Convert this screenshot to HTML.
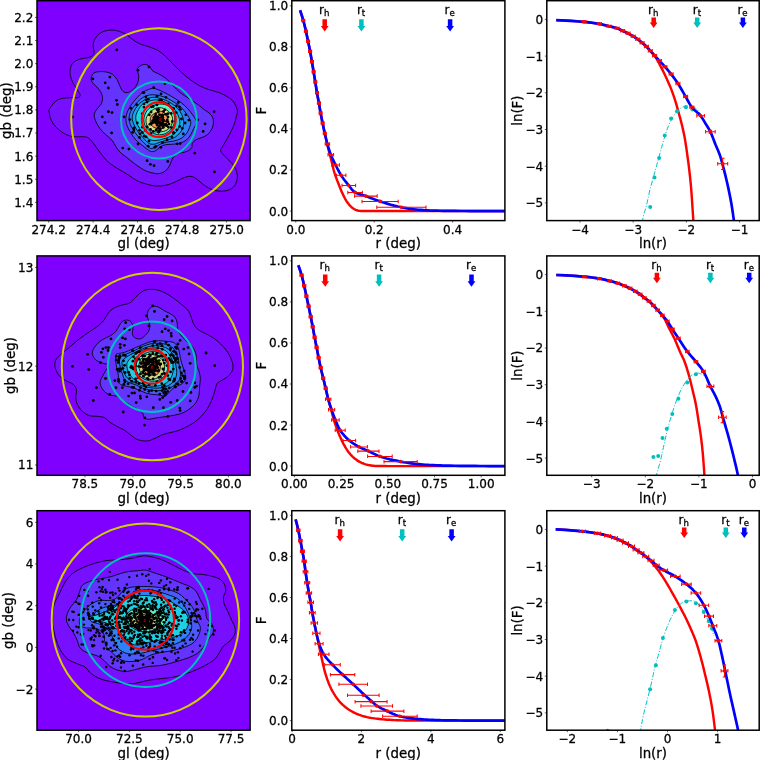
<!DOCTYPE html>
<html><head><meta charset="utf-8"><title>figure</title>
<style>html,body{margin:0;padding:0;background:#fff}svg{display:block}</style></head>
<body>
<svg width="760" height="760" viewBox="0 0 760 760" font-family="'DejaVu Sans','Liberation Sans',sans-serif" fill="#000"><style>text{stroke:#000;stroke-width:0.28px}</style>
<rect width="760" height="760" fill="#fff"/>
<defs>
<clipPath id="c00"><rect x="37.00" y="0.70" width="213.10" height="219.90"/></clipPath>
<clipPath id="c01"><rect x="37.00" y="255.90" width="213.10" height="219.40"/></clipPath>
<clipPath id="c02"><rect x="37.00" y="510.70" width="213.10" height="219.50"/></clipPath>
<clipPath id="c10"><rect x="291.80" y="0.70" width="213.10" height="219.90"/></clipPath>
<clipPath id="c11"><rect x="291.80" y="255.90" width="213.10" height="219.40"/></clipPath>
<clipPath id="c12"><rect x="291.80" y="510.70" width="213.10" height="219.50"/></clipPath>
<clipPath id="c20"><rect x="546.80" y="0.70" width="212.40" height="219.90"/></clipPath>
<clipPath id="c21"><rect x="546.80" y="255.90" width="212.40" height="219.40"/></clipPath>
<clipPath id="c22"><rect x="546.80" y="510.70" width="212.40" height="219.50"/></clipPath>
</defs>
<g clip-path="url(#c00)">
<rect x="37.00" y="0.70" width="213.10" height="219.90" fill="#7f00ff"/>
<path d="M49.75,108.50C51.15,106.33 54.44,101.70 57.70,99.90C60.96,98.10 65.92,98.07 69.30,97.70C72.68,97.33 76.20,98.18 78.00,97.70C79.80,97.22 80.23,96.13 80.10,94.80C79.97,93.47 78.52,91.98 77.20,89.70C75.88,87.42 73.40,83.98 72.20,81.10C71.00,78.22 70.00,75.30 70.00,72.40C70.00,69.50 70.63,65.88 72.20,63.70C73.77,61.52 76.50,60.38 79.40,59.30C82.30,58.22 87.18,58.15 89.60,57.20C92.02,56.25 93.30,55.65 93.90,53.60C94.50,51.55 92.97,47.43 93.20,44.90C93.43,42.37 93.98,40.45 95.30,38.40C96.62,36.35 98.68,33.98 101.10,32.60C103.52,31.22 106.90,30.35 109.80,30.10C112.70,29.85 115.72,30.33 118.50,31.10C121.28,31.87 124.08,33.25 126.50,34.70C128.92,36.15 130.72,38.23 133.00,39.80C135.28,41.37 137.42,42.90 140.20,44.10C142.98,45.30 146.67,45.90 149.70,47.00C152.73,48.10 155.75,49.13 158.40,50.70C161.05,52.27 163.20,54.23 165.60,56.40C168.00,58.57 170.15,61.03 172.80,63.70C175.45,66.37 178.60,69.75 181.50,72.40C184.40,75.05 187.30,77.43 190.20,79.60C193.10,81.77 195.77,83.72 198.90,85.40C202.03,87.08 205.62,88.50 209.00,89.70C212.38,90.90 216.07,91.38 219.20,92.60C222.33,93.82 225.40,95.43 227.80,97.00C230.20,98.57 232.02,99.83 233.60,102.00C235.18,104.17 236.82,107.70 237.30,110.00C237.78,112.30 237.12,113.15 236.50,115.80C235.88,118.45 235.05,122.28 233.60,125.90C232.15,129.52 229.60,134.12 227.80,137.50C226.00,140.88 224.00,144.03 222.80,146.20C221.60,148.37 220.48,149.05 220.60,150.50C220.72,151.95 221.82,152.97 223.50,154.90C225.18,156.83 228.65,159.70 230.70,162.10C232.75,164.50 234.70,166.65 235.80,169.30C236.90,171.95 237.53,175.22 237.30,178.00C237.07,180.78 235.98,183.95 234.40,186.00C232.82,188.05 230.33,189.45 227.80,190.30C225.27,191.15 222.08,191.33 219.20,191.10C216.32,190.87 213.17,190.00 210.50,188.90C207.83,187.80 205.38,186.07 203.20,184.50C201.02,182.93 199.20,180.82 197.40,179.50C195.60,178.18 194.08,177.08 192.40,176.60C190.72,176.12 189.12,176.23 187.30,176.60C185.48,176.97 183.67,177.83 181.50,178.80C179.33,179.77 176.95,181.32 174.30,182.40C171.65,183.48 168.73,184.70 165.60,185.30C162.47,185.90 158.68,186.20 155.50,186.00C152.32,185.80 149.53,184.95 146.50,184.10C143.47,183.25 140.28,182.40 137.30,180.90C134.32,179.40 131.25,176.78 128.60,175.10C125.95,173.42 123.80,172.25 121.40,170.80C119.00,169.35 116.62,168.08 114.20,166.40C111.78,164.72 109.32,163.10 106.90,160.70C104.48,158.30 101.87,154.78 99.70,152.00C97.53,149.22 95.58,146.18 93.90,144.00C92.22,141.82 91.05,140.10 89.60,138.90C88.15,137.70 87.13,137.15 85.20,136.80C83.27,136.45 80.42,136.92 78.00,136.80C75.58,136.68 73.12,136.70 70.70,136.10C68.28,135.50 65.90,134.65 63.50,133.20C61.10,131.75 58.35,129.58 56.30,127.40C54.25,125.22 52.37,122.52 51.20,120.10C50.03,117.68 49.54,114.83 49.30,112.90C49.06,110.97 48.35,110.67 49.75,108.50Z" fill="#7610ff" stroke="#000" stroke-width="0.85"/>
<path d="M101.10,104.20C102.03,102.43 102.60,100.33 102.60,98.40C102.60,96.47 102.07,94.53 101.10,92.60C100.13,90.67 98.25,88.48 96.80,86.80C95.35,85.12 93.33,83.97 92.40,82.50C91.47,81.03 90.95,79.57 91.20,78.00C91.45,76.43 92.48,74.17 93.90,73.10C95.32,72.03 97.53,71.77 99.70,71.60C101.87,71.43 104.73,71.62 106.90,72.10C109.07,72.58 111.00,73.25 112.70,74.50C114.40,75.75 115.90,77.67 117.10,79.60C118.30,81.53 118.95,84.17 119.90,86.10C120.85,88.03 121.58,90.12 122.80,91.20C124.02,92.28 125.50,92.85 127.20,92.60C128.90,92.35 131.32,91.15 133.00,89.70C134.68,88.25 136.33,86.07 137.30,83.90C138.27,81.73 138.80,79.10 138.80,76.70C138.80,74.30 137.07,71.30 137.30,69.50C137.53,67.70 138.87,66.75 140.20,65.90C141.53,65.05 143.72,64.28 145.30,64.40C146.88,64.52 148.48,65.52 149.70,66.60C150.92,67.68 151.15,69.70 152.60,70.90C154.05,72.10 156.23,72.58 158.40,73.80C160.57,75.02 163.20,76.27 165.60,78.20C168.00,80.13 170.38,83.00 172.80,85.40C175.22,87.80 177.43,90.43 180.10,92.60C182.77,94.77 185.92,96.47 188.80,98.40C191.68,100.33 194.75,102.27 197.40,104.20C200.05,106.13 202.77,108.55 204.70,110.00C206.63,111.45 207.68,111.70 209.00,112.90C210.32,114.10 211.87,115.52 212.60,117.20C213.33,118.88 213.52,121.07 213.40,123.00C213.28,124.93 212.87,126.87 211.90,128.80C210.93,130.73 209.28,133.15 207.60,134.60C205.92,136.05 203.73,136.65 201.80,137.50C199.87,138.35 197.57,138.73 196.00,139.70C194.43,140.67 193.12,141.98 192.40,143.30C191.68,144.62 192.55,146.27 191.70,147.60C190.85,148.93 189.00,150.45 187.30,151.30C185.60,152.15 183.43,152.10 181.50,152.70C179.57,153.30 177.27,153.82 175.70,154.90C174.13,155.98 173.07,157.52 172.10,159.20C171.13,160.88 170.98,163.07 169.90,165.00C168.82,166.93 167.52,169.35 165.60,170.80C163.68,172.25 161.05,173.47 158.40,173.70C155.75,173.93 152.18,172.87 149.70,172.20C147.22,171.53 146.05,171.13 143.50,169.70C140.95,168.27 137.12,165.58 134.40,163.60C131.68,161.62 129.62,159.73 127.20,157.80C124.78,155.87 121.83,153.93 119.90,152.00C117.97,150.07 116.80,148.02 115.60,146.20C114.40,144.38 113.90,142.67 112.70,141.10C111.50,139.53 110.08,138.37 108.40,136.80C106.72,135.23 104.30,133.52 102.60,131.70C100.90,129.88 99.42,127.83 98.20,125.90C96.98,123.97 95.95,122.03 95.30,120.10C94.65,118.17 94.02,116.15 94.30,114.30C94.58,112.45 95.87,110.68 97.00,109.00C98.13,107.32 100.17,105.97 101.10,104.20Z" fill="#6434fe" stroke="#000" stroke-width="0.85"/>
<path d="M153.79,88.42C155.72,88.60 157.82,89.56 160.11,90.53C162.39,91.49 165.02,92.89 167.47,94.21C169.93,95.53 172.56,97.02 174.84,98.42C177.12,99.82 179.05,100.96 181.16,102.63C183.26,104.30 185.46,106.23 187.47,108.42C189.49,110.61 191.77,113.51 193.26,115.79C194.75,118.07 196.33,120.00 196.42,122.11C196.51,124.21 194.75,126.32 193.79,128.42C192.82,130.53 191.86,132.81 190.63,134.74C189.40,136.67 188.18,138.60 186.42,140.00C184.67,141.40 182.39,142.46 180.11,143.16C177.82,143.86 175.19,143.95 172.74,144.21C170.28,144.47 167.47,144.30 165.37,144.74C163.26,145.18 161.68,145.88 160.11,146.84C158.53,147.81 157.30,149.74 155.89,150.53C154.49,151.32 153.09,151.75 151.68,151.58C150.28,151.40 149.05,150.53 147.47,149.47C145.89,148.42 144.14,146.84 142.21,145.26C140.28,143.68 137.82,142.11 135.89,140.00C133.96,137.89 132.12,135.09 130.63,132.63C129.14,130.18 127.74,127.72 126.95,125.26C126.16,122.81 125.72,120.35 125.89,117.89C126.07,115.44 127.04,112.81 128.00,110.53C128.96,108.25 130.19,106.32 131.68,104.21C133.18,102.11 135.19,99.82 136.95,97.89C138.70,95.96 140.28,94.04 142.21,92.63C144.14,91.23 146.60,90.18 148.53,89.47C150.46,88.77 151.86,88.25 153.79,88.42Z" fill="#4a5afb" stroke="#000" stroke-width="0.85"/>
<path d="M152.74,94.74C155.02,94.74 157.65,95.18 160.11,95.79C162.56,96.40 165.02,97.28 167.47,98.42C169.93,99.56 172.56,101.14 174.84,102.63C177.12,104.12 179.23,105.53 181.16,107.37C183.09,109.21 184.84,111.40 186.42,113.68C188.00,115.96 190.11,118.77 190.63,121.05C191.16,123.33 190.28,125.26 189.58,127.37C188.88,129.47 187.82,131.84 186.42,133.68C185.02,135.53 183.26,137.19 181.16,138.42C179.05,139.65 176.25,140.44 173.79,141.05C171.33,141.67 168.70,141.58 166.42,142.11C164.14,142.63 162.04,143.33 160.11,144.21C158.18,145.09 156.42,146.67 154.84,147.37C153.26,148.07 152.04,148.77 150.63,148.42C149.23,148.07 148.00,146.67 146.42,145.26C144.84,143.86 142.91,141.93 141.16,140.00C139.40,138.07 137.56,135.96 135.89,133.68C134.23,131.40 132.30,128.77 131.16,126.32C130.02,123.86 129.14,121.40 129.05,118.95C128.96,116.49 129.67,113.86 130.63,111.58C131.60,109.30 133.26,107.28 134.84,105.26C136.42,103.25 138.18,101.05 140.11,99.47C142.04,97.89 144.32,96.58 146.42,95.79C148.53,95.00 150.46,94.74 152.74,94.74Z" fill="#2e82f6" stroke="#000" stroke-width="0.85"/>
<path d="M152.74,97.37C155.37,97.11 157.65,97.81 160.11,98.42C162.56,99.04 165.02,99.82 167.47,101.05C169.93,102.28 172.74,104.04 174.84,105.79C176.95,107.54 178.70,109.39 180.11,111.58C181.51,113.77 182.74,116.49 183.26,118.95C183.79,121.40 183.79,124.04 183.26,126.32C182.74,128.60 181.51,130.79 180.11,132.63C178.70,134.47 176.95,136.14 174.84,137.37C172.74,138.60 169.93,139.21 167.47,140.00C165.02,140.79 162.39,141.40 160.11,142.11C157.82,142.81 155.72,144.04 153.79,144.21C151.86,144.39 150.28,144.21 148.53,143.16C146.77,142.11 145.02,139.82 143.26,137.89C141.51,135.96 139.58,133.86 138.00,131.58C136.42,129.30 134.75,126.49 133.79,124.21C132.82,121.93 132.21,120.00 132.21,117.89C132.21,115.79 132.82,113.68 133.79,111.58C134.75,109.47 136.25,107.19 138.00,105.26C139.75,103.33 141.86,101.32 144.32,100.00C146.77,98.68 150.11,97.63 152.74,97.37Z" fill="#14a8ee" stroke="#000" stroke-width="0.85"/>
<path d="M153.79,100.00C156.95,99.56 159.58,100.26 162.21,101.05C164.84,101.84 167.39,103.16 169.58,104.74C171.77,106.32 173.79,108.33 175.37,110.53C176.95,112.72 178.35,115.44 179.05,117.89C179.75,120.35 180.02,122.98 179.58,125.26C179.14,127.54 177.91,129.74 176.42,131.58C174.93,133.42 172.82,135.09 170.63,136.32C168.44,137.54 165.72,138.25 163.26,138.95C160.81,139.65 158.18,140.44 155.89,140.53C153.61,140.61 151.51,140.44 149.58,139.47C147.65,138.51 145.98,136.58 144.32,134.74C142.65,132.89 140.89,130.53 139.58,128.42C138.26,126.32 137.04,124.21 136.42,122.11C135.81,120.00 135.54,117.89 135.89,115.79C136.25,113.68 137.30,111.49 138.53,109.47C139.75,107.46 140.72,105.26 143.26,103.68C145.81,102.11 150.63,100.44 153.79,100.00Z" fill="#1fd0e2" stroke="#000" stroke-width="0.85"/>
<path d="M174.71,119.30C174.70,120.89 174.49,122.57 174.00,124.07C173.50,125.57 172.69,127.05 171.75,128.32C170.81,129.58 169.63,130.72 168.37,131.67C167.12,132.62 165.69,133.47 164.21,134.00C162.74,134.53 161.07,134.86 159.50,134.84C157.93,134.83 156.29,134.44 154.81,133.92C153.33,133.39 151.92,132.59 150.61,131.69C149.31,130.79 148.01,129.75 146.99,128.51C145.97,127.26 145.01,125.78 144.49,124.24C143.96,122.71 143.76,120.92 143.84,119.30C143.91,117.68 144.37,116.01 144.95,114.51C145.53,113.01 146.34,111.56 147.30,110.32C148.25,109.07 149.43,107.92 150.70,107.03C151.97,106.15 153.45,105.49 154.91,105.00C156.38,104.52 157.94,104.23 159.50,104.12C161.06,104.02 162.73,104.01 164.29,104.38C165.84,104.74 167.50,105.38 168.82,106.31C170.13,107.24 171.31,108.60 172.19,109.96C173.06,111.33 173.64,112.95 174.07,114.51C174.49,116.06 174.72,117.71 174.71,119.30Z" fill="#5cf5c8" stroke="#000" stroke-width="0.85"/>
<path d="M172.62,120.20C172.58,121.48 172.30,122.80 171.87,124.00C171.43,125.21 170.83,126.45 170.01,127.45C169.20,128.46 168.12,129.39 166.99,130.06C165.85,130.72 164.50,131.12 163.22,131.45C161.94,131.77 160.63,131.93 159.30,132.00C157.97,132.08 156.56,132.14 155.22,131.90C153.88,131.65 152.41,131.23 151.24,130.54C150.07,129.84 148.99,128.79 148.19,127.72C147.40,126.64 146.83,125.34 146.45,124.09C146.08,122.84 145.90,121.47 145.97,120.20C146.04,118.93 146.38,117.60 146.89,116.44C147.41,115.29 148.22,114.23 149.04,113.26C149.87,112.29 150.81,111.42 151.84,110.63C152.87,109.84 153.99,109.03 155.23,108.53C156.48,108.03 157.93,107.66 159.30,107.63C160.67,107.61 162.13,107.94 163.42,108.38C164.71,108.82 165.93,109.52 167.04,110.27C168.15,111.03 169.22,111.90 170.06,112.91C170.90,113.92 171.65,115.12 172.08,116.33C172.51,117.55 172.65,118.92 172.62,120.20Z" fill="#d4dd80" stroke="#000" stroke-width="0.85"/>
<path d="M167.80,120.20C167.71,121.07 167.39,121.93 167.08,122.73C166.77,123.54 166.38,124.30 165.93,125.05C165.47,125.80 165.00,126.62 164.33,127.24C163.67,127.86 162.82,128.46 161.95,128.76C161.07,129.06 160.03,129.08 159.10,129.03C158.17,128.97 157.25,128.70 156.37,128.42C155.49,128.13 154.59,127.80 153.81,127.31C153.03,126.82 152.24,126.20 151.68,125.47C151.13,124.74 150.74,123.81 150.49,122.93C150.24,122.06 150.17,121.10 150.20,120.20C150.22,119.30 150.34,118.35 150.65,117.52C150.95,116.68 151.46,115.85 152.04,115.19C152.63,114.53 153.43,114.04 154.18,113.57C154.92,113.11 155.68,112.75 156.50,112.39C157.33,112.03 158.18,111.60 159.10,111.43C160.02,111.26 161.10,111.17 162.03,111.38C162.96,111.60 163.91,112.14 164.65,112.73C165.40,113.32 166.01,114.15 166.50,114.94C166.99,115.74 167.39,116.62 167.61,117.50C167.82,118.37 167.88,119.33 167.80,120.20Z" fill="#ff9850" stroke="#000" stroke-width="0.85"/>
<path d="M162.55,120.40C162.56,120.71 162.55,121.03 162.46,121.33C162.38,121.63 162.23,121.92 162.05,122.18C161.87,122.43 161.64,122.66 161.39,122.86C161.14,123.06 160.86,123.25 160.56,123.37C160.27,123.48 159.91,123.55 159.60,123.53C159.29,123.51 158.95,123.39 158.67,123.25C158.40,123.11 158.16,122.89 157.93,122.69C157.71,122.50 157.50,122.29 157.31,122.06C157.13,121.83 156.93,121.58 156.81,121.31C156.69,121.03 156.61,120.71 156.59,120.40C156.57,120.09 156.61,119.76 156.69,119.45C156.77,119.15 156.89,118.82 157.07,118.56C157.24,118.29 157.49,118.03 157.76,117.86C158.02,117.69 158.36,117.59 158.67,117.53C158.98,117.47 159.29,117.48 159.60,117.50C159.91,117.51 160.21,117.53 160.51,117.61C160.80,117.69 161.12,117.79 161.37,117.97C161.62,118.14 161.85,118.39 162.02,118.64C162.19,118.90 162.30,119.20 162.39,119.49C162.48,119.79 162.54,120.09 162.55,120.40Z" fill="#ff2010" stroke="#000" stroke-width="0.85"/>
<g fill="#000"><circle cx="116.8" cy="49.9" r="1.40"/><circle cx="138.0" cy="70.2" r="1.40"/><circle cx="92.9" cy="78.9" r="1.40"/><circle cx="109.8" cy="77.1" r="1.40"/><circle cx="105.2" cy="82.8" r="1.40"/><circle cx="108.4" cy="88.0" r="1.40"/><circle cx="116.5" cy="100.3" r="1.40"/><circle cx="117.3" cy="104.5" r="1.40"/><circle cx="143.1" cy="92.6" r="1.40"/><circle cx="130.8" cy="108.3" r="1.40"/><circle cx="149.0" cy="66.9" r="1.40"/><circle cx="164.9" cy="83.5" r="1.40"/><circle cx="153.7" cy="87.6" r="1.40"/><circle cx="143.9" cy="92.6" r="1.40"/><circle cx="161.0" cy="93.8" r="1.40"/><circle cx="165.9" cy="97.3" r="1.40"/><circle cx="146.1" cy="99.9" r="1.40"/><circle cx="178.3" cy="102.5" r="1.40"/><circle cx="179.4" cy="107.1" r="1.40"/><circle cx="156.9" cy="104.9" r="1.40"/><circle cx="143.9" cy="107.1" r="1.40"/><circle cx="214.1" cy="111.7" r="1.40"/><circle cx="205.1" cy="123.8" r="1.40"/><circle cx="203.2" cy="131.4" r="1.40"/><circle cx="197.7" cy="119.8" r="1.40"/><circle cx="194.8" cy="153.1" r="1.40"/><circle cx="214.5" cy="171.9" r="1.40"/><circle cx="180.1" cy="143.6" r="1.40"/><circle cx="167.8" cy="161.4" r="1.40"/><circle cx="147.1" cy="160.7" r="1.40"/><circle cx="150.4" cy="164.3" r="1.40"/><circle cx="154.0" cy="165.7" r="1.40"/><circle cx="160.8" cy="147.3" r="1.40"/><circle cx="148.2" cy="146.2" r="1.40"/><circle cx="149.0" cy="141.1" r="1.40"/><circle cx="146.1" cy="136.8" r="1.40"/><circle cx="167.1" cy="139.7" r="1.40"/><circle cx="182.3" cy="128.5" r="1.40"/><circle cx="185.1" cy="123.0" r="1.40"/><circle cx="188.8" cy="120.1" r="1.40"/><circle cx="72.5" cy="116.9" r="1.40"/><circle cx="102.3" cy="116.8" r="1.40"/><circle cx="108.4" cy="111.7" r="1.40"/><circle cx="112.0" cy="112.6" r="1.40"/><circle cx="105.0" cy="122.7" r="1.40"/><circle cx="111.6" cy="132.9" r="1.40"/><circle cx="124.0" cy="116.8" r="1.40"/><circle cx="122.8" cy="148.1" r="1.40"/><circle cx="128.9" cy="149.1" r="1.40"/><circle cx="132.7" cy="132.4" r="1.40"/><circle cx="139.5" cy="130.3" r="1.40"/><circle cx="137.3" cy="123.0" r="1.40"/><circle cx="139.5" cy="137.5" r="1.40"/><circle cx="138.0" cy="144.0" r="1.40"/><circle cx="153.2" cy="106.5" r="1.40"/><circle cx="153.3" cy="131.4" r="1.40"/><circle cx="155.8" cy="146.3" r="1.40"/><circle cx="154.7" cy="147.3" r="1.40"/><circle cx="144.1" cy="103.8" r="1.40"/><circle cx="140.0" cy="133.8" r="1.40"/><circle cx="171.4" cy="127.6" r="1.40"/><circle cx="148.3" cy="99.3" r="1.40"/><circle cx="146.0" cy="96.9" r="1.40"/><circle cx="159.6" cy="100.3" r="1.40"/><circle cx="133.9" cy="129.9" r="1.40"/><circle cx="142.3" cy="113.6" r="1.40"/><circle cx="147.1" cy="102.1" r="1.40"/><circle cx="162.6" cy="142.5" r="1.40"/><circle cx="180.4" cy="109.3" r="1.40"/><circle cx="161.4" cy="100.2" r="1.40"/><circle cx="134.0" cy="128.0" r="1.40"/><circle cx="173.4" cy="108.4" r="1.40"/><circle cx="185.8" cy="114.8" r="1.40"/><circle cx="144.2" cy="136.1" r="1.40"/><circle cx="136.7" cy="104.7" r="1.40"/><circle cx="172.3" cy="121.5" r="1.40"/><circle cx="173.7" cy="133.2" r="1.40"/><circle cx="129.9" cy="119.6" r="1.40"/><circle cx="171.9" cy="137.1" r="1.40"/><circle cx="142.4" cy="127.2" r="1.40"/><circle cx="173.2" cy="108.5" r="1.40"/><circle cx="173.5" cy="132.3" r="1.40"/><circle cx="183.3" cy="133.9" r="1.40"/><circle cx="157.0" cy="96.2" r="1.40"/><circle cx="176.1" cy="112.6" r="1.40"/><circle cx="142.3" cy="132.5" r="1.40"/><circle cx="181.4" cy="119.0" r="1.40"/><circle cx="176.8" cy="129.9" r="1.40"/><circle cx="169.0" cy="124.1" r="1.40"/><circle cx="158.1" cy="110.6" r="1.40"/><circle cx="157.0" cy="125.1" r="1.40"/><circle cx="145.3" cy="130.4" r="1.40"/><circle cx="159.6" cy="114.7" r="1.40"/><circle cx="157.9" cy="116.7" r="1.40"/><circle cx="156.7" cy="117.8" r="1.40"/><circle cx="161.3" cy="124.9" r="1.40"/><circle cx="161.9" cy="115.7" r="1.40"/><circle cx="153.8" cy="119.7" r="1.40"/><circle cx="154.8" cy="117.6" r="1.40"/><circle cx="157.0" cy="119.0" r="1.40"/><circle cx="163.3" cy="127.4" r="1.40"/><circle cx="162.6" cy="115.2" r="1.40"/><circle cx="152.6" cy="120.8" r="1.40"/><circle cx="153.6" cy="121.9" r="1.40"/><circle cx="163.6" cy="125.0" r="1.40"/><circle cx="168.1" cy="113.6" r="1.40"/><circle cx="159.4" cy="126.4" r="1.40"/><circle cx="155.9" cy="122.7" r="1.40"/><circle cx="165.5" cy="125.1" r="1.40"/><circle cx="157.9" cy="120.8" r="1.40"/><circle cx="163.5" cy="111.5" r="1.40"/><circle cx="168.0" cy="116.9" r="1.40"/><circle cx="163.0" cy="124.8" r="1.40"/><circle cx="160.0" cy="120.6" r="1.40"/><circle cx="163.6" cy="120.1" r="1.40"/><circle cx="156.1" cy="130.1" r="1.40"/><circle cx="158.6" cy="132.3" r="1.40"/><circle cx="156.5" cy="120.2" r="1.40"/><circle cx="158.5" cy="130.8" r="1.40"/><circle cx="157.0" cy="109.6" r="1.40"/><circle cx="158.6" cy="109.3" r="1.40"/><circle cx="157.5" cy="125.1" r="1.40"/><circle cx="160.1" cy="119.0" r="1.40"/><circle cx="159.9" cy="123.5" r="1.40"/><circle cx="161.2" cy="123.2" r="1.40"/><circle cx="167.2" cy="119.9" r="1.40"/><circle cx="151.2" cy="124.1" r="1.40"/><circle cx="166.6" cy="121.2" r="1.40"/><circle cx="158.3" cy="112.1" r="1.40"/><circle cx="152.9" cy="121.6" r="1.40"/><circle cx="158.7" cy="121.4" r="1.40"/><circle cx="160.1" cy="130.3" r="1.40"/><circle cx="165.4" cy="114.3" r="1.40"/><circle cx="153.9" cy="120.5" r="1.40"/><circle cx="160.8" cy="118.1" r="1.40"/><circle cx="160.2" cy="119.7" r="1.40"/><circle cx="150.5" cy="129.4" r="1.40"/><circle cx="153.2" cy="122.4" r="1.40"/><circle cx="162.8" cy="117.9" r="1.40"/><circle cx="163.4" cy="121.2" r="1.40"/><circle cx="165.5" cy="124.5" r="1.40"/><circle cx="162.5" cy="115.0" r="1.40"/><circle cx="161.7" cy="119.0" r="1.40"/><circle cx="160.3" cy="128.7" r="1.40"/><circle cx="166.1" cy="125.0" r="1.40"/><circle cx="155.0" cy="120.2" r="1.40"/><circle cx="158.8" cy="117.8" r="1.40"/><circle cx="161.7" cy="119.6" r="1.40"/><circle cx="151.1" cy="112.0" r="1.40"/><circle cx="166.7" cy="125.5" r="1.40"/><circle cx="155.3" cy="122.2" r="1.40"/><circle cx="159.2" cy="121.1" r="1.40"/><circle cx="171.2" cy="113.4" r="1.40"/><circle cx="155.1" cy="116.5" r="1.40"/><circle cx="156.7" cy="123.2" r="1.40"/><circle cx="168.0" cy="121.8" r="1.40"/><circle cx="153.8" cy="117.7" r="1.40"/><circle cx="157.3" cy="123.1" r="1.40"/><circle cx="162.4" cy="125.5" r="1.40"/><circle cx="162.1" cy="116.8" r="1.40"/><circle cx="162.8" cy="117.5" r="1.40"/><circle cx="161.6" cy="115.7" r="1.40"/><circle cx="166.9" cy="114.2" r="1.40"/><circle cx="165.1" cy="124.7" r="1.40"/><circle cx="162.8" cy="123.2" r="1.40"/><circle cx="155.9" cy="122.2" r="1.40"/><circle cx="155.7" cy="114.1" r="1.40"/><circle cx="149.3" cy="114.8" r="1.40"/><circle cx="155.4" cy="116.2" r="1.40"/><circle cx="150.9" cy="133.7" r="1.40"/><circle cx="157.9" cy="128.2" r="1.40"/><circle cx="147.2" cy="127.0" r="1.40"/><circle cx="164.8" cy="109.8" r="1.40"/><circle cx="179.7" cy="126.4" r="1.40"/><circle cx="176.4" cy="105.9" r="1.40"/><circle cx="177.2" cy="143.8" r="1.40"/><circle cx="157.2" cy="122.9" r="1.40"/><circle cx="168.3" cy="127.1" r="1.40"/><circle cx="151.4" cy="123.2" r="1.40"/><circle cx="168.3" cy="104.0" r="1.40"/><circle cx="151.4" cy="106.8" r="1.40"/><circle cx="149.9" cy="124.2" r="1.40"/></g>
<path d="M159.2,118.4 l2,0 l-2,2 l2,0" fill="none" stroke="#f00" stroke-width="0.6"/>
<ellipse cx="158.90" cy="119.05" rx="87.70" ry="90.85" fill="none" stroke="#cdd000" stroke-width="2.00"/>
<ellipse cx="158.90" cy="119.90" rx="37.90" ry="38.50" fill="none" stroke="#00bfbf" stroke-width="2.00"/>
<ellipse cx="158.80" cy="119.60" rx="17.00" ry="17.40" fill="none" stroke="#ff0000" stroke-width="2.10"/>
</g>
<rect x="37.00" y="0.70" width="213.10" height="219.90" fill="none" stroke="#000" stroke-width="1.50"/>
<line x1="48.60" y1="220.60" x2="48.60" y2="222.60" stroke="#000" stroke-width="0.6"/>
<text x="48.60" y="233.50" font-size="12.0" text-anchor="middle" >274.2</text>
<line x1="93.10" y1="220.60" x2="93.10" y2="222.60" stroke="#000" stroke-width="0.6"/>
<text x="93.10" y="233.50" font-size="12.0" text-anchor="middle" >274.4</text>
<line x1="137.60" y1="220.60" x2="137.60" y2="222.60" stroke="#000" stroke-width="0.6"/>
<text x="137.60" y="233.50" font-size="12.0" text-anchor="middle" >274.6</text>
<line x1="182.10" y1="220.60" x2="182.10" y2="222.60" stroke="#000" stroke-width="0.6"/>
<text x="182.10" y="233.50" font-size="12.0" text-anchor="middle" >274.8</text>
<line x1="226.60" y1="220.60" x2="226.60" y2="222.60" stroke="#000" stroke-width="0.6"/>
<text x="226.60" y="233.50" font-size="12.0" text-anchor="middle" >275.0</text>
<line x1="35.00" y1="17.40" x2="37.00" y2="17.40" stroke="#000" stroke-width="0.6"/>
<text x="33.30" y="21.85" font-size="12.0" text-anchor="end" >2.2</text>
<line x1="35.00" y1="40.53" x2="37.00" y2="40.53" stroke="#000" stroke-width="0.6"/>
<text x="33.30" y="44.98" font-size="12.0" text-anchor="end" >2.1</text>
<line x1="35.00" y1="63.65" x2="37.00" y2="63.65" stroke="#000" stroke-width="0.6"/>
<text x="33.30" y="68.10" font-size="12.0" text-anchor="end" >2.0</text>
<line x1="35.00" y1="86.78" x2="37.00" y2="86.78" stroke="#000" stroke-width="0.6"/>
<text x="33.30" y="91.23" font-size="12.0" text-anchor="end" >1.9</text>
<line x1="35.00" y1="109.90" x2="37.00" y2="109.90" stroke="#000" stroke-width="0.6"/>
<text x="33.30" y="114.35" font-size="12.0" text-anchor="end" >1.8</text>
<line x1="35.00" y1="133.03" x2="37.00" y2="133.03" stroke="#000" stroke-width="0.6"/>
<text x="33.30" y="137.48" font-size="12.0" text-anchor="end" >1.7</text>
<line x1="35.00" y1="156.15" x2="37.00" y2="156.15" stroke="#000" stroke-width="0.6"/>
<text x="33.30" y="160.60" font-size="12.0" text-anchor="end" >1.6</text>
<line x1="35.00" y1="179.28" x2="37.00" y2="179.28" stroke="#000" stroke-width="0.6"/>
<text x="33.30" y="183.73" font-size="12.0" text-anchor="end" >1.5</text>
<line x1="35.00" y1="202.40" x2="37.00" y2="202.40" stroke="#000" stroke-width="0.6"/>
<text x="33.30" y="206.85" font-size="12.0" text-anchor="end" >1.4</text>
<text x="143.55" y="248.20" font-size="13.4" text-anchor="middle" >gl (deg)</text>
<text transform="translate(11.30,110.65) rotate(-90)" font-size="13.4" text-anchor="middle">gb (deg)</text>
<g clip-path="url(#c01)">
<rect x="37.00" y="255.90" width="213.10" height="219.40" fill="#7f00ff"/>
<path d="M54.80,365.00C54.80,363.07 55.08,361.13 56.30,359.20C57.52,357.27 59.70,355.57 62.10,353.40C64.50,351.23 67.82,348.62 70.70,346.20C73.58,343.78 76.25,341.32 79.40,338.90C82.55,336.48 86.47,333.87 89.60,331.70C92.73,329.53 95.80,327.83 98.20,325.90C100.60,323.97 102.30,322.27 104.00,320.10C105.70,317.93 106.70,314.95 108.40,312.90C110.10,310.85 111.80,309.13 114.20,307.80C116.60,306.47 120.15,305.73 122.80,304.90C125.45,304.07 127.92,304.12 130.10,302.80C132.28,301.48 133.97,298.82 135.90,297.00C137.83,295.18 139.88,293.12 141.70,291.90C143.52,290.68 144.75,290.12 146.80,289.70C148.85,289.28 151.58,289.15 154.00,289.40C156.42,289.65 158.88,290.30 161.30,291.20C163.72,292.10 166.10,293.35 168.50,294.80C170.90,296.25 173.28,298.08 175.70,299.90C178.12,301.72 180.82,303.78 183.00,305.70C185.18,307.62 187.35,309.23 188.80,311.40C190.25,313.57 190.73,316.28 191.70,318.70C192.67,321.12 193.17,323.85 194.60,325.90C196.03,327.95 198.13,329.55 200.30,331.00C202.47,332.45 205.18,333.28 207.60,334.60C210.02,335.92 212.63,337.33 214.80,338.90C216.97,340.47 218.67,342.07 220.60,344.00C222.53,345.93 224.72,348.20 226.40,350.50C228.08,352.80 229.62,355.38 230.70,357.80C231.78,360.22 232.65,362.83 232.90,365.00C233.15,367.17 233.05,368.87 232.20,370.80C231.35,372.73 229.48,375.03 227.80,376.60C226.12,378.17 223.90,379.00 222.10,380.20C220.30,381.40 218.22,381.98 217.00,383.80C215.78,385.62 215.65,388.45 214.80,391.10C213.95,393.75 213.10,396.82 211.90,399.70C210.70,402.58 209.28,405.73 207.60,408.40C205.92,411.07 203.97,413.40 201.80,415.70C199.63,418.00 197.25,420.28 194.60,422.20C191.95,424.12 188.80,425.75 185.90,427.20C183.00,428.65 180.10,429.93 177.20,430.90C174.30,431.87 171.15,432.28 168.50,433.00C165.85,433.72 163.72,434.23 161.30,435.20C158.88,436.17 156.42,437.83 154.00,438.80C151.58,439.77 149.58,440.88 146.80,441.00C144.02,441.12 140.08,440.58 137.30,439.50C134.52,438.42 132.27,436.07 130.10,434.50C127.93,432.93 126.47,431.43 124.30,430.10C122.13,428.77 119.52,427.82 117.10,426.50C114.68,425.18 111.85,423.65 109.80,422.20C107.75,420.75 106.73,418.77 104.80,417.80C102.87,416.83 100.73,416.75 98.20,416.40C95.67,416.05 92.25,416.55 89.60,415.70C86.95,414.85 84.37,413.23 82.30,411.30C80.23,409.37 78.28,406.52 77.20,404.10C76.12,401.68 75.92,399.10 75.80,396.80C75.68,394.50 76.87,392.35 76.50,390.30C76.13,388.25 75.28,386.07 73.60,384.50C71.92,382.93 68.68,382.22 66.40,380.90C64.12,379.58 61.58,378.28 59.90,376.60C58.22,374.92 57.15,372.73 56.30,370.80C55.45,368.87 54.80,366.93 54.80,365.00Z" fill="#7610ff" stroke="#000" stroke-width="0.85"/>
<path d="M93.20,356.30C92.47,354.85 92.05,353.68 92.40,352.00C92.75,350.32 93.85,348.13 95.30,346.20C96.75,344.27 98.68,342.08 101.10,340.40C103.52,338.72 107.38,337.55 109.80,336.10C112.22,334.65 114.03,333.40 115.60,331.70C117.17,330.00 118.12,327.58 119.20,325.90C120.28,324.22 120.88,322.57 122.10,321.60C123.32,320.63 125.05,320.10 126.50,320.10C127.95,320.10 129.72,320.38 130.80,321.60C131.88,322.82 132.75,325.47 133.00,327.40C133.25,329.33 132.07,331.52 132.30,333.20C132.53,334.88 133.08,336.55 134.40,337.50C135.72,338.45 138.38,339.27 140.20,338.90C142.02,338.53 143.83,336.73 145.30,335.30C146.77,333.87 148.27,332.10 149.00,330.30C149.73,328.50 149.95,326.68 149.70,324.50C149.45,322.32 147.75,319.50 147.50,317.20C147.25,314.90 147.35,312.50 148.20,310.70C149.05,308.90 150.90,307.00 152.60,306.40C154.30,305.80 156.47,306.38 158.40,307.10C160.33,307.82 162.28,309.62 164.20,310.70C166.12,311.78 168.10,312.52 169.90,313.60C171.70,314.68 173.78,315.63 175.00,317.20C176.22,318.77 176.72,320.82 177.20,323.00C177.68,325.18 177.18,328.12 177.90,330.30C178.62,332.48 179.93,334.18 181.50,336.10C183.07,338.02 185.37,339.88 187.30,341.80C189.23,343.72 191.65,345.42 193.10,347.60C194.55,349.78 195.40,352.00 196.00,354.90C196.60,357.80 196.22,362.35 196.70,365.00C197.18,367.65 198.30,368.63 198.90,370.80C199.50,372.97 200.18,375.35 200.30,378.00C200.42,380.65 199.83,383.80 199.60,386.70C199.37,389.60 199.50,392.75 198.90,395.40C198.30,398.05 197.45,400.43 196.00,402.60C194.55,404.77 192.37,406.70 190.20,408.40C188.03,410.10 185.42,411.72 183.00,412.80C180.58,413.88 178.35,414.30 175.70,414.90C173.05,415.50 170.23,415.92 167.10,416.40C163.97,416.88 160.05,417.32 156.90,417.80C153.75,418.28 150.37,419.42 148.20,419.30C146.03,419.18 144.87,418.18 143.90,417.10C142.93,416.02 143.73,414.25 142.40,412.80C141.07,411.35 138.20,409.85 135.90,408.40C133.60,406.95 131.02,405.67 128.60,404.10C126.18,402.53 123.32,400.33 121.40,399.00C119.48,397.67 118.78,396.70 117.10,396.10C115.42,395.50 113.23,396.00 111.30,395.40C109.37,394.80 107.20,393.95 105.50,392.50C103.80,391.05 101.95,388.63 101.10,386.70C100.25,384.77 99.92,383.07 100.40,380.90C100.88,378.73 102.67,376.35 104.00,373.70C105.33,371.05 108.40,366.68 108.40,365.00C108.40,363.32 105.93,364.32 104.00,363.60C102.07,362.88 98.60,361.92 96.80,360.70C95.00,359.48 93.93,357.75 93.20,356.30Z" fill="#6434fe" stroke="#000" stroke-width="0.85"/>
<path d="M116.26,354.42C115.82,355.61 115.65,358.46 115.74,360.74C115.82,363.02 116.35,365.65 116.79,368.11C117.23,370.56 118.11,373.19 118.37,375.47C118.63,377.75 117.84,380.21 118.37,381.79C118.89,383.37 119.95,384.16 121.53,384.95C123.11,385.74 125.74,386.00 127.84,386.53C129.95,387.05 132.05,387.40 134.16,388.11C136.26,388.81 138.37,389.86 140.47,390.74C142.58,391.61 144.68,392.75 146.79,393.37C148.89,393.98 151.00,394.16 153.11,394.42C155.21,394.68 157.49,394.68 159.42,394.95C161.35,395.21 163.19,396.26 164.68,396.00C166.18,395.74 167.14,394.51 168.37,393.37C169.60,392.23 170.56,390.39 172.05,389.16C173.54,387.93 175.56,386.96 177.32,386.00C179.07,385.04 181.18,384.60 182.58,383.37C183.98,382.14 185.39,380.47 185.74,378.63C186.09,376.79 185.21,374.42 184.68,372.32C184.16,370.21 183.28,368.28 182.58,366.00C181.88,363.72 181.00,360.91 180.47,358.63C179.95,356.35 179.95,354.42 179.42,352.32C178.89,350.21 178.37,347.67 177.32,346.00C176.26,344.33 175.04,343.11 173.11,342.32C171.18,341.53 168.19,341.53 165.74,341.26C163.28,341.00 160.65,340.74 158.37,340.74C156.09,340.74 154.16,340.82 152.05,341.26C149.95,341.70 147.84,342.58 145.74,343.37C143.63,344.16 141.70,345.04 139.42,346.00C137.14,346.96 134.51,348.11 132.05,349.16C129.60,350.21 126.96,351.58 124.68,352.32C122.40,353.05 119.77,353.23 118.37,353.58C116.96,353.93 116.70,353.23 116.26,354.42Z" fill="#4a5afb" stroke="#000" stroke-width="0.85"/>
<path d="M119.42,360.74C119.25,362.67 119.95,365.82 120.47,368.11C121.00,370.39 121.88,372.49 122.58,374.42C123.28,376.35 123.46,378.28 124.68,379.68C125.91,381.09 128.02,381.96 129.95,382.84C131.88,383.72 134.16,384.07 136.26,384.95C138.37,385.82 140.47,387.32 142.58,388.11C144.68,388.89 146.61,389.25 148.89,389.68C151.18,390.12 153.81,390.65 156.26,390.74C158.72,390.82 161.35,390.65 163.63,390.21C165.91,389.77 168.02,389.07 169.95,388.11C171.88,387.14 173.63,385.82 175.21,384.42C176.79,383.02 178.54,381.53 179.42,379.68C180.30,377.84 180.47,375.47 180.47,373.37C180.47,371.26 179.77,369.33 179.42,367.05C179.07,364.77 178.89,361.96 178.37,359.68C177.84,357.40 177.14,355.30 176.26,353.37C175.39,351.44 174.51,349.51 173.11,348.11C171.70,346.70 169.95,345.74 167.84,344.95C165.74,344.16 162.93,343.63 160.47,343.37C158.02,343.11 155.39,343.11 153.11,343.37C150.82,343.63 148.89,344.25 146.79,344.95C144.68,345.65 142.58,346.61 140.47,347.58C138.37,348.54 136.44,349.68 134.16,350.74C131.88,351.79 128.89,352.93 126.79,353.89C124.68,354.86 122.75,355.39 121.53,356.53C120.30,357.67 119.60,358.81 119.42,360.74Z" fill="#2e82f6" stroke="#000" stroke-width="0.85"/>
<path d="M122.05,363.89C122.14,365.47 122.49,368.19 123.11,370.21C123.72,372.23 124.60,374.33 125.74,376.00C126.88,377.67 128.19,378.98 129.95,380.21C131.70,381.44 134.16,382.40 136.26,383.37C138.37,384.33 140.30,385.30 142.58,386.00C144.86,386.70 147.49,387.23 149.95,387.58C152.40,387.93 154.86,388.19 157.32,388.11C159.77,388.02 162.40,387.75 164.68,387.05C166.96,386.35 169.25,385.21 171.00,383.89C172.75,382.58 174.25,381.09 175.21,379.16C176.18,377.23 176.70,374.68 176.79,372.32C176.88,369.95 176.18,367.40 175.74,364.95C175.30,362.49 174.95,359.77 174.16,357.58C173.37,355.39 172.40,353.46 171.00,351.79C169.60,350.12 167.84,348.54 165.74,347.58C163.63,346.61 160.65,346.26 158.37,346.00C156.09,345.74 154.16,345.74 152.05,346.00C149.95,346.26 147.84,346.88 145.74,347.58C143.63,348.28 141.70,349.16 139.42,350.21C137.14,351.26 134.33,352.67 132.05,353.89C129.77,355.12 127.32,356.44 125.74,357.58C124.16,358.72 123.19,359.68 122.58,360.74C121.96,361.79 121.96,362.32 122.05,363.89Z" fill="#14a8ee" stroke="#000" stroke-width="0.85"/>
<path d="M126.79,364.95C126.70,366.70 127.14,369.33 127.84,371.26C128.54,373.19 129.60,374.95 131.00,376.53C132.40,378.11 134.33,379.51 136.26,380.74C138.19,381.96 140.30,383.02 142.58,383.89C144.86,384.77 147.49,385.65 149.95,386.00C152.40,386.35 155.04,386.26 157.32,386.00C159.60,385.74 161.70,385.30 163.63,384.42C165.56,383.54 167.49,382.23 168.89,380.74C170.30,379.25 171.35,377.40 172.05,375.47C172.75,373.54 173.02,371.44 173.11,369.16C173.19,366.88 173.11,364.07 172.58,361.79C172.05,359.51 171.09,357.32 169.95,355.47C168.81,353.63 167.49,351.93 165.74,350.74C163.98,349.54 161.70,348.75 159.42,348.32C157.14,347.88 154.33,347.96 152.05,348.11C149.77,348.25 147.84,348.54 145.74,349.16C143.63,349.77 141.53,350.65 139.42,351.79C137.32,352.93 134.95,354.51 133.11,356.00C131.26,357.49 129.42,359.25 128.37,360.74C127.32,362.23 126.88,363.19 126.79,364.95Z" fill="#1fd0e2" stroke="#000" stroke-width="0.85"/>
<path d="M167.84,366.50C167.90,368.06 167.65,369.74 167.14,371.23C166.63,372.72 165.77,374.18 164.78,375.43C163.80,376.68 162.58,377.85 161.25,378.74C159.92,379.63 158.36,380.35 156.82,380.75C155.27,381.15 153.57,381.21 152.00,381.12C150.43,381.02 148.87,380.65 147.37,380.20C145.87,379.75 144.37,379.20 143.00,378.42C141.63,377.63 140.20,376.66 139.16,375.47C138.11,374.28 137.24,372.77 136.72,371.27C136.21,369.78 136.04,368.08 136.09,366.50C136.13,364.92 136.45,363.29 136.99,361.81C137.53,360.33 138.33,358.86 139.33,357.65C140.32,356.43 141.63,355.38 142.96,354.53C144.28,353.68 145.79,353.06 147.29,352.58C148.80,352.09 150.41,351.72 152.00,351.65C153.59,351.57 155.33,351.68 156.86,352.13C158.39,352.58 159.91,353.41 161.18,354.35C162.45,355.30 163.53,356.54 164.46,357.79C165.39,359.05 166.20,360.44 166.77,361.89C167.33,363.34 167.78,364.94 167.84,366.50Z" fill="#5cf5c8" stroke="#000" stroke-width="0.85"/>
<path d="M164.49,366.80C164.53,368.07 164.42,369.43 164.04,370.66C163.66,371.88 163.02,373.13 162.21,374.16C161.41,375.18 160.32,376.06 159.22,376.81C158.13,377.56 156.90,378.18 155.63,378.64C154.36,379.10 152.96,379.52 151.60,379.57C150.24,379.63 148.72,379.43 147.46,378.97C146.19,378.50 144.99,377.64 144.00,376.78C143.00,375.92 142.19,374.87 141.47,373.82C140.76,372.77 140.12,371.66 139.68,370.49C139.25,369.32 138.94,368.05 138.88,366.80C138.82,365.55 139.00,364.24 139.34,363.00C139.68,361.77 140.19,360.50 140.90,359.39C141.61,358.27 142.51,357.11 143.60,356.29C144.68,355.48 146.08,354.82 147.41,354.51C148.75,354.19 150.25,354.26 151.60,354.40C152.95,354.54 154.25,354.93 155.50,355.36C156.74,355.79 157.99,356.28 159.08,356.98C160.17,357.69 161.24,358.56 162.04,359.57C162.83,360.57 163.43,361.80 163.84,363.01C164.25,364.21 164.46,365.53 164.49,366.80Z" fill="#d4dd80" stroke="#000" stroke-width="0.85"/>
<path d="M160.34,366.80C160.36,367.69 160.20,368.60 159.99,369.50C159.78,370.39 159.53,371.35 159.06,372.17C158.59,372.99 157.95,373.89 157.17,374.43C156.38,374.96 155.30,375.28 154.36,375.39C153.41,375.50 152.40,375.26 151.50,375.11C150.60,374.95 149.79,374.71 148.96,374.44C148.14,374.16 147.29,373.91 146.54,373.47C145.80,373.03 145.07,372.44 144.49,371.78C143.90,371.12 143.42,370.32 143.04,369.49C142.65,368.66 142.29,367.73 142.19,366.80C142.09,365.87 142.11,364.80 142.43,363.92C142.74,363.04 143.40,362.18 144.07,361.52C144.73,360.86 145.61,360.40 146.40,359.94C147.19,359.47 147.97,359.05 148.82,358.74C149.67,358.42 150.59,358.08 151.50,358.04C152.41,358.00 153.41,358.19 154.26,358.51C155.10,358.83 155.87,359.42 156.57,359.97C157.27,360.53 157.91,361.16 158.46,361.85C159.01,362.55 159.55,363.32 159.86,364.14C160.17,364.97 160.32,365.91 160.34,366.80Z" fill="#ff9850" stroke="#000" stroke-width="0.85"/>
<path d="M154.49,367.00C154.53,367.30 154.57,367.64 154.52,367.95C154.46,368.26 154.33,368.59 154.15,368.85C153.96,369.11 153.68,369.33 153.41,369.50C153.15,369.67 152.84,369.79 152.53,369.88C152.23,369.96 151.91,370.03 151.60,370.02C151.29,370.02 150.96,369.95 150.68,369.85C150.39,369.74 150.12,369.56 149.87,369.38C149.63,369.19 149.40,368.98 149.21,368.74C149.02,368.49 148.84,368.22 148.74,367.93C148.64,367.64 148.60,367.30 148.62,367.00C148.63,366.70 148.74,366.39 148.84,366.10C148.94,365.82 149.07,365.54 149.23,365.28C149.39,365.01 149.56,364.73 149.79,364.51C150.03,364.30 150.32,364.10 150.63,364.00C150.93,363.90 151.28,363.87 151.60,363.89C151.92,363.91 152.25,364.00 152.54,364.11C152.83,364.23 153.12,364.39 153.35,364.59C153.59,364.79 153.78,365.05 153.94,365.30C154.09,365.56 154.18,365.85 154.27,366.13C154.37,366.41 154.45,366.70 154.49,367.00Z" fill="#ff2010" stroke="#000" stroke-width="0.85"/>
<g fill="#000"><circle cx="87.7" cy="354.3" r="1.40"/><circle cx="101.4" cy="352.3" r="1.40"/><circle cx="102.9" cy="348.8" r="1.40"/><circle cx="105.9" cy="347.6" r="1.40"/><circle cx="108.4" cy="347.6" r="1.40"/><circle cx="108.1" cy="350.5" r="1.40"/><circle cx="103.3" cy="357.3" r="1.40"/><circle cx="111.0" cy="338.9" r="1.40"/><circle cx="122.6" cy="337.9" r="1.40"/><circle cx="125.4" cy="338.9" r="1.40"/><circle cx="120.2" cy="344.3" r="1.40"/><circle cx="120.2" cy="347.6" r="1.40"/><circle cx="125.7" cy="322.7" r="1.40"/><circle cx="124.6" cy="328.8" r="1.40"/><circle cx="119.9" cy="355.6" r="1.40"/><circle cx="118.8" cy="358.9" r="1.40"/><circle cx="152.6" cy="305.9" r="1.40"/><circle cx="154.5" cy="311.4" r="1.40"/><circle cx="146.5" cy="315.8" r="1.40"/><circle cx="167.1" cy="316.5" r="1.40"/><circle cx="164.2" cy="319.7" r="1.40"/><circle cx="172.1" cy="320.9" r="1.40"/><circle cx="149.0" cy="325.9" r="1.40"/><circle cx="165.3" cy="328.8" r="1.40"/><circle cx="168.5" cy="330.6" r="1.40"/><circle cx="162.0" cy="331.7" r="1.40"/><circle cx="171.4" cy="336.1" r="1.40"/><circle cx="180.1" cy="340.4" r="1.40"/><circle cx="177.9" cy="344.0" r="1.40"/><circle cx="154.0" cy="341.8" r="1.40"/><circle cx="188.0" cy="347.6" r="1.40"/><circle cx="183.7" cy="349.1" r="1.40"/><circle cx="189.1" cy="353.9" r="1.40"/><circle cx="206.1" cy="353.0" r="1.40"/><circle cx="190.2" cy="363.3" r="1.40"/><circle cx="175.7" cy="358.5" r="1.40"/><circle cx="72.5" cy="366.4" r="1.40"/><circle cx="88.8" cy="369.6" r="1.40"/><circle cx="105.5" cy="378.5" r="1.40"/><circle cx="96.5" cy="387.7" r="1.40"/><circle cx="93.3" cy="400.5" r="1.40"/><circle cx="109.8" cy="394.4" r="1.40"/><circle cx="114.9" cy="380.6" r="1.40"/><circle cx="116.0" cy="387.7" r="1.40"/><circle cx="122.4" cy="387.7" r="1.40"/><circle cx="128.6" cy="396.1" r="1.40"/><circle cx="123.3" cy="412.0" r="1.40"/><circle cx="136.2" cy="402.6" r="1.40"/><circle cx="140.2" cy="396.1" r="1.40"/><circle cx="140.5" cy="398.3" r="1.40"/><circle cx="144.6" cy="425.1" r="1.40"/><circle cx="144.8" cy="417.8" r="1.40"/><circle cx="139.5" cy="390.3" r="1.40"/><circle cx="118.5" cy="379.5" r="1.40"/><circle cx="124.6" cy="380.2" r="1.40"/><circle cx="128.6" cy="372.2" r="1.40"/><circle cx="135.9" cy="381.6" r="1.40"/><circle cx="214.8" cy="365.7" r="1.40"/><circle cx="167.8" cy="416.4" r="1.40"/><circle cx="179.8" cy="408.1" r="1.40"/><circle cx="180.1" cy="410.6" r="1.40"/><circle cx="153.3" cy="407.7" r="1.40"/><circle cx="163.4" cy="407.7" r="1.40"/><circle cx="170.7" cy="402.3" r="1.40"/><circle cx="177.2" cy="400.5" r="1.40"/><circle cx="190.2" cy="400.9" r="1.40"/><circle cx="159.8" cy="399.4" r="1.40"/><circle cx="162.7" cy="397.6" r="1.40"/><circle cx="146.8" cy="396.8" r="1.40"/><circle cx="190.9" cy="392.5" r="1.40"/><circle cx="183.0" cy="391.5" r="1.40"/><circle cx="194.8" cy="387.4" r="1.40"/><circle cx="194.8" cy="382.8" r="1.40"/><circle cx="186.6" cy="383.1" r="1.40"/><circle cx="184.4" cy="378.8" r="1.40"/><circle cx="177.9" cy="383.8" r="1.40"/><circle cx="156.2" cy="391.1" r="1.40"/><circle cx="164.9" cy="391.8" r="1.40"/><circle cx="181.5" cy="373.0" r="1.40"/><circle cx="116.2" cy="359.9" r="1.40"/><circle cx="165.7" cy="355.1" r="1.40"/><circle cx="164.5" cy="373.5" r="1.40"/><circle cx="176.4" cy="354.1" r="1.40"/><circle cx="175.6" cy="347.2" r="1.40"/><circle cx="167.8" cy="375.6" r="1.40"/><circle cx="175.6" cy="360.5" r="1.40"/><circle cx="121.3" cy="369.1" r="1.40"/><circle cx="175.4" cy="387.1" r="1.40"/><circle cx="162.0" cy="345.7" r="1.40"/><circle cx="124.9" cy="382.1" r="1.40"/><circle cx="131.8" cy="381.3" r="1.40"/><circle cx="184.6" cy="376.5" r="1.40"/><circle cx="182.0" cy="381.4" r="1.40"/><circle cx="169.9" cy="379.8" r="1.40"/><circle cx="148.9" cy="391.3" r="1.40"/><circle cx="180.7" cy="378.5" r="1.40"/><circle cx="125.3" cy="355.5" r="1.40"/><circle cx="175.6" cy="352.3" r="1.40"/><circle cx="134.0" cy="367.7" r="1.40"/><circle cx="184.2" cy="370.8" r="1.40"/><circle cx="173.4" cy="355.9" r="1.40"/><circle cx="176.5" cy="383.8" r="1.40"/><circle cx="135.6" cy="378.9" r="1.40"/><circle cx="140.6" cy="387.7" r="1.40"/><circle cx="176.7" cy="348.5" r="1.40"/><circle cx="177.6" cy="362.4" r="1.40"/><circle cx="166.1" cy="342.4" r="1.40"/><circle cx="148.2" cy="378.9" r="1.40"/><circle cx="144.1" cy="385.4" r="1.40"/><circle cx="182.6" cy="375.6" r="1.40"/><circle cx="167.6" cy="391.4" r="1.40"/><circle cx="162.1" cy="374.2" r="1.40"/><circle cx="140.3" cy="347.6" r="1.40"/><circle cx="175.0" cy="386.4" r="1.40"/><circle cx="138.7" cy="366.3" r="1.40"/><circle cx="163.3" cy="359.9" r="1.40"/><circle cx="170.4" cy="355.2" r="1.40"/><circle cx="118.7" cy="381.3" r="1.40"/><circle cx="160.5" cy="376.9" r="1.40"/><circle cx="174.0" cy="358.1" r="1.40"/><circle cx="129.5" cy="374.9" r="1.40"/><circle cx="170.5" cy="348.4" r="1.40"/><circle cx="142.3" cy="355.8" r="1.40"/><circle cx="174.3" cy="379.0" r="1.40"/><circle cx="139.0" cy="383.3" r="1.40"/><circle cx="171.7" cy="361.3" r="1.40"/><circle cx="117.1" cy="369.5" r="1.40"/><circle cx="119.5" cy="356.4" r="1.40"/><circle cx="174.5" cy="380.0" r="1.40"/><circle cx="139.6" cy="351.5" r="1.40"/><circle cx="128.1" cy="383.8" r="1.40"/><circle cx="132.9" cy="361.2" r="1.40"/><circle cx="140.4" cy="374.0" r="1.40"/><circle cx="162.1" cy="390.6" r="1.40"/><circle cx="119.2" cy="368.8" r="1.40"/><circle cx="118.5" cy="361.0" r="1.40"/><circle cx="136.2" cy="381.4" r="1.40"/><circle cx="164.4" cy="363.1" r="1.40"/><circle cx="170.2" cy="349.7" r="1.40"/><circle cx="184.2" cy="377.1" r="1.40"/><circle cx="177.4" cy="358.9" r="1.40"/><circle cx="170.2" cy="360.0" r="1.40"/><circle cx="125.1" cy="372.5" r="1.40"/><circle cx="137.7" cy="352.1" r="1.40"/><circle cx="173.7" cy="381.2" r="1.40"/><circle cx="163.7" cy="392.8" r="1.40"/><circle cx="118.3" cy="362.6" r="1.40"/><circle cx="132.0" cy="387.3" r="1.40"/><circle cx="149.1" cy="384.6" r="1.40"/><circle cx="145.9" cy="386.8" r="1.40"/><circle cx="165.7" cy="388.8" r="1.40"/><circle cx="164.4" cy="385.6" r="1.40"/><circle cx="130.9" cy="367.3" r="1.40"/><circle cx="119.5" cy="371.2" r="1.40"/><circle cx="155.4" cy="385.3" r="1.40"/><circle cx="177.1" cy="358.0" r="1.40"/><circle cx="162.4" cy="387.2" r="1.40"/><circle cx="162.3" cy="349.3" r="1.40"/><circle cx="129.7" cy="378.4" r="1.40"/><circle cx="131.9" cy="367.8" r="1.40"/><circle cx="160.5" cy="355.9" r="1.40"/><circle cx="123.5" cy="355.0" r="1.40"/><circle cx="168.8" cy="358.3" r="1.40"/><circle cx="149.5" cy="354.6" r="1.40"/><circle cx="173.4" cy="362.3" r="1.40"/><circle cx="157.1" cy="353.2" r="1.40"/><circle cx="144.7" cy="356.0" r="1.40"/><circle cx="168.6" cy="345.2" r="1.40"/><circle cx="146.2" cy="348.5" r="1.40"/><circle cx="133.7" cy="387.4" r="1.40"/><circle cx="135.9" cy="353.4" r="1.40"/><circle cx="169.3" cy="387.8" r="1.40"/><circle cx="152.9" cy="345.6" r="1.40"/><circle cx="132.6" cy="350.6" r="1.40"/><circle cx="171.7" cy="362.7" r="1.40"/><circle cx="160.2" cy="343.7" r="1.40"/><circle cx="164.8" cy="395.3" r="1.40"/><circle cx="123.8" cy="384.3" r="1.40"/><circle cx="181.2" cy="381.6" r="1.40"/><circle cx="168.7" cy="379.0" r="1.40"/><circle cx="137.1" cy="358.0" r="1.40"/><circle cx="133.3" cy="369.0" r="1.40"/><circle cx="116.4" cy="356.3" r="1.40"/><circle cx="119.4" cy="357.7" r="1.40"/><circle cx="144.7" cy="389.6" r="1.40"/><circle cx="158.9" cy="377.4" r="1.40"/><circle cx="151.8" cy="390.6" r="1.40"/><circle cx="132.9" cy="350.9" r="1.40"/><circle cx="157.0" cy="382.0" r="1.40"/><circle cx="166.1" cy="393.5" r="1.40"/><circle cx="179.7" cy="367.5" r="1.40"/><circle cx="154.8" cy="341.3" r="1.40"/><circle cx="124.5" cy="365.3" r="1.40"/><circle cx="157.8" cy="348.0" r="1.40"/><circle cx="154.1" cy="374.1" r="1.40"/><circle cx="148.3" cy="363.7" r="1.40"/><circle cx="152.9" cy="373.4" r="1.40"/><circle cx="143.2" cy="372.8" r="1.40"/><circle cx="155.5" cy="368.9" r="1.40"/><circle cx="144.0" cy="363.4" r="1.40"/><circle cx="151.7" cy="359.7" r="1.40"/><circle cx="151.1" cy="371.4" r="1.40"/><circle cx="147.7" cy="360.2" r="1.40"/><circle cx="166.1" cy="360.2" r="1.40"/><circle cx="148.7" cy="374.2" r="1.40"/><circle cx="154.1" cy="373.9" r="1.40"/><circle cx="157.2" cy="366.8" r="1.40"/><circle cx="145.6" cy="365.4" r="1.40"/><circle cx="158.4" cy="363.3" r="1.40"/><circle cx="151.1" cy="368.4" r="1.40"/><circle cx="156.8" cy="364.2" r="1.40"/><circle cx="147.1" cy="359.0" r="1.40"/><circle cx="146.6" cy="362.8" r="1.40"/><circle cx="157.7" cy="367.8" r="1.40"/><circle cx="154.2" cy="358.7" r="1.40"/><circle cx="152.4" cy="361.7" r="1.40"/><circle cx="154.9" cy="367.2" r="1.40"/><circle cx="154.3" cy="375.0" r="1.40"/><circle cx="145.9" cy="367.5" r="1.40"/><circle cx="140.6" cy="366.8" r="1.40"/><circle cx="143.3" cy="376.3" r="1.40"/><circle cx="142.8" cy="361.3" r="1.40"/><circle cx="140.6" cy="362.9" r="1.40"/><circle cx="148.5" cy="370.8" r="1.40"/><circle cx="149.1" cy="372.0" r="1.40"/><circle cx="151.5" cy="368.9" r="1.40"/><circle cx="152.8" cy="353.5" r="1.40"/><circle cx="149.8" cy="370.3" r="1.40"/><circle cx="150.4" cy="369.9" r="1.40"/><circle cx="152.1" cy="366.8" r="1.40"/><circle cx="146.7" cy="369.9" r="1.40"/><circle cx="148.1" cy="373.6" r="1.40"/><circle cx="151.9" cy="366.9" r="1.40"/><circle cx="148.3" cy="361.9" r="1.40"/><circle cx="148.8" cy="357.4" r="1.40"/><circle cx="151.2" cy="366.9" r="1.40"/><circle cx="158.4" cy="363.0" r="1.40"/><circle cx="153.3" cy="363.8" r="1.40"/><circle cx="150.0" cy="360.9" r="1.40"/><circle cx="148.8" cy="368.0" r="1.40"/><circle cx="151.1" cy="370.3" r="1.40"/><circle cx="162.9" cy="368.8" r="1.40"/><circle cx="136.0" cy="361.0" r="1.40"/><circle cx="154.4" cy="371.0" r="1.40"/><circle cx="152.9" cy="368.2" r="1.40"/><circle cx="156.0" cy="354.2" r="1.40"/><circle cx="146.0" cy="369.6" r="1.40"/><circle cx="162.3" cy="356.4" r="1.40"/><circle cx="156.7" cy="360.9" r="1.40"/><circle cx="151.4" cy="371.9" r="1.40"/><circle cx="152.5" cy="369.9" r="1.40"/><circle cx="148.1" cy="363.4" r="1.40"/><circle cx="152.0" cy="362.2" r="1.40"/><circle cx="151.0" cy="368.3" r="1.40"/><circle cx="156.4" cy="357.6" r="1.40"/><circle cx="153.5" cy="368.7" r="1.40"/><circle cx="151.3" cy="365.1" r="1.40"/><circle cx="155.1" cy="370.3" r="1.40"/><circle cx="154.5" cy="366.0" r="1.40"/><circle cx="152.8" cy="361.2" r="1.40"/><circle cx="144.1" cy="367.6" r="1.40"/><circle cx="156.8" cy="364.9" r="1.40"/><circle cx="145.9" cy="359.5" r="1.40"/><circle cx="146.7" cy="360.8" r="1.40"/><circle cx="151.2" cy="361.6" r="1.40"/><circle cx="154.3" cy="366.9" r="1.40"/><circle cx="158.7" cy="370.4" r="1.40"/><circle cx="143.3" cy="366.5" r="1.40"/><circle cx="159.1" cy="360.6" r="1.40"/><circle cx="159.9" cy="364.7" r="1.40"/><circle cx="149.4" cy="369.4" r="1.40"/><circle cx="150.7" cy="372.0" r="1.40"/><circle cx="148.8" cy="361.9" r="1.40"/><circle cx="148.7" cy="368.0" r="1.40"/><circle cx="145.0" cy="364.6" r="1.40"/><circle cx="143.3" cy="355.8" r="1.40"/><circle cx="150.7" cy="360.1" r="1.40"/><circle cx="153.0" cy="363.8" r="1.40"/><circle cx="160.8" cy="364.0" r="1.40"/><circle cx="146.7" cy="364.6" r="1.40"/><circle cx="141.2" cy="363.6" r="1.40"/><circle cx="152.4" cy="368.4" r="1.40"/><circle cx="149.4" cy="361.8" r="1.40"/><circle cx="153.5" cy="358.6" r="1.40"/><circle cx="149.7" cy="369.1" r="1.40"/><circle cx="145.4" cy="363.5" r="1.40"/><circle cx="148.3" cy="370.6" r="1.40"/><circle cx="155.7" cy="362.4" r="1.40"/><circle cx="153.1" cy="373.1" r="1.40"/><circle cx="146.9" cy="360.4" r="1.40"/><circle cx="156.1" cy="360.6" r="1.40"/><circle cx="144.5" cy="370.1" r="1.40"/><circle cx="149.0" cy="375.5" r="1.40"/><circle cx="152.7" cy="362.6" r="1.40"/><circle cx="144.9" cy="374.4" r="1.40"/><circle cx="145.7" cy="374.2" r="1.40"/><circle cx="151.8" cy="370.5" r="1.40"/><circle cx="151.3" cy="365.5" r="1.40"/><circle cx="150.4" cy="355.7" r="1.40"/><circle cx="148.9" cy="358.8" r="1.40"/><circle cx="146.2" cy="362.6" r="1.40"/><circle cx="147.8" cy="369.1" r="1.40"/><circle cx="166.9" cy="365.6" r="1.40"/><circle cx="148.6" cy="363.3" r="1.40"/><circle cx="153.1" cy="378.8" r="1.40"/><circle cx="123.5" cy="360.8" r="1.40"/><circle cx="158.2" cy="356.3" r="1.40"/><circle cx="135.4" cy="365.9" r="1.40"/><circle cx="173.3" cy="369.1" r="1.40"/><circle cx="154.3" cy="370.1" r="1.40"/><circle cx="138.7" cy="377.2" r="1.40"/><circle cx="142.6" cy="371.8" r="1.40"/><circle cx="124.3" cy="345.3" r="1.40"/><circle cx="154.5" cy="358.2" r="1.40"/><circle cx="134.5" cy="393.0" r="1.40"/><circle cx="149.7" cy="366.8" r="1.40"/><circle cx="171.1" cy="333.4" r="1.40"/><circle cx="157.4" cy="371.1" r="1.40"/><circle cx="159.8" cy="394.1" r="1.40"/><circle cx="196.6" cy="386.1" r="1.40"/><circle cx="163.4" cy="369.4" r="1.40"/><circle cx="170.6" cy="371.9" r="1.40"/><circle cx="147.3" cy="378.3" r="1.40"/><circle cx="131.4" cy="366.2" r="1.40"/><circle cx="155.5" cy="361.3" r="1.40"/><circle cx="131.9" cy="393.1" r="1.40"/><circle cx="100.4" cy="362.6" r="1.40"/><circle cx="161.8" cy="383.7" r="1.40"/><circle cx="157.3" cy="344.9" r="1.40"/><circle cx="133.5" cy="356.8" r="1.40"/><circle cx="173.6" cy="351.3" r="1.40"/><circle cx="150.2" cy="374.8" r="1.40"/><circle cx="143.6" cy="359.1" r="1.40"/><circle cx="135.3" cy="358.8" r="1.40"/><circle cx="171.3" cy="354.7" r="1.40"/><circle cx="144.1" cy="370.7" r="1.40"/><circle cx="143.0" cy="383.2" r="1.40"/><circle cx="143.6" cy="359.6" r="1.40"/><circle cx="138.2" cy="377.7" r="1.40"/><circle cx="122.9" cy="368.3" r="1.40"/><circle cx="139.1" cy="359.3" r="1.40"/><circle cx="136.6" cy="373.8" r="1.40"/><circle cx="163.5" cy="388.7" r="1.40"/><circle cx="129.3" cy="329.5" r="1.40"/></g>
<path d="M150.8,366.2 l2,0 l-2,2 l2,0" fill="none" stroke="#f00" stroke-width="0.6"/>
<ellipse cx="152.40" cy="366.60" rx="90.60" ry="93.75" fill="none" stroke="#cdd000" stroke-width="2.00"/>
<ellipse cx="151.75" cy="366.80" rx="43.95" ry="45.20" fill="none" stroke="#00bfbf" stroke-width="2.00"/>
<ellipse cx="151.60" cy="366.50" rx="16.90" ry="17.15" fill="none" stroke="#ff0000" stroke-width="2.10"/>
</g>
<rect x="37.00" y="255.90" width="213.10" height="219.40" fill="none" stroke="#000" stroke-width="1.50"/>
<line x1="84.90" y1="475.30" x2="84.90" y2="477.30" stroke="#000" stroke-width="0.6"/>
<text x="84.90" y="488.20" font-size="12.0" text-anchor="middle" >78.5</text>
<line x1="132.80" y1="475.30" x2="132.80" y2="477.30" stroke="#000" stroke-width="0.6"/>
<text x="132.80" y="488.20" font-size="12.0" text-anchor="middle" >79.0</text>
<line x1="180.60" y1="475.30" x2="180.60" y2="477.30" stroke="#000" stroke-width="0.6"/>
<text x="180.60" y="488.20" font-size="12.0" text-anchor="middle" >79.5</text>
<line x1="228.40" y1="475.30" x2="228.40" y2="477.30" stroke="#000" stroke-width="0.6"/>
<text x="228.40" y="488.20" font-size="12.0" text-anchor="middle" >80.0</text>
<line x1="35.00" y1="267.40" x2="37.00" y2="267.40" stroke="#000" stroke-width="0.6"/>
<text x="33.30" y="271.85" font-size="12.0" text-anchor="end" >13</text>
<line x1="35.00" y1="366.20" x2="37.00" y2="366.20" stroke="#000" stroke-width="0.6"/>
<text x="33.30" y="370.65" font-size="12.0" text-anchor="end" >12</text>
<line x1="35.00" y1="465.00" x2="37.00" y2="465.00" stroke="#000" stroke-width="0.6"/>
<text x="33.30" y="469.45" font-size="12.0" text-anchor="end" >11</text>
<text x="143.55" y="502.90" font-size="13.4" text-anchor="middle" >gl (deg)</text>
<text transform="translate(15.40,365.60) rotate(-90)" font-size="13.4" text-anchor="middle">gb (deg)</text>
<g clip-path="url(#c02)">
<rect x="37.00" y="510.70" width="213.10" height="219.50" fill="#7f00ff"/>
<path d="M52.60,611.30C53.08,608.40 53.70,605.48 54.80,602.60C55.90,599.72 57.52,597.37 59.20,594.00C60.88,590.63 62.73,585.78 64.90,582.40C67.07,579.02 69.30,576.12 72.20,573.70C75.10,571.28 78.68,569.58 82.30,567.90C85.92,566.22 90.03,564.80 93.90,563.60C97.77,562.40 101.63,561.32 105.50,560.70C109.37,560.08 113.73,560.15 117.10,559.90C120.47,559.65 122.82,559.55 125.70,559.20C128.58,558.85 131.43,558.37 134.40,557.80C137.37,557.23 140.95,556.00 143.50,555.80C146.05,555.60 147.22,556.15 149.70,556.60C152.18,557.05 155.50,557.58 158.40,558.50C161.30,559.42 164.22,560.78 167.10,562.10C169.98,563.42 172.82,564.95 175.70,566.40C178.58,567.85 181.50,569.58 184.40,570.80C187.30,572.02 190.20,573.10 193.10,573.70C196.00,574.30 198.90,574.03 201.80,574.40C204.70,574.77 207.60,575.17 210.50,575.90C213.40,576.63 216.92,577.48 219.20,578.80C221.48,580.12 223.12,581.75 224.20,583.80C225.28,585.85 225.82,588.93 225.70,591.10C225.58,593.27 223.75,594.63 223.50,596.80C223.25,598.97 223.48,601.68 224.20,604.10C224.92,606.52 226.58,608.65 227.80,611.30C229.02,613.95 230.40,617.58 231.50,620.00C232.60,622.42 233.80,623.63 234.40,625.80C235.00,627.97 235.72,630.58 235.10,633.00C234.48,635.42 232.63,638.12 230.70,640.30C228.77,642.48 225.30,644.18 223.50,646.10C221.70,648.02 221.35,649.63 219.90,651.80C218.45,653.97 217.10,656.92 214.80,659.10C212.50,661.28 209.23,663.10 206.10,664.90C202.97,666.70 199.62,668.33 196.00,669.90C192.38,671.47 188.27,673.08 184.40,674.30C180.53,675.52 176.65,676.48 172.80,677.20C168.95,677.92 165.15,678.12 161.30,678.60C157.45,679.08 153.22,679.50 149.70,680.10C146.18,680.70 142.98,681.60 140.20,682.20C137.42,682.80 135.65,683.45 133.00,683.70C130.35,683.95 127.43,683.95 124.30,683.70C121.17,683.45 117.58,682.80 114.20,682.20C110.82,681.60 107.15,681.07 104.00,680.10C100.85,679.13 97.70,677.73 95.30,676.40C92.90,675.07 91.28,673.67 89.60,672.10C87.92,670.53 87.13,668.33 85.20,667.00C83.27,665.67 80.90,665.42 78.00,664.10C75.10,662.78 70.70,661.38 67.80,659.10C64.90,656.82 62.52,653.53 60.60,650.40C58.68,647.27 57.50,643.92 56.30,640.30C55.10,636.68 54.13,632.08 53.40,628.70C52.67,625.32 52.03,622.90 51.90,620.00C51.77,617.10 52.12,614.20 52.60,611.30Z" fill="#7610ff" stroke="#000" stroke-width="0.85"/>
<path d="M66.40,620.00C66.15,618.07 66.38,616.37 67.10,614.20C67.82,612.03 69.13,609.42 70.70,607.00C72.27,604.58 75.05,602.12 76.50,599.70C77.95,597.28 78.43,594.90 79.40,592.50C80.37,590.10 80.37,587.23 82.30,585.30C84.23,583.37 87.87,582.00 91.00,580.90C94.13,579.80 97.72,579.42 101.10,578.70C104.48,577.98 108.17,577.43 111.30,576.60C114.43,575.77 117.02,574.55 119.90,573.70C122.78,572.85 125.70,571.98 128.60,571.50C131.50,571.02 134.82,571.03 137.30,570.80C139.78,570.57 141.68,570.10 143.50,570.10C145.32,570.10 145.97,570.20 148.20,570.80C150.43,571.40 154.00,572.73 156.90,573.70C159.80,574.67 162.70,575.52 165.60,576.60C168.50,577.68 171.40,579.00 174.30,580.20C177.20,581.40 180.35,582.72 183.00,583.80C185.65,584.88 188.03,585.48 190.20,586.70C192.37,587.92 194.55,589.42 196.00,591.10C197.45,592.78 197.93,594.88 198.90,596.80C199.87,598.72 200.72,600.42 201.80,602.60C202.88,604.78 204.57,607.25 205.40,609.90C206.23,612.55 205.72,616.10 206.80,618.50C207.88,620.90 210.80,622.12 211.90,624.30C213.00,626.48 213.88,629.18 213.40,631.60C212.92,634.02 210.70,636.15 209.00,638.80C207.30,641.45 205.13,645.08 203.20,647.50C201.27,649.92 199.80,651.62 197.40,653.30C195.00,654.98 191.68,656.40 188.80,657.60C185.92,658.80 183.25,659.53 180.10,660.50C176.95,661.47 173.28,662.55 169.90,663.40C166.52,664.25 163.17,665.12 159.80,665.60C156.43,666.08 152.72,665.93 149.70,666.30C146.68,666.67 144.25,667.20 141.70,667.80C139.15,668.40 137.07,669.30 134.40,669.90C131.73,670.50 128.58,671.40 125.70,671.40C122.82,671.40 119.75,670.75 117.10,669.90C114.45,669.05 111.98,667.87 109.80,666.30C107.62,664.73 105.93,662.18 104.00,660.50C102.07,658.82 100.37,657.28 98.20,656.20C96.03,655.12 93.40,654.85 91.00,654.00C88.60,653.15 85.73,652.30 83.80,651.10C81.87,649.90 80.50,648.60 79.40,646.80C78.30,645.00 78.17,642.60 77.20,640.30C76.23,638.00 75.03,635.42 73.60,633.00C72.17,630.58 69.80,627.97 68.60,625.80C67.40,623.63 66.65,621.93 66.40,620.00Z" fill="#6434fe" stroke="#000" stroke-width="0.85"/>
<path d="M79.40,620.00C79.88,617.58 81.87,613.95 83.80,611.30C85.73,608.65 88.35,605.90 91.00,604.10C93.65,602.30 96.57,601.10 99.70,600.50C102.83,599.90 106.90,600.98 109.80,600.50C112.70,600.02 114.93,599.17 117.10,597.60C119.27,596.03 120.63,592.80 122.80,591.10C124.97,589.40 127.43,588.13 130.10,587.40C132.77,586.67 135.82,586.85 138.80,586.70C141.78,586.55 144.50,586.37 148.00,586.50C151.50,586.63 156.15,586.92 159.80,587.50C163.45,588.08 166.77,589.00 169.90,590.00C173.03,591.00 176.18,592.12 178.60,593.50C181.02,594.88 182.47,596.53 184.40,598.30C186.33,600.07 188.50,601.93 190.20,604.10C191.90,606.27 193.47,608.65 194.60,611.30C195.73,613.95 196.05,617.35 197.00,620.00C197.95,622.65 199.98,624.78 200.30,627.20C200.62,629.62 199.85,632.08 198.90,634.50C197.95,636.92 196.53,639.77 194.60,641.70C192.67,643.63 189.97,644.88 187.30,646.10C184.63,647.32 181.50,648.17 178.60,649.00C175.70,649.83 173.03,650.50 169.90,651.10C166.77,651.70 163.17,651.87 159.80,652.60C156.43,653.33 152.48,654.42 149.70,655.50C146.92,656.58 145.65,658.13 143.10,659.10C140.55,660.07 137.30,660.93 134.40,661.30C131.50,661.67 128.35,661.78 125.70,661.30C123.05,660.82 120.67,659.73 118.50,658.40C116.33,657.07 114.63,655.12 112.70,653.30C110.77,651.48 108.22,649.43 106.90,647.50C105.58,645.57 105.28,643.87 104.80,641.70C104.32,639.53 104.85,636.43 104.00,634.50C103.15,632.57 101.38,631.18 99.70,630.10C98.02,629.02 96.07,628.35 93.90,628.00C91.73,627.65 88.87,628.37 86.70,628.00C84.53,627.63 82.12,627.13 80.90,625.80C79.68,624.47 78.92,622.42 79.40,620.00Z" fill="#4a5afb" stroke="#000" stroke-width="0.85"/>
<path d="M90.50,620.50C90.02,618.33 94.30,613.55 96.80,611.30C99.30,609.05 102.60,607.97 105.50,607.00C108.40,606.03 111.55,606.23 114.20,605.50C116.85,604.77 119.00,604.05 121.40,602.60C123.80,601.15 126.25,598.65 128.60,596.80C130.95,594.95 132.77,592.65 135.50,591.50C138.23,590.35 141.72,590.03 145.00,589.90C148.28,589.77 152.20,590.18 155.20,590.70C158.20,591.22 160.55,592.22 163.00,593.00C165.45,593.78 167.53,594.52 169.90,595.40C172.27,596.28 175.02,596.85 177.20,598.30C179.38,599.75 181.32,601.93 183.00,604.10C184.68,606.27 186.05,608.65 187.30,611.30C188.55,613.95 189.77,617.35 190.50,620.00C191.23,622.65 191.98,624.78 191.70,627.20C191.42,629.62 190.25,632.32 188.80,634.50C187.35,636.68 185.18,638.73 183.00,640.30C180.82,641.87 178.35,642.82 175.70,643.90C173.05,644.98 169.98,645.95 167.10,646.80C164.22,647.65 161.30,648.28 158.40,649.00C155.50,649.72 152.60,650.38 149.70,651.10C146.80,651.82 144.27,652.82 141.00,653.30C137.73,653.78 133.13,654.25 130.10,654.00C127.07,653.75 124.97,652.88 122.80,651.80C120.63,650.72 118.53,649.18 117.10,647.50C115.67,645.82 115.17,643.87 114.20,641.70C113.23,639.53 112.52,636.67 111.30,634.50C110.08,632.33 108.83,630.40 106.90,628.70C104.97,627.00 102.43,625.67 99.70,624.30C96.97,622.93 90.98,622.67 90.50,620.50Z" fill="#2e82f6" stroke="#000" stroke-width="0.85"/>
<path d="M88.00,617.00C88.00,616.13 93.35,616.02 96.00,615.20C98.65,614.38 101.05,613.27 103.90,612.10C106.75,610.93 110.03,609.95 113.10,608.20C116.17,606.45 119.45,603.37 122.30,601.60C125.15,599.83 127.35,598.58 130.20,597.60C133.05,596.62 136.33,596.02 139.40,595.70C142.47,595.38 145.53,595.48 148.60,595.70C151.67,595.92 154.72,596.35 157.80,597.00C160.88,597.65 164.25,598.40 167.10,599.60C169.95,600.80 172.28,602.55 174.90,604.20C177.52,605.85 180.60,607.30 182.80,609.50C185.00,611.70 187.22,614.77 188.10,617.40C188.98,620.03 188.75,622.90 188.10,625.30C187.45,627.70 185.95,630.05 184.20,631.80C182.45,633.55 180.02,634.70 177.60,635.80C175.18,636.90 172.33,637.75 169.70,638.40C167.07,639.05 164.43,639.25 161.80,639.70C159.17,640.15 156.53,640.55 153.90,641.10C151.27,641.65 148.63,642.35 146.00,643.00C143.37,643.65 140.52,644.88 138.10,645.00C135.68,645.12 133.70,644.80 131.50,643.70C129.30,642.60 126.87,640.38 124.90,638.40C122.93,636.42 121.67,633.77 119.70,631.80C117.73,629.83 115.52,628.13 113.10,626.60C110.68,625.07 108.05,623.63 105.20,622.60C102.35,621.57 98.87,621.33 96.00,620.40C93.13,619.47 88.00,617.87 88.00,617.00Z" fill="#1fd0e2" stroke="#000" stroke-width="0.85"/>
<path d="M165.74,619.30C165.63,620.59 165.05,621.87 164.43,623.10C163.81,624.33 163.09,625.57 162.02,626.68C160.94,627.80 159.61,628.96 157.99,629.77C156.37,630.58 154.28,631.21 152.28,631.56C150.28,631.92 148.06,631.97 146.00,631.90C143.94,631.83 141.83,631.58 139.94,631.13C138.06,630.68 136.19,630.00 134.68,629.19C133.17,628.38 131.96,627.31 130.88,626.27C129.80,625.23 128.99,624.13 128.22,622.97C127.45,621.80 126.59,620.59 126.26,619.30C125.93,618.01 125.75,616.52 126.24,615.23C126.73,613.94 127.89,612.60 129.22,611.56C130.54,610.52 132.40,609.67 134.19,608.98C135.97,608.29 137.94,607.74 139.91,607.40C141.88,607.06 144.00,606.88 146.00,606.95C148.00,607.02 150.03,607.37 151.89,607.81C153.75,608.24 155.50,608.86 157.16,609.55C158.83,610.25 160.55,611.02 161.87,611.99C163.19,612.95 164.45,614.14 165.09,615.36C165.74,616.58 165.85,618.01 165.74,619.30Z" fill="#5cf5c8" stroke="#000" stroke-width="0.85"/>
<path d="M157.30,620.40C157.37,621.22 157.37,622.07 157.11,622.90C156.85,623.73 156.47,624.66 155.74,625.38C155.01,626.11 153.88,626.79 152.72,627.25C151.55,627.72 150.11,627.96 148.77,628.18C147.43,628.40 146.08,628.51 144.70,628.55C143.32,628.59 141.85,628.61 140.52,628.39C139.18,628.18 137.78,627.77 136.70,627.24C135.61,626.71 134.73,625.95 134.02,625.22C133.30,624.49 132.78,623.68 132.42,622.88C132.06,622.07 131.81,621.22 131.85,620.40C131.88,619.58 132.21,618.73 132.65,617.97C133.10,617.20 133.81,616.50 134.52,615.81C135.24,615.11 135.98,614.40 136.96,613.78C137.93,613.16 139.06,612.46 140.35,612.09C141.64,611.72 143.28,611.51 144.70,611.56C146.12,611.62 147.62,612.00 148.89,612.39C150.16,612.78 151.29,613.33 152.32,613.89C153.34,614.45 154.30,615.05 155.04,615.73C155.78,616.41 156.36,617.19 156.73,617.97C157.11,618.75 157.24,619.58 157.30,620.40Z" fill="#d4dd80" stroke="#000" stroke-width="0.85"/>
<path d="M151.59,620.00C151.63,620.57 151.48,621.18 151.25,621.73C151.02,622.29 150.67,622.86 150.20,623.31C149.72,623.77 149.07,624.20 148.39,624.45C147.71,624.70 146.86,624.77 146.12,624.81C145.39,624.86 144.70,624.76 144.00,624.74C143.30,624.71 142.65,624.75 141.94,624.68C141.22,624.61 140.40,624.56 139.74,624.32C139.07,624.08 138.41,623.68 137.95,623.24C137.49,622.80 137.18,622.22 136.95,621.69C136.72,621.15 136.57,620.56 136.56,620.00C136.55,619.44 136.64,618.82 136.91,618.30C137.18,617.78 137.67,617.29 138.16,616.88C138.66,616.46 139.27,616.14 139.87,615.82C140.48,615.50 141.09,615.17 141.78,614.97C142.47,614.76 143.27,614.58 144.00,614.60C144.73,614.61 145.52,614.83 146.18,615.07C146.83,615.31 147.36,615.70 147.92,616.03C148.48,616.35 149.02,616.66 149.53,617.04C150.04,617.43 150.62,617.84 150.97,618.33C151.31,618.83 151.54,619.43 151.59,620.00Z" fill="#ff9850" stroke="#000" stroke-width="0.85"/>
<path d="M147.24,620.50C147.24,620.75 147.19,621.01 147.10,621.25C147.02,621.49 146.89,621.72 146.74,621.93C146.58,622.14 146.40,622.35 146.18,622.51C145.96,622.66 145.69,622.79 145.42,622.84C145.16,622.90 144.86,622.88 144.60,622.84C144.34,622.81 144.09,622.72 143.85,622.64C143.61,622.55 143.37,622.47 143.14,622.35C142.92,622.23 142.68,622.09 142.50,621.91C142.32,621.72 142.17,621.49 142.07,621.26C141.97,621.02 141.92,620.76 141.91,620.50C141.90,620.24 141.92,619.97 142.01,619.72C142.10,619.48 142.25,619.23 142.43,619.04C142.61,618.85 142.86,618.71 143.10,618.59C143.33,618.47 143.58,618.39 143.83,618.32C144.08,618.25 144.34,618.18 144.60,618.16C144.86,618.14 145.15,618.14 145.41,618.21C145.66,618.27 145.92,618.41 146.13,618.56C146.34,618.71 146.52,618.91 146.67,619.11C146.83,619.31 146.97,619.53 147.07,619.76C147.16,619.99 147.23,620.25 147.24,620.50Z" fill="#ff2010" stroke="#000" stroke-width="0.85"/>
<g fill="#000"><circle cx="176.5" cy="618.1" r="1.20"/><circle cx="156.4" cy="623.9" r="1.20"/><circle cx="163.5" cy="612.3" r="1.20"/><circle cx="134.8" cy="634.9" r="1.20"/><circle cx="166.0" cy="643.9" r="1.20"/><circle cx="116.3" cy="617.0" r="1.20"/><circle cx="117.5" cy="579.8" r="1.20"/><circle cx="126.0" cy="627.8" r="1.20"/><circle cx="184.7" cy="602.9" r="1.20"/><circle cx="144.6" cy="629.1" r="1.20"/><circle cx="136.4" cy="609.3" r="1.20"/><circle cx="118.9" cy="606.2" r="1.20"/><circle cx="151.0" cy="626.3" r="1.20"/><circle cx="129.5" cy="641.6" r="1.20"/><circle cx="169.7" cy="622.6" r="1.20"/><circle cx="187.8" cy="619.6" r="1.20"/><circle cx="190.9" cy="617.6" r="1.20"/><circle cx="155.6" cy="602.3" r="1.20"/><circle cx="120.4" cy="612.3" r="1.20"/><circle cx="181.8" cy="601.6" r="1.20"/><circle cx="138.6" cy="587.7" r="1.20"/><circle cx="129.3" cy="577.1" r="1.20"/><circle cx="148.1" cy="625.6" r="1.20"/><circle cx="111.4" cy="657.0" r="1.20"/><circle cx="152.7" cy="625.5" r="1.20"/><circle cx="137.3" cy="598.1" r="1.20"/><circle cx="146.9" cy="620.1" r="1.20"/><circle cx="142.2" cy="620.1" r="1.20"/><circle cx="155.2" cy="614.2" r="1.20"/><circle cx="164.1" cy="589.3" r="1.20"/><circle cx="153.6" cy="618.1" r="1.20"/><circle cx="157.3" cy="625.9" r="1.20"/><circle cx="166.5" cy="626.5" r="1.20"/><circle cx="103.5" cy="636.8" r="1.20"/><circle cx="159.1" cy="646.3" r="1.20"/><circle cx="134.3" cy="592.2" r="1.20"/><circle cx="146.1" cy="615.8" r="1.20"/><circle cx="106.3" cy="624.3" r="1.20"/><circle cx="157.9" cy="625.8" r="1.20"/><circle cx="150.5" cy="614.9" r="1.20"/><circle cx="126.4" cy="616.4" r="1.20"/><circle cx="111.6" cy="640.0" r="1.20"/><circle cx="149.2" cy="610.7" r="1.20"/><circle cx="143.5" cy="611.5" r="1.20"/><circle cx="141.2" cy="643.0" r="1.20"/><circle cx="147.1" cy="622.8" r="1.20"/><circle cx="152.7" cy="605.2" r="1.20"/><circle cx="156.3" cy="618.5" r="1.20"/><circle cx="193.7" cy="613.3" r="1.20"/><circle cx="142.8" cy="628.2" r="1.20"/><circle cx="145.1" cy="600.3" r="1.20"/><circle cx="151.5" cy="620.3" r="1.20"/><circle cx="161.8" cy="599.9" r="1.20"/><circle cx="115.5" cy="618.8" r="1.20"/><circle cx="141.8" cy="616.5" r="1.20"/><circle cx="159.8" cy="609.3" r="1.20"/><circle cx="178.5" cy="624.3" r="1.20"/><circle cx="129.0" cy="617.4" r="1.20"/><circle cx="135.3" cy="597.7" r="1.20"/><circle cx="157.7" cy="625.7" r="1.20"/><circle cx="93.9" cy="614.3" r="1.20"/><circle cx="88.1" cy="595.8" r="1.20"/><circle cx="106.6" cy="618.2" r="1.20"/><circle cx="134.6" cy="608.6" r="1.20"/><circle cx="128.4" cy="617.8" r="1.20"/><circle cx="148.1" cy="612.5" r="1.20"/><circle cx="130.4" cy="643.5" r="1.20"/><circle cx="163.7" cy="602.2" r="1.20"/><circle cx="96.0" cy="620.9" r="1.20"/><circle cx="123.8" cy="630.6" r="1.20"/><circle cx="94.6" cy="621.7" r="1.20"/><circle cx="81.7" cy="644.5" r="1.20"/><circle cx="127.4" cy="617.8" r="1.20"/><circle cx="146.2" cy="622.0" r="1.20"/><circle cx="163.9" cy="616.6" r="1.20"/><circle cx="106.4" cy="642.7" r="1.20"/><circle cx="103.2" cy="626.4" r="1.20"/><circle cx="167.3" cy="633.3" r="1.20"/><circle cx="127.9" cy="626.4" r="1.20"/><circle cx="112.2" cy="620.5" r="1.20"/><circle cx="100.7" cy="655.8" r="1.20"/><circle cx="102.1" cy="623.7" r="1.20"/><circle cx="145.0" cy="642.9" r="1.20"/><circle cx="135.6" cy="618.0" r="1.20"/><circle cx="143.7" cy="623.2" r="1.20"/><circle cx="156.7" cy="628.5" r="1.20"/><circle cx="113.0" cy="595.1" r="1.20"/><circle cx="118.7" cy="638.4" r="1.20"/><circle cx="139.6" cy="607.4" r="1.20"/><circle cx="158.5" cy="631.5" r="1.20"/><circle cx="137.8" cy="617.2" r="1.20"/><circle cx="77.4" cy="632.5" r="1.20"/><circle cx="100.1" cy="622.1" r="1.20"/><circle cx="139.4" cy="639.9" r="1.20"/><circle cx="133.8" cy="610.3" r="1.20"/><circle cx="149.7" cy="626.5" r="1.20"/><circle cx="126.2" cy="623.3" r="1.20"/><circle cx="112.6" cy="601.8" r="1.20"/><circle cx="89.0" cy="614.5" r="1.20"/><circle cx="150.4" cy="622.7" r="1.20"/><circle cx="137.2" cy="641.5" r="1.20"/><circle cx="131.5" cy="638.5" r="1.20"/><circle cx="168.9" cy="588.4" r="1.20"/><circle cx="141.3" cy="622.7" r="1.20"/><circle cx="103.5" cy="619.9" r="1.20"/><circle cx="123.9" cy="627.1" r="1.20"/><circle cx="134.2" cy="611.1" r="1.20"/><circle cx="163.4" cy="632.1" r="1.20"/><circle cx="143.1" cy="603.1" r="1.20"/><circle cx="88.2" cy="612.6" r="1.20"/><circle cx="122.6" cy="631.5" r="1.20"/><circle cx="147.6" cy="606.9" r="1.20"/><circle cx="126.6" cy="627.1" r="1.20"/><circle cx="104.4" cy="627.8" r="1.20"/><circle cx="114.8" cy="612.1" r="1.20"/><circle cx="102.5" cy="632.0" r="1.20"/><circle cx="102.6" cy="586.9" r="1.20"/><circle cx="148.5" cy="648.4" r="1.20"/><circle cx="172.2" cy="623.8" r="1.20"/><circle cx="140.6" cy="635.0" r="1.20"/><circle cx="150.4" cy="639.2" r="1.20"/><circle cx="136.4" cy="619.7" r="1.20"/><circle cx="140.2" cy="612.4" r="1.20"/><circle cx="150.0" cy="644.0" r="1.20"/><circle cx="158.2" cy="627.2" r="1.20"/><circle cx="156.7" cy="613.3" r="1.20"/><circle cx="134.5" cy="617.6" r="1.20"/><circle cx="125.5" cy="619.0" r="1.20"/><circle cx="169.6" cy="639.5" r="1.20"/><circle cx="128.0" cy="607.5" r="1.20"/><circle cx="169.1" cy="622.8" r="1.20"/><circle cx="191.4" cy="637.9" r="1.20"/><circle cx="131.8" cy="626.2" r="1.20"/><circle cx="134.4" cy="612.1" r="1.20"/><circle cx="157.6" cy="591.9" r="1.20"/><circle cx="161.1" cy="597.9" r="1.20"/><circle cx="160.4" cy="613.5" r="1.20"/><circle cx="150.2" cy="626.2" r="1.20"/><circle cx="113.8" cy="628.3" r="1.20"/><circle cx="142.1" cy="599.1" r="1.20"/><circle cx="129.5" cy="655.2" r="1.20"/><circle cx="104.2" cy="612.7" r="1.20"/><circle cx="142.6" cy="644.4" r="1.20"/><circle cx="128.9" cy="615.3" r="1.20"/><circle cx="142.3" cy="643.2" r="1.20"/><circle cx="136.6" cy="627.8" r="1.20"/><circle cx="182.3" cy="640.4" r="1.20"/><circle cx="129.9" cy="600.7" r="1.20"/><circle cx="106.5" cy="633.3" r="1.20"/><circle cx="99.6" cy="615.8" r="1.20"/><circle cx="106.7" cy="624.7" r="1.20"/><circle cx="176.2" cy="606.1" r="1.20"/><circle cx="101.9" cy="619.1" r="1.20"/><circle cx="190.7" cy="623.4" r="1.20"/><circle cx="125.0" cy="597.9" r="1.20"/><circle cx="171.1" cy="645.5" r="1.20"/><circle cx="147.4" cy="625.9" r="1.20"/><circle cx="107.5" cy="625.5" r="1.20"/><circle cx="166.5" cy="647.0" r="1.20"/><circle cx="153.5" cy="650.6" r="1.20"/><circle cx="200.0" cy="645.7" r="1.20"/><circle cx="139.6" cy="618.6" r="1.20"/><circle cx="161.5" cy="619.0" r="1.20"/><circle cx="87.9" cy="606.1" r="1.20"/><circle cx="113.8" cy="640.1" r="1.20"/><circle cx="141.2" cy="624.3" r="1.20"/><circle cx="147.5" cy="612.1" r="1.20"/><circle cx="196.8" cy="616.4" r="1.20"/><circle cx="146.1" cy="575.9" r="1.20"/><circle cx="154.7" cy="621.9" r="1.20"/><circle cx="146.6" cy="618.1" r="1.20"/><circle cx="134.0" cy="601.1" r="1.20"/><circle cx="101.2" cy="623.7" r="1.20"/><circle cx="139.4" cy="622.9" r="1.20"/><circle cx="173.5" cy="639.8" r="1.20"/><circle cx="145.1" cy="633.1" r="1.20"/><circle cx="123.4" cy="595.9" r="1.20"/><circle cx="109.3" cy="612.9" r="1.20"/><circle cx="121.7" cy="661.4" r="1.20"/><circle cx="155.6" cy="641.0" r="1.20"/><circle cx="159.9" cy="615.2" r="1.20"/><circle cx="149.8" cy="637.2" r="1.20"/><circle cx="148.3" cy="627.5" r="1.20"/><circle cx="147.1" cy="615.2" r="1.20"/><circle cx="133.7" cy="636.1" r="1.20"/><circle cx="166.0" cy="619.9" r="1.20"/><circle cx="105.8" cy="618.4" r="1.20"/><circle cx="161.0" cy="611.1" r="1.20"/><circle cx="115.5" cy="618.6" r="1.20"/><circle cx="148.8" cy="620.1" r="1.20"/><circle cx="122.0" cy="613.3" r="1.20"/><circle cx="124.4" cy="627.7" r="1.20"/><circle cx="135.2" cy="616.6" r="1.20"/><circle cx="94.2" cy="645.4" r="1.20"/><circle cx="90.7" cy="630.5" r="1.20"/><circle cx="99.5" cy="587.3" r="1.20"/><circle cx="193.1" cy="634.7" r="1.20"/><circle cx="184.2" cy="640.6" r="1.20"/><circle cx="144.7" cy="624.5" r="1.20"/><circle cx="184.1" cy="630.2" r="1.20"/><circle cx="120.9" cy="631.2" r="1.20"/><circle cx="121.8" cy="606.1" r="1.20"/><circle cx="198.7" cy="615.1" r="1.20"/><circle cx="114.4" cy="635.7" r="1.20"/><circle cx="141.9" cy="619.7" r="1.20"/><circle cx="137.9" cy="602.1" r="1.20"/><circle cx="105.8" cy="592.4" r="1.20"/><circle cx="145.3" cy="618.9" r="1.20"/><circle cx="138.0" cy="660.7" r="1.20"/><circle cx="124.5" cy="639.7" r="1.20"/><circle cx="160.0" cy="623.1" r="1.20"/><circle cx="115.2" cy="618.4" r="1.20"/><circle cx="111.9" cy="606.0" r="1.20"/><circle cx="150.3" cy="593.4" r="1.20"/><circle cx="190.8" cy="616.1" r="1.20"/><circle cx="125.3" cy="627.4" r="1.20"/><circle cx="98.6" cy="611.4" r="1.20"/><circle cx="119.5" cy="625.5" r="1.20"/><circle cx="144.5" cy="624.9" r="1.20"/><circle cx="160.2" cy="619.8" r="1.20"/><circle cx="134.0" cy="636.9" r="1.20"/><circle cx="128.6" cy="633.5" r="1.20"/><circle cx="158.5" cy="616.7" r="1.20"/><circle cx="117.5" cy="656.3" r="1.20"/><circle cx="151.8" cy="640.6" r="1.20"/><circle cx="153.1" cy="615.1" r="1.20"/><circle cx="99.4" cy="633.3" r="1.20"/><circle cx="94.0" cy="640.1" r="1.20"/><circle cx="105.4" cy="604.1" r="1.20"/><circle cx="171.4" cy="651.7" r="1.20"/><circle cx="178.9" cy="620.1" r="1.20"/><circle cx="144.2" cy="620.6" r="1.20"/><circle cx="116.7" cy="616.7" r="1.20"/><circle cx="162.7" cy="641.9" r="1.20"/><circle cx="144.5" cy="620.3" r="1.20"/><circle cx="161.9" cy="632.9" r="1.20"/><circle cx="83.9" cy="624.6" r="1.20"/><circle cx="196.0" cy="601.9" r="1.20"/><circle cx="121.1" cy="653.3" r="1.20"/><circle cx="135.8" cy="624.9" r="1.20"/><circle cx="119.4" cy="617.5" r="1.20"/><circle cx="192.8" cy="639.5" r="1.20"/><circle cx="134.4" cy="613.6" r="1.20"/><circle cx="147.5" cy="622.1" r="1.20"/><circle cx="117.3" cy="604.1" r="1.20"/><circle cx="108.7" cy="628.0" r="1.20"/><circle cx="108.4" cy="649.3" r="1.20"/><circle cx="120.1" cy="627.9" r="1.20"/><circle cx="184.2" cy="605.6" r="1.20"/><circle cx="96.8" cy="629.8" r="1.20"/><circle cx="108.4" cy="608.9" r="1.20"/><circle cx="131.5" cy="604.9" r="1.20"/><circle cx="83.2" cy="612.0" r="1.20"/><circle cx="142.4" cy="616.5" r="1.20"/><circle cx="110.6" cy="616.4" r="1.20"/><circle cx="146.7" cy="623.7" r="1.20"/><circle cx="157.9" cy="594.1" r="1.20"/><circle cx="124.6" cy="588.0" r="1.20"/><circle cx="119.3" cy="607.9" r="1.20"/><circle cx="147.3" cy="637.0" r="1.20"/><circle cx="165.5" cy="625.7" r="1.20"/><circle cx="174.6" cy="615.6" r="1.20"/><circle cx="135.3" cy="596.4" r="1.20"/><circle cx="152.0" cy="601.0" r="1.20"/><circle cx="105.2" cy="619.0" r="1.20"/><circle cx="162.0" cy="613.0" r="1.20"/><circle cx="189.6" cy="604.2" r="1.20"/><circle cx="177.5" cy="617.2" r="1.20"/><circle cx="125.7" cy="619.2" r="1.20"/><circle cx="99.4" cy="597.9" r="1.20"/><circle cx="150.1" cy="631.4" r="1.20"/><circle cx="154.7" cy="633.0" r="1.20"/><circle cx="199.7" cy="616.4" r="1.20"/><circle cx="88.5" cy="630.1" r="1.20"/><circle cx="111.5" cy="631.5" r="1.20"/><circle cx="159.2" cy="611.5" r="1.20"/><circle cx="143.4" cy="605.9" r="1.20"/><circle cx="147.8" cy="622.2" r="1.20"/><circle cx="145.3" cy="619.7" r="1.20"/><circle cx="152.3" cy="617.1" r="1.20"/><circle cx="150.0" cy="623.5" r="1.20"/><circle cx="159.6" cy="590.1" r="1.20"/><circle cx="82.6" cy="635.5" r="1.20"/><circle cx="177.9" cy="652.3" r="1.20"/><circle cx="93.0" cy="628.0" r="1.20"/><circle cx="103.5" cy="618.7" r="1.20"/><circle cx="159.7" cy="610.9" r="1.20"/><circle cx="79.2" cy="595.9" r="1.20"/><circle cx="141.5" cy="614.8" r="1.20"/><circle cx="119.9" cy="627.2" r="1.20"/><circle cx="139.5" cy="621.8" r="1.20"/><circle cx="194.8" cy="621.3" r="1.20"/><circle cx="118.5" cy="588.1" r="1.20"/><circle cx="147.6" cy="620.9" r="1.20"/><circle cx="141.4" cy="620.0" r="1.20"/><circle cx="92.3" cy="602.7" r="1.20"/><circle cx="190.9" cy="620.1" r="1.20"/><circle cx="163.3" cy="630.6" r="1.20"/><circle cx="174.4" cy="618.6" r="1.20"/><circle cx="131.4" cy="645.3" r="1.20"/><circle cx="137.9" cy="628.9" r="1.20"/><circle cx="177.7" cy="587.2" r="1.20"/><circle cx="143.2" cy="664.5" r="1.20"/><circle cx="148.6" cy="617.8" r="1.20"/><circle cx="170.2" cy="629.9" r="1.20"/><circle cx="158.0" cy="632.0" r="1.20"/><circle cx="132.7" cy="622.4" r="1.20"/><circle cx="136.9" cy="643.2" r="1.20"/><circle cx="135.0" cy="614.6" r="1.20"/><circle cx="120.3" cy="617.2" r="1.20"/><circle cx="123.8" cy="610.5" r="1.20"/><circle cx="127.9" cy="618.6" r="1.20"/><circle cx="117.5" cy="660.8" r="1.20"/><circle cx="87.8" cy="609.4" r="1.20"/><circle cx="178.4" cy="658.1" r="1.20"/><circle cx="135.9" cy="624.1" r="1.20"/><circle cx="190.3" cy="630.0" r="1.20"/><circle cx="143.3" cy="647.2" r="1.20"/><circle cx="162.0" cy="635.8" r="1.20"/><circle cx="143.7" cy="617.4" r="1.20"/><circle cx="165.6" cy="646.8" r="1.20"/><circle cx="141.9" cy="613.5" r="1.20"/><circle cx="156.1" cy="635.9" r="1.20"/><circle cx="160.5" cy="593.3" r="1.20"/><circle cx="164.4" cy="622.4" r="1.20"/><circle cx="151.3" cy="583.4" r="1.20"/><circle cx="185.1" cy="632.9" r="1.20"/><circle cx="119.1" cy="655.4" r="1.20"/><circle cx="169.6" cy="628.6" r="1.20"/><circle cx="93.8" cy="628.3" r="1.20"/><circle cx="161.1" cy="625.4" r="1.20"/><circle cx="157.2" cy="627.8" r="1.20"/><circle cx="140.7" cy="617.5" r="1.20"/><circle cx="180.8" cy="616.3" r="1.20"/><circle cx="99.2" cy="603.3" r="1.20"/><circle cx="162.4" cy="651.7" r="1.20"/><circle cx="152.8" cy="602.2" r="1.20"/><circle cx="73.7" cy="611.9" r="1.20"/><circle cx="148.9" cy="625.4" r="1.20"/><circle cx="145.2" cy="619.8" r="1.20"/><circle cx="122.4" cy="638.2" r="1.20"/><circle cx="92.2" cy="617.8" r="1.20"/><circle cx="137.4" cy="601.9" r="1.20"/><circle cx="135.2" cy="627.4" r="1.20"/><circle cx="128.5" cy="591.7" r="1.20"/><circle cx="114.2" cy="602.3" r="1.20"/><circle cx="72.4" cy="611.6" r="1.20"/><circle cx="160.6" cy="613.7" r="1.20"/><circle cx="136.9" cy="627.7" r="1.20"/><circle cx="147.0" cy="638.5" r="1.20"/><circle cx="119.3" cy="634.2" r="1.20"/><circle cx="144.8" cy="590.5" r="1.20"/><circle cx="153.6" cy="619.0" r="1.20"/><circle cx="168.8" cy="631.2" r="1.20"/><circle cx="173.0" cy="635.3" r="1.20"/><circle cx="135.6" cy="624.6" r="1.20"/><circle cx="149.6" cy="659.0" r="1.20"/><circle cx="102.6" cy="627.4" r="1.20"/><circle cx="111.3" cy="605.3" r="1.20"/><circle cx="145.1" cy="619.3" r="1.20"/><circle cx="160.5" cy="625.7" r="1.20"/><circle cx="105.5" cy="624.7" r="1.20"/><circle cx="154.7" cy="646.4" r="1.20"/><circle cx="171.1" cy="629.4" r="1.20"/><circle cx="89.4" cy="616.4" r="1.20"/><circle cx="133.2" cy="638.6" r="1.20"/><circle cx="139.7" cy="643.4" r="1.20"/><circle cx="163.5" cy="622.1" r="1.20"/><circle cx="150.4" cy="619.6" r="1.20"/><circle cx="142.6" cy="628.9" r="1.20"/><circle cx="123.4" cy="618.0" r="1.20"/><circle cx="125.2" cy="587.9" r="1.20"/><circle cx="131.2" cy="595.8" r="1.20"/><circle cx="144.8" cy="620.7" r="1.20"/><circle cx="140.8" cy="608.4" r="1.20"/><circle cx="154.0" cy="624.9" r="1.20"/><circle cx="136.4" cy="611.0" r="1.20"/><circle cx="141.6" cy="615.8" r="1.20"/><circle cx="142.5" cy="622.2" r="1.20"/><circle cx="153.1" cy="610.0" r="1.20"/><circle cx="146.4" cy="645.7" r="1.20"/><circle cx="104.8" cy="616.8" r="1.20"/><circle cx="109.1" cy="609.4" r="1.20"/><circle cx="141.0" cy="606.0" r="1.20"/><circle cx="145.9" cy="619.6" r="1.20"/><circle cx="100.7" cy="591.2" r="1.20"/><circle cx="112.1" cy="611.6" r="1.20"/><circle cx="87.6" cy="591.1" r="1.20"/><circle cx="113.4" cy="660.4" r="1.20"/><circle cx="142.0" cy="626.3" r="1.20"/><circle cx="150.1" cy="617.0" r="1.20"/><circle cx="138.1" cy="626.1" r="1.20"/><circle cx="115.4" cy="650.4" r="1.20"/><circle cx="125.3" cy="624.3" r="1.20"/><circle cx="174.1" cy="604.9" r="1.20"/><circle cx="104.0" cy="630.1" r="1.20"/><circle cx="182.6" cy="645.9" r="1.20"/><circle cx="125.4" cy="637.3" r="1.20"/><circle cx="160.6" cy="620.8" r="1.20"/><circle cx="116.8" cy="609.4" r="1.20"/><circle cx="95.4" cy="636.2" r="1.20"/><circle cx="112.9" cy="609.1" r="1.20"/><circle cx="188.0" cy="588.2" r="1.20"/><circle cx="167.4" cy="607.7" r="1.20"/><circle cx="158.3" cy="613.0" r="1.20"/><circle cx="168.6" cy="614.6" r="1.20"/><circle cx="171.2" cy="635.4" r="1.20"/><circle cx="158.4" cy="631.3" r="1.20"/><circle cx="102.3" cy="630.1" r="1.20"/><circle cx="205.4" cy="634.1" r="1.20"/><circle cx="110.1" cy="597.8" r="1.20"/><circle cx="147.7" cy="615.9" r="1.20"/><circle cx="128.1" cy="605.2" r="1.20"/><circle cx="126.9" cy="584.5" r="1.20"/><circle cx="128.9" cy="615.0" r="1.20"/><circle cx="142.3" cy="606.9" r="1.20"/><circle cx="137.4" cy="637.0" r="1.20"/><circle cx="157.7" cy="636.8" r="1.20"/><circle cx="180.5" cy="635.4" r="1.20"/><circle cx="157.5" cy="620.8" r="1.20"/><circle cx="175.0" cy="653.5" r="1.20"/><circle cx="139.5" cy="630.3" r="1.20"/><circle cx="110.0" cy="617.4" r="1.20"/><circle cx="117.2" cy="615.0" r="1.20"/><circle cx="161.1" cy="632.5" r="1.20"/><circle cx="143.9" cy="631.5" r="1.20"/><circle cx="156.8" cy="636.5" r="1.20"/><circle cx="145.6" cy="625.9" r="1.20"/><circle cx="122.9" cy="619.4" r="1.20"/><circle cx="114.0" cy="645.4" r="1.20"/><circle cx="148.2" cy="614.8" r="1.20"/><circle cx="123.6" cy="624.0" r="1.20"/><circle cx="131.2" cy="598.9" r="1.20"/><circle cx="143.4" cy="655.8" r="1.20"/><circle cx="158.1" cy="613.4" r="1.20"/><circle cx="202.3" cy="608.7" r="1.20"/><circle cx="114.2" cy="658.7" r="1.20"/><circle cx="112.1" cy="606.3" r="1.20"/><circle cx="135.0" cy="604.1" r="1.20"/><circle cx="118.7" cy="634.4" r="1.20"/><circle cx="150.8" cy="621.3" r="1.20"/><circle cx="148.1" cy="623.7" r="1.20"/><circle cx="127.5" cy="621.8" r="1.20"/><circle cx="164.0" cy="586.5" r="1.20"/><circle cx="168.3" cy="644.7" r="1.20"/><circle cx="121.9" cy="619.4" r="1.20"/><circle cx="147.8" cy="628.4" r="1.20"/><circle cx="101.0" cy="607.4" r="1.20"/><circle cx="102.1" cy="615.4" r="1.20"/><circle cx="88.3" cy="615.1" r="1.20"/><circle cx="115.4" cy="622.3" r="1.20"/><circle cx="137.2" cy="613.8" r="1.20"/><circle cx="151.9" cy="628.0" r="1.20"/><circle cx="122.0" cy="630.3" r="1.20"/><circle cx="152.5" cy="616.6" r="1.20"/><circle cx="138.0" cy="652.6" r="1.20"/><circle cx="131.1" cy="630.2" r="1.20"/><circle cx="108.6" cy="619.5" r="1.20"/><circle cx="133.4" cy="648.8" r="1.20"/><circle cx="171.1" cy="635.4" r="1.20"/><circle cx="166.0" cy="638.0" r="1.20"/><circle cx="174.7" cy="598.6" r="1.20"/><circle cx="84.0" cy="608.9" r="1.20"/><circle cx="125.8" cy="609.1" r="1.20"/><circle cx="117.6" cy="618.3" r="1.20"/><circle cx="154.2" cy="602.8" r="1.20"/><circle cx="156.3" cy="609.1" r="1.20"/><circle cx="155.2" cy="632.1" r="1.20"/><circle cx="195.6" cy="615.9" r="1.20"/><circle cx="111.9" cy="614.4" r="1.20"/><circle cx="125.2" cy="609.3" r="1.20"/><circle cx="146.1" cy="628.8" r="1.20"/><circle cx="146.1" cy="612.2" r="1.20"/><circle cx="127.0" cy="627.5" r="1.20"/><circle cx="156.4" cy="604.3" r="1.20"/><circle cx="124.9" cy="638.0" r="1.20"/><circle cx="141.6" cy="611.0" r="1.20"/><circle cx="113.7" cy="600.7" r="1.20"/><circle cx="96.2" cy="632.6" r="1.20"/><circle cx="129.9" cy="637.8" r="1.20"/><circle cx="142.2" cy="623.4" r="1.20"/><circle cx="174.6" cy="647.7" r="1.20"/><circle cx="149.1" cy="632.4" r="1.20"/><circle cx="137.1" cy="598.3" r="1.20"/><circle cx="138.8" cy="623.6" r="1.20"/><circle cx="107.0" cy="624.6" r="1.20"/><circle cx="151.6" cy="622.7" r="1.20"/><circle cx="151.3" cy="620.4" r="1.20"/><circle cx="100.2" cy="620.2" r="1.20"/><circle cx="175.1" cy="617.6" r="1.20"/><circle cx="119.2" cy="621.8" r="1.20"/><circle cx="163.1" cy="617.7" r="1.20"/><circle cx="159.5" cy="630.6" r="1.20"/><circle cx="172.5" cy="639.5" r="1.20"/><circle cx="150.2" cy="639.1" r="1.20"/><circle cx="184.9" cy="612.4" r="1.20"/><circle cx="124.1" cy="609.3" r="1.20"/><circle cx="126.8" cy="609.1" r="1.20"/><circle cx="142.1" cy="618.6" r="1.20"/><circle cx="106.9" cy="618.8" r="1.20"/><circle cx="180.1" cy="648.3" r="1.20"/><circle cx="147.4" cy="621.2" r="1.20"/><circle cx="124.6" cy="608.0" r="1.20"/><circle cx="165.8" cy="605.8" r="1.20"/><circle cx="135.9" cy="660.5" r="1.20"/><circle cx="166.0" cy="618.3" r="1.20"/><circle cx="144.3" cy="612.3" r="1.20"/><circle cx="151.6" cy="609.1" r="1.20"/><circle cx="154.9" cy="629.9" r="1.20"/><circle cx="147.0" cy="613.7" r="1.20"/><circle cx="155.7" cy="605.2" r="1.20"/><circle cx="83.2" cy="634.0" r="1.20"/><circle cx="140.9" cy="598.6" r="1.20"/><circle cx="149.7" cy="628.6" r="1.20"/><circle cx="121.4" cy="641.5" r="1.20"/><circle cx="164.3" cy="606.7" r="1.20"/><circle cx="125.5" cy="620.4" r="1.20"/><circle cx="158.8" cy="618.4" r="1.20"/><circle cx="138.7" cy="628.8" r="1.20"/><circle cx="198.5" cy="616.4" r="1.20"/><circle cx="134.3" cy="631.8" r="1.20"/><circle cx="140.0" cy="617.0" r="1.20"/><circle cx="106.5" cy="644.5" r="1.20"/><circle cx="141.0" cy="655.2" r="1.20"/><circle cx="167.1" cy="642.4" r="1.20"/><circle cx="176.8" cy="636.2" r="1.20"/><circle cx="162.1" cy="631.9" r="1.20"/><circle cx="131.7" cy="613.3" r="1.20"/><circle cx="171.7" cy="625.5" r="1.20"/><circle cx="118.3" cy="603.9" r="1.20"/><circle cx="140.8" cy="614.7" r="1.20"/><circle cx="132.8" cy="647.1" r="1.20"/><circle cx="164.4" cy="658.2" r="1.20"/><circle cx="163.5" cy="645.4" r="1.20"/><circle cx="131.7" cy="625.8" r="1.20"/><circle cx="138.8" cy="586.9" r="1.20"/><circle cx="149.9" cy="613.9" r="1.20"/><circle cx="73.3" cy="620.0" r="1.20"/><circle cx="144.7" cy="617.0" r="1.20"/><circle cx="92.7" cy="646.2" r="1.20"/><circle cx="124.6" cy="632.5" r="1.20"/><circle cx="152.5" cy="621.3" r="1.20"/><circle cx="146.1" cy="620.1" r="1.20"/><circle cx="101.1" cy="600.3" r="1.20"/><circle cx="151.6" cy="627.8" r="1.20"/><circle cx="124.2" cy="590.4" r="1.20"/><circle cx="125.1" cy="622.5" r="1.20"/><circle cx="144.6" cy="635.9" r="1.20"/><circle cx="170.3" cy="582.2" r="1.20"/><circle cx="142.0" cy="640.5" r="1.20"/><circle cx="142.1" cy="622.3" r="1.20"/><circle cx="196.8" cy="603.9" r="1.20"/><circle cx="148.9" cy="580.7" r="1.20"/><circle cx="139.0" cy="619.2" r="1.20"/><circle cx="90.6" cy="638.5" r="1.20"/><circle cx="142.7" cy="617.0" r="1.20"/><circle cx="148.6" cy="590.0" r="1.20"/><circle cx="139.4" cy="615.7" r="1.20"/><circle cx="83.7" cy="644.4" r="1.20"/><circle cx="138.7" cy="612.1" r="1.20"/><circle cx="140.8" cy="618.5" r="1.20"/><circle cx="160.1" cy="625.9" r="1.20"/><circle cx="136.6" cy="601.3" r="1.20"/><circle cx="102.7" cy="641.8" r="1.20"/><circle cx="76.3" cy="602.1" r="1.20"/><circle cx="153.0" cy="616.9" r="1.20"/><circle cx="123.0" cy="618.2" r="1.20"/><circle cx="170.1" cy="600.9" r="1.20"/><circle cx="110.7" cy="607.9" r="1.20"/><circle cx="119.4" cy="590.6" r="1.20"/><circle cx="156.2" cy="617.8" r="1.20"/><circle cx="163.6" cy="627.5" r="1.20"/><circle cx="198.1" cy="609.6" r="1.20"/><circle cx="168.3" cy="632.1" r="1.20"/><circle cx="131.7" cy="630.6" r="1.20"/><circle cx="148.0" cy="614.9" r="1.20"/><circle cx="147.5" cy="637.5" r="1.20"/><circle cx="103.0" cy="618.6" r="1.20"/><circle cx="121.6" cy="621.9" r="1.20"/><circle cx="147.2" cy="616.7" r="1.20"/><circle cx="143.5" cy="621.6" r="1.20"/><circle cx="164.9" cy="642.9" r="1.20"/><circle cx="104.8" cy="629.9" r="1.20"/><circle cx="92.6" cy="618.8" r="1.20"/><circle cx="158.2" cy="633.0" r="1.20"/><circle cx="103.7" cy="614.6" r="1.20"/><circle cx="146.7" cy="610.6" r="1.20"/><circle cx="123.6" cy="606.4" r="1.20"/><circle cx="144.0" cy="617.3" r="1.20"/><circle cx="127.9" cy="625.6" r="1.20"/><circle cx="141.1" cy="613.4" r="1.20"/><circle cx="121.2" cy="662.9" r="1.20"/><circle cx="129.9" cy="619.6" r="1.20"/><circle cx="104.2" cy="628.4" r="1.20"/><circle cx="151.0" cy="637.3" r="1.20"/><circle cx="129.4" cy="632.0" r="1.20"/><circle cx="108.9" cy="635.6" r="1.20"/><circle cx="132.7" cy="597.6" r="1.20"/><circle cx="138.0" cy="588.0" r="1.20"/><circle cx="108.0" cy="607.5" r="1.20"/><circle cx="145.0" cy="620.8" r="1.20"/><circle cx="129.8" cy="614.1" r="1.20"/><circle cx="161.3" cy="607.7" r="1.20"/><circle cx="152.6" cy="625.9" r="1.20"/><circle cx="128.1" cy="606.6" r="1.20"/><circle cx="139.8" cy="610.3" r="1.20"/><circle cx="208.3" cy="630.5" r="1.20"/><circle cx="80.5" cy="614.3" r="1.20"/><circle cx="143.9" cy="642.4" r="1.20"/><circle cx="139.7" cy="626.1" r="1.20"/><circle cx="146.7" cy="618.7" r="1.20"/><circle cx="126.2" cy="612.0" r="1.20"/><circle cx="159.1" cy="621.3" r="1.20"/><circle cx="126.6" cy="631.0" r="1.20"/><circle cx="157.6" cy="621.3" r="1.20"/><circle cx="156.5" cy="640.2" r="1.20"/><circle cx="147.0" cy="600.2" r="1.20"/><circle cx="145.7" cy="629.4" r="1.20"/><circle cx="135.9" cy="626.5" r="1.20"/><circle cx="158.5" cy="624.3" r="1.20"/><circle cx="141.6" cy="618.1" r="1.20"/><circle cx="159.3" cy="611.9" r="1.20"/><circle cx="140.4" cy="625.4" r="1.20"/><circle cx="147.9" cy="618.0" r="1.20"/><circle cx="157.4" cy="632.3" r="1.20"/><circle cx="93.3" cy="613.2" r="1.20"/><circle cx="95.3" cy="610.4" r="1.20"/><circle cx="130.4" cy="613.6" r="1.20"/><circle cx="176.3" cy="660.3" r="1.20"/><circle cx="132.6" cy="623.4" r="1.20"/><circle cx="150.5" cy="608.5" r="1.20"/><circle cx="91.8" cy="637.4" r="1.20"/><circle cx="164.8" cy="614.1" r="1.20"/><circle cx="80.9" cy="625.4" r="1.20"/><circle cx="167.5" cy="617.3" r="1.20"/><circle cx="119.5" cy="624.6" r="1.20"/><circle cx="130.5" cy="625.6" r="1.20"/><circle cx="140.3" cy="619.7" r="1.20"/><circle cx="91.5" cy="618.1" r="1.20"/><circle cx="177.3" cy="589.2" r="1.20"/><circle cx="69.0" cy="619.8" r="1.20"/><circle cx="127.8" cy="627.9" r="1.20"/><circle cx="149.1" cy="617.6" r="1.20"/><circle cx="130.7" cy="623.4" r="1.20"/><circle cx="115.5" cy="593.5" r="1.20"/><circle cx="198.1" cy="630.5" r="1.20"/><circle cx="138.6" cy="635.7" r="1.20"/><circle cx="103.4" cy="631.1" r="1.20"/><circle cx="160.7" cy="641.6" r="1.20"/><circle cx="140.6" cy="629.9" r="1.20"/><circle cx="138.5" cy="636.7" r="1.20"/><circle cx="95.7" cy="621.0" r="1.20"/><circle cx="84.3" cy="589.9" r="1.20"/><circle cx="147.4" cy="622.1" r="1.20"/><circle cx="96.4" cy="592.2" r="1.20"/><circle cx="78.6" cy="603.7" r="1.20"/><circle cx="142.0" cy="615.5" r="1.20"/><circle cx="168.8" cy="600.2" r="1.20"/><circle cx="163.1" cy="609.9" r="1.20"/><circle cx="157.7" cy="615.3" r="1.20"/><circle cx="92.8" cy="606.6" r="1.20"/><circle cx="162.0" cy="626.2" r="1.20"/><circle cx="149.8" cy="616.0" r="1.20"/><circle cx="136.7" cy="587.7" r="1.20"/><circle cx="190.0" cy="639.7" r="1.20"/><circle cx="110.7" cy="624.0" r="1.20"/><circle cx="83.7" cy="619.5" r="1.20"/><circle cx="178.5" cy="620.2" r="1.20"/><circle cx="104.0" cy="648.5" r="1.20"/><circle cx="104.7" cy="617.7" r="1.20"/><circle cx="168.2" cy="610.4" r="1.20"/><circle cx="157.1" cy="628.9" r="1.20"/><circle cx="79.5" cy="604.0" r="1.20"/><circle cx="179.1" cy="602.5" r="1.20"/><circle cx="144.2" cy="633.3" r="1.20"/><circle cx="152.2" cy="631.2" r="1.20"/><circle cx="157.5" cy="598.0" r="1.20"/><circle cx="154.5" cy="618.7" r="1.20"/><circle cx="109.2" cy="621.8" r="1.20"/><circle cx="157.0" cy="620.5" r="1.20"/><circle cx="142.9" cy="618.2" r="1.20"/><circle cx="140.6" cy="638.5" r="1.20"/><circle cx="169.0" cy="612.2" r="1.20"/><circle cx="153.0" cy="657.2" r="1.20"/><circle cx="118.5" cy="622.4" r="1.20"/><circle cx="121.7" cy="618.5" r="1.20"/><circle cx="154.1" cy="599.3" r="1.20"/><circle cx="92.0" cy="625.3" r="1.20"/><circle cx="154.5" cy="625.1" r="1.20"/><circle cx="174.3" cy="589.5" r="1.20"/><circle cx="150.4" cy="605.7" r="1.20"/><circle cx="99.3" cy="613.6" r="1.20"/><circle cx="123.9" cy="662.5" r="1.20"/><circle cx="192.5" cy="616.1" r="1.20"/><circle cx="117.8" cy="623.0" r="1.20"/><circle cx="141.5" cy="615.2" r="1.20"/><circle cx="111.7" cy="633.4" r="1.20"/><circle cx="125.9" cy="610.9" r="1.20"/><circle cx="150.1" cy="614.1" r="1.20"/><circle cx="132.8" cy="665.7" r="1.20"/><circle cx="137.9" cy="596.0" r="1.20"/><circle cx="208.8" cy="625.2" r="1.20"/><circle cx="88.6" cy="614.0" r="1.20"/><circle cx="161.4" cy="648.0" r="1.20"/><circle cx="142.3" cy="574.3" r="1.20"/><circle cx="168.0" cy="604.8" r="1.20"/><circle cx="132.0" cy="633.2" r="1.20"/><circle cx="118.8" cy="598.6" r="1.20"/><circle cx="144.8" cy="622.2" r="1.20"/><circle cx="154.3" cy="629.7" r="1.20"/><circle cx="132.0" cy="625.5" r="1.20"/><circle cx="157.9" cy="632.0" r="1.20"/><circle cx="183.4" cy="611.5" r="1.20"/><circle cx="166.8" cy="614.6" r="1.20"/><circle cx="158.1" cy="597.1" r="1.20"/><circle cx="176.4" cy="628.8" r="1.20"/><circle cx="102.4" cy="579.3" r="1.20"/><circle cx="140.3" cy="622.6" r="1.20"/><circle cx="189.3" cy="608.9" r="1.20"/><circle cx="192.6" cy="651.6" r="1.20"/><circle cx="119.6" cy="607.2" r="1.20"/><circle cx="148.3" cy="650.4" r="1.20"/><circle cx="187.4" cy="588.3" r="1.20"/><circle cx="149.1" cy="604.1" r="1.20"/><circle cx="146.4" cy="598.3" r="1.20"/><circle cx="166.2" cy="600.0" r="1.20"/><circle cx="178.6" cy="620.6" r="1.20"/><circle cx="159.9" cy="609.6" r="1.20"/><circle cx="167.1" cy="660.0" r="1.20"/><circle cx="138.3" cy="616.9" r="1.20"/><circle cx="148.0" cy="618.7" r="1.20"/><circle cx="153.0" cy="657.1" r="1.20"/><circle cx="128.8" cy="629.3" r="1.20"/><circle cx="166.2" cy="585.1" r="1.20"/><circle cx="142.7" cy="617.8" r="1.20"/><circle cx="172.9" cy="643.2" r="1.20"/><circle cx="182.4" cy="612.7" r="1.20"/><circle cx="148.3" cy="648.6" r="1.20"/><circle cx="127.7" cy="621.8" r="1.20"/><circle cx="146.0" cy="636.6" r="1.20"/><circle cx="143.7" cy="610.6" r="1.20"/><circle cx="119.2" cy="609.8" r="1.20"/><circle cx="120.0" cy="634.8" r="1.20"/><circle cx="119.4" cy="602.2" r="1.20"/><circle cx="138.7" cy="652.4" r="1.20"/><circle cx="147.5" cy="627.4" r="1.20"/><circle cx="131.0" cy="649.6" r="1.20"/><circle cx="139.8" cy="614.1" r="1.20"/><circle cx="109.8" cy="618.0" r="1.20"/><circle cx="152.4" cy="608.8" r="1.20"/><circle cx="174.8" cy="613.5" r="1.20"/><circle cx="126.9" cy="613.6" r="1.20"/><circle cx="113.0" cy="639.3" r="1.20"/><circle cx="146.0" cy="643.3" r="1.20"/><circle cx="139.2" cy="609.9" r="1.20"/><circle cx="140.6" cy="616.7" r="1.20"/><circle cx="174.8" cy="612.1" r="1.20"/><circle cx="78.5" cy="627.3" r="1.20"/><circle cx="162.4" cy="616.1" r="1.20"/><circle cx="211.9" cy="626.0" r="1.20"/><circle cx="138.6" cy="630.6" r="1.20"/><circle cx="153.3" cy="632.2" r="1.20"/><circle cx="112.4" cy="592.5" r="1.20"/><circle cx="138.8" cy="609.9" r="1.20"/><circle cx="140.9" cy="615.3" r="1.20"/><circle cx="196.6" cy="622.1" r="1.20"/><circle cx="120.4" cy="598.5" r="1.20"/><circle cx="136.7" cy="604.5" r="1.20"/><circle cx="165.0" cy="658.3" r="1.20"/><circle cx="88.0" cy="613.3" r="1.20"/><circle cx="135.1" cy="653.3" r="1.20"/><circle cx="130.3" cy="644.0" r="1.20"/><circle cx="145.9" cy="610.3" r="1.20"/><circle cx="129.5" cy="605.7" r="1.20"/><circle cx="110.6" cy="647.9" r="1.20"/><circle cx="172.4" cy="647.7" r="1.20"/><circle cx="159.3" cy="582.9" r="1.20"/><circle cx="130.5" cy="630.5" r="1.20"/><circle cx="141.9" cy="607.2" r="1.20"/><circle cx="186.8" cy="600.0" r="1.20"/><circle cx="122.9" cy="612.8" r="1.20"/><circle cx="97.8" cy="631.4" r="1.20"/><circle cx="139.8" cy="590.5" r="1.20"/><circle cx="146.6" cy="637.5" r="1.20"/><circle cx="156.0" cy="651.8" r="1.20"/><circle cx="109.8" cy="629.5" r="1.20"/><circle cx="167.0" cy="578.8" r="1.20"/><circle cx="137.9" cy="624.6" r="1.20"/><circle cx="133.8" cy="595.2" r="1.20"/><circle cx="166.2" cy="639.9" r="1.20"/><circle cx="109.7" cy="635.3" r="1.20"/><circle cx="98.7" cy="621.0" r="1.20"/><circle cx="109.8" cy="618.5" r="1.20"/><circle cx="81.1" cy="623.0" r="1.20"/><circle cx="93.6" cy="626.6" r="1.20"/><circle cx="169.1" cy="644.2" r="1.20"/><circle cx="160.9" cy="580.4" r="1.20"/><circle cx="155.9" cy="624.6" r="1.20"/><circle cx="104.6" cy="617.1" r="1.20"/><circle cx="110.9" cy="604.0" r="1.20"/><circle cx="154.7" cy="607.0" r="1.20"/><circle cx="192.3" cy="615.0" r="1.20"/><circle cx="107.8" cy="624.5" r="1.20"/><circle cx="115.2" cy="610.4" r="1.20"/><circle cx="105.4" cy="589.7" r="1.20"/><circle cx="182.9" cy="612.4" r="1.20"/><circle cx="117.8" cy="615.9" r="1.20"/><circle cx="133.9" cy="625.2" r="1.20"/><circle cx="142.0" cy="625.9" r="1.20"/><circle cx="128.2" cy="601.6" r="1.20"/><circle cx="134.1" cy="616.5" r="1.20"/><circle cx="138.0" cy="634.8" r="1.20"/><circle cx="134.3" cy="626.4" r="1.20"/><circle cx="145.5" cy="609.2" r="1.20"/><circle cx="131.8" cy="640.9" r="1.20"/><circle cx="170.6" cy="609.1" r="1.20"/><circle cx="112.3" cy="628.3" r="1.20"/><circle cx="127.2" cy="627.4" r="1.20"/><circle cx="153.7" cy="625.7" r="1.20"/><circle cx="141.0" cy="616.7" r="1.20"/><circle cx="146.8" cy="626.8" r="1.20"/><circle cx="168.4" cy="644.2" r="1.20"/><circle cx="137.6" cy="644.0" r="1.20"/><circle cx="151.3" cy="624.8" r="1.20"/><circle cx="143.1" cy="621.0" r="1.20"/><circle cx="103.0" cy="591.8" r="1.20"/><circle cx="126.0" cy="610.8" r="1.20"/><circle cx="130.8" cy="618.7" r="1.20"/><circle cx="98.6" cy="581.4" r="1.20"/><circle cx="142.6" cy="628.5" r="1.20"/><circle cx="144.1" cy="619.2" r="1.20"/><circle cx="76.3" cy="626.6" r="1.20"/><circle cx="101.9" cy="589.1" r="1.20"/><circle cx="146.3" cy="622.3" r="1.20"/><circle cx="180.9" cy="632.2" r="1.20"/><circle cx="144.5" cy="622.7" r="1.20"/><circle cx="159.3" cy="625.6" r="1.20"/><circle cx="111.5" cy="627.4" r="1.20"/><circle cx="147.4" cy="611.7" r="1.20"/><circle cx="185.6" cy="643.4" r="1.20"/><circle cx="166.2" cy="613.7" r="1.20"/><circle cx="99.5" cy="636.0" r="1.20"/><circle cx="144.8" cy="621.7" r="1.20"/><circle cx="161.6" cy="619.3" r="1.20"/><circle cx="149.7" cy="638.9" r="1.20"/><circle cx="123.9" cy="634.7" r="1.20"/><circle cx="144.6" cy="631.7" r="1.20"/><circle cx="152.2" cy="633.3" r="1.20"/><circle cx="165.2" cy="636.0" r="1.20"/><circle cx="150.1" cy="615.3" r="1.20"/><circle cx="162.6" cy="627.4" r="1.20"/><circle cx="127.7" cy="596.9" r="1.20"/><circle cx="168.7" cy="627.2" r="1.20"/><circle cx="80.9" cy="634.4" r="1.20"/><circle cx="139.4" cy="600.2" r="1.20"/><circle cx="134.3" cy="621.2" r="1.20"/><circle cx="78.7" cy="614.9" r="1.20"/><circle cx="110.4" cy="633.4" r="1.20"/><circle cx="109.9" cy="622.8" r="1.20"/><circle cx="148.5" cy="574.6" r="1.20"/><circle cx="142.8" cy="603.5" r="1.20"/><circle cx="130.0" cy="625.3" r="1.20"/><circle cx="159.7" cy="642.8" r="1.20"/><circle cx="142.9" cy="626.8" r="1.20"/><circle cx="89.2" cy="618.7" r="1.20"/><circle cx="133.6" cy="615.5" r="1.20"/><circle cx="175.8" cy="615.7" r="1.20"/><circle cx="155.0" cy="617.9" r="1.20"/><circle cx="141.0" cy="648.6" r="1.20"/><circle cx="183.5" cy="631.6" r="1.20"/><circle cx="113.2" cy="627.2" r="1.20"/><circle cx="110.2" cy="592.8" r="1.20"/><circle cx="161.9" cy="607.5" r="1.20"/><circle cx="109.0" cy="580.0" r="1.20"/><circle cx="101.0" cy="626.8" r="1.20"/><circle cx="147.0" cy="605.2" r="1.20"/><circle cx="116.1" cy="643.0" r="1.20"/><circle cx="161.5" cy="631.0" r="1.20"/><circle cx="99.3" cy="635.8" r="1.20"/><circle cx="121.0" cy="608.0" r="1.20"/><circle cx="112.7" cy="663.3" r="1.20"/><circle cx="131.3" cy="647.9" r="1.20"/><circle cx="135.9" cy="589.5" r="1.20"/><circle cx="120.2" cy="656.9" r="1.20"/><circle cx="139.4" cy="593.6" r="1.20"/><circle cx="123.7" cy="617.7" r="1.20"/><circle cx="91.0" cy="639.6" r="1.20"/><circle cx="155.2" cy="606.1" r="1.20"/><circle cx="127.2" cy="592.7" r="1.20"/><circle cx="161.0" cy="608.0" r="1.20"/><circle cx="195.8" cy="610.7" r="1.20"/><circle cx="130.7" cy="620.5" r="1.20"/><circle cx="173.3" cy="639.9" r="1.20"/><circle cx="146.3" cy="631.8" r="1.20"/><circle cx="129.5" cy="639.4" r="1.20"/><circle cx="113.0" cy="614.2" r="1.20"/><circle cx="119.8" cy="613.7" r="1.20"/><circle cx="107.5" cy="611.8" r="1.20"/><circle cx="139.9" cy="634.1" r="1.20"/><circle cx="150.3" cy="613.2" r="1.20"/><circle cx="148.3" cy="625.5" r="1.20"/><circle cx="119.3" cy="598.0" r="1.20"/><circle cx="177.3" cy="590.0" r="1.20"/><circle cx="191.6" cy="612.9" r="1.20"/><circle cx="139.5" cy="625.0" r="1.20"/><circle cx="147.1" cy="618.8" r="1.20"/><circle cx="174.6" cy="608.8" r="1.20"/><circle cx="127.6" cy="629.0" r="1.20"/><circle cx="163.8" cy="609.2" r="1.20"/><circle cx="122.8" cy="612.0" r="1.20"/><circle cx="170.8" cy="606.8" r="1.20"/><circle cx="117.1" cy="646.7" r="1.20"/><circle cx="149.1" cy="623.6" r="1.20"/><circle cx="146.0" cy="616.4" r="1.20"/><circle cx="137.0" cy="651.8" r="1.20"/><circle cx="138.2" cy="605.5" r="1.20"/><circle cx="143.7" cy="602.4" r="1.20"/><circle cx="162.8" cy="628.8" r="1.20"/><circle cx="131.9" cy="618.3" r="1.20"/><circle cx="135.9" cy="626.8" r="1.20"/><circle cx="118.6" cy="607.7" r="1.20"/><circle cx="126.9" cy="618.3" r="1.20"/><circle cx="122.1" cy="618.4" r="1.20"/><circle cx="123.4" cy="591.8" r="1.20"/><circle cx="119.3" cy="627.5" r="1.20"/><circle cx="128.3" cy="627.4" r="1.20"/><circle cx="122.1" cy="599.8" r="1.20"/><circle cx="149.1" cy="647.2" r="1.20"/><circle cx="200.5" cy="618.7" r="1.20"/><circle cx="137.7" cy="629.1" r="1.20"/><circle cx="145.6" cy="617.4" r="1.20"/><circle cx="147.1" cy="617.1" r="1.20"/><circle cx="113.0" cy="607.2" r="1.20"/><circle cx="106.6" cy="592.0" r="1.20"/><circle cx="140.4" cy="611.0" r="1.20"/><circle cx="141.7" cy="621.2" r="1.20"/><circle cx="152.5" cy="606.7" r="1.20"/><circle cx="94.1" cy="635.3" r="1.20"/><circle cx="188.0" cy="622.3" r="1.20"/><circle cx="121.0" cy="667.4" r="1.20"/><circle cx="165.0" cy="605.9" r="1.20"/><circle cx="106.6" cy="628.5" r="1.20"/><circle cx="92.7" cy="618.2" r="1.20"/><circle cx="92.2" cy="645.1" r="1.20"/><circle cx="116.3" cy="625.8" r="1.20"/><circle cx="165.1" cy="629.9" r="1.20"/><circle cx="114.1" cy="610.4" r="1.20"/><circle cx="138.3" cy="640.6" r="1.20"/><circle cx="139.0" cy="649.3" r="1.20"/><circle cx="196.6" cy="609.1" r="1.20"/><circle cx="107.2" cy="649.1" r="1.20"/><circle cx="181.9" cy="620.5" r="1.20"/><circle cx="150.1" cy="646.1" r="1.20"/><circle cx="161.1" cy="604.7" r="1.20"/><circle cx="108.9" cy="606.1" r="1.20"/><circle cx="151.2" cy="592.8" r="1.20"/><circle cx="161.7" cy="638.2" r="1.20"/><circle cx="111.0" cy="610.0" r="1.20"/><circle cx="167.5" cy="635.0" r="1.20"/><circle cx="149.8" cy="635.1" r="1.20"/><circle cx="168.9" cy="590.0" r="1.20"/><circle cx="139.7" cy="641.3" r="1.20"/><circle cx="143.3" cy="633.2" r="1.20"/><circle cx="130.5" cy="621.3" r="1.20"/><circle cx="152.4" cy="632.7" r="1.20"/><circle cx="161.5" cy="642.2" r="1.20"/><circle cx="133.9" cy="603.6" r="1.20"/><circle cx="152.2" cy="590.5" r="1.20"/><circle cx="107.1" cy="617.1" r="1.20"/><circle cx="130.7" cy="616.8" r="1.20"/><circle cx="73.0" cy="630.8" r="1.20"/><circle cx="157.7" cy="652.3" r="1.20"/><circle cx="113.0" cy="624.0" r="1.20"/><circle cx="157.1" cy="612.0" r="1.20"/><circle cx="126.6" cy="628.0" r="1.20"/><circle cx="83.4" cy="617.9" r="1.20"/><circle cx="195.1" cy="615.5" r="1.20"/><circle cx="157.2" cy="621.5" r="1.20"/><circle cx="152.7" cy="662.9" r="1.20"/><circle cx="143.1" cy="617.0" r="1.20"/><circle cx="144.7" cy="607.0" r="1.20"/><circle cx="149.9" cy="627.4" r="1.20"/><circle cx="136.2" cy="614.6" r="1.20"/><circle cx="142.6" cy="636.8" r="1.20"/><circle cx="154.5" cy="641.8" r="1.20"/><circle cx="183.8" cy="639.6" r="1.20"/><circle cx="155.5" cy="607.6" r="1.20"/><circle cx="139.4" cy="627.2" r="1.20"/><circle cx="175.7" cy="625.6" r="1.20"/><circle cx="124.4" cy="610.7" r="1.20"/><circle cx="149.8" cy="627.9" r="1.20"/><circle cx="146.9" cy="613.3" r="1.20"/><circle cx="160.0" cy="628.3" r="1.20"/><circle cx="167.7" cy="624.4" r="1.20"/><circle cx="112.6" cy="650.9" r="1.20"/><circle cx="137.0" cy="575.7" r="1.20"/><circle cx="187.6" cy="621.9" r="1.20"/><circle cx="177.0" cy="626.3" r="1.20"/><circle cx="127.5" cy="639.6" r="1.20"/><circle cx="137.3" cy="621.8" r="1.20"/><circle cx="109.8" cy="571.9" r="1.20"/><circle cx="208.7" cy="588.9" r="1.20"/><circle cx="149.7" cy="569.1" r="1.20"/><circle cx="214.8" cy="630.4" r="1.20"/><circle cx="213.4" cy="634.5" r="1.20"/><circle cx="106.2" cy="667.0" r="1.20"/><circle cx="124.7" cy="671.0" r="1.20"/></g>
<path d="M143.8,619.6 l2,0 l-2,2 l2,0" fill="none" stroke="#f00" stroke-width="0.6"/>
<ellipse cx="145.40" cy="620.00" rx="93.70" ry="96.60" fill="none" stroke="#cdd000" stroke-width="2.00"/>
<ellipse cx="145.50" cy="620.10" rx="64.70" ry="66.80" fill="none" stroke="#00bfbf" stroke-width="2.00"/>
<ellipse cx="145.30" cy="620.20" rx="28.80" ry="29.60" fill="none" stroke="#ff0000" stroke-width="2.10"/>
</g>
<rect x="37.00" y="510.70" width="213.10" height="219.50" fill="none" stroke="#000" stroke-width="1.50"/>
<line x1="78.60" y1="730.20" x2="78.60" y2="732.20" stroke="#000" stroke-width="0.6"/>
<text x="78.60" y="743.10" font-size="12.0" text-anchor="middle" >70.0</text>
<line x1="129.40" y1="730.20" x2="129.40" y2="732.20" stroke="#000" stroke-width="0.6"/>
<text x="129.40" y="743.10" font-size="12.0" text-anchor="middle" >72.5</text>
<line x1="180.20" y1="730.20" x2="180.20" y2="732.20" stroke="#000" stroke-width="0.6"/>
<text x="180.20" y="743.10" font-size="12.0" text-anchor="middle" >75.0</text>
<line x1="231.00" y1="730.20" x2="231.00" y2="732.20" stroke="#000" stroke-width="0.6"/>
<text x="231.00" y="743.10" font-size="12.0" text-anchor="middle" >77.5</text>
<line x1="35.00" y1="522.30" x2="37.00" y2="522.30" stroke="#000" stroke-width="0.6"/>
<text x="33.30" y="526.75" font-size="12.0" text-anchor="end" >6</text>
<line x1="35.00" y1="564.00" x2="37.00" y2="564.00" stroke="#000" stroke-width="0.6"/>
<text x="33.30" y="568.45" font-size="12.0" text-anchor="end" >4</text>
<line x1="35.00" y1="605.70" x2="37.00" y2="605.70" stroke="#000" stroke-width="0.6"/>
<text x="33.30" y="610.15" font-size="12.0" text-anchor="end" >2</text>
<line x1="35.00" y1="647.40" x2="37.00" y2="647.40" stroke="#000" stroke-width="0.6"/>
<text x="33.30" y="651.85" font-size="12.0" text-anchor="end" >0</text>
<line x1="35.00" y1="689.10" x2="37.00" y2="689.10" stroke="#000" stroke-width="0.6"/>
<text x="33.30" y="693.55" font-size="12.0" text-anchor="end" >−2</text>
<text x="143.55" y="757.80" font-size="13.4" text-anchor="middle" >gl (deg)</text>
<text transform="translate(12.50,620.45) rotate(-90)" font-size="13.4" text-anchor="middle">gb (deg)</text>
<g clip-path="url(#c10)">
<path d="M300.05,10.30L300.64,11.99L301.21,13.68L301.77,15.38L302.30,17.08L302.81,18.79L303.30,20.50L303.77,22.25L304.23,24.02L304.66,25.78L305.08,27.55L305.49,29.33L305.90,31.10L306.28,32.81L306.66,34.53L307.03,36.24L307.39,37.96L307.74,39.68L308.10,41.40L308.44,43.05L308.78,44.70L309.12,46.35L309.46,48.00L309.78,49.65L310.10,51.30L310.42,53.01L310.72,54.73L311.02,56.45L311.32,58.16L311.61,59.88L311.90,61.60L312.19,63.30L312.47,65.00L312.76,66.70L313.04,68.40L313.32,70.10L313.60,71.80L313.88,73.52L314.17,75.23L314.45,76.95L314.74,78.67L315.02,80.38L315.30,82.10L315.58,83.87L315.86,85.63L316.14,87.40L316.42,89.17L316.70,90.94L317.00,92.70L317.30,94.44L317.62,96.17L317.94,97.90L318.27,99.63L318.59,101.37L318.90,103.10L319.19,104.75L319.47,106.40L319.74,108.05L320.02,109.70L320.30,111.35L320.60,113.00L320.92,114.69L321.24,116.37L321.57,118.05L321.91,119.74L322.26,121.42L322.60,123.10L322.96,124.82L323.32,126.54L323.68,128.25L324.05,129.97L324.43,131.68L324.80,133.40L325.26,135.50L325.71,137.61L326.17,139.71L326.63,141.81L327.11,143.91L327.60,146.00L328.11,148.04L328.63,150.07L329.18,152.10L329.73,154.13L330.27,156.17L330.80,158.20L331.36,160.47L331.90,162.75L332.44,165.02L332.99,167.30L333.57,169.56L334.20,171.80L334.83,173.82L335.51,175.84L336.23,177.84L336.97,179.83L337.73,181.82L338.50,183.80L339.17,185.53L339.86,187.27L340.55,189.00L341.27,190.71L342.02,192.42L342.80,194.10L343.43,195.42L344.09,196.73L344.76,198.04L345.47,199.33L346.21,200.59L347.00,201.80L347.63,202.71L348.30,203.61L349.00,204.49L349.74,205.35L350.50,206.15L351.30,206.90L351.95,207.46L352.63,208.01L353.34,208.55L354.08,209.03L354.83,209.46L355.60,209.80L356.28,210.05L356.98,210.29L357.70,210.51L358.43,210.69L359.17,210.83L359.90,210.90L360.74,210.94L361.59,210.98L362.44,211.01L363.29,211.03L364.15,211.05L365.00,211.05L370.83,211.05L376.67,211.05L382.50,211.05L388.33,211.05L394.17,211.05L400.00,211.05L417.67,211.05L435.33,211.05L453.00,211.05L470.67,211.05L488.33,211.05L506.00,211.05" fill="none" stroke="#f00" stroke-width="2.45" stroke-linejoin="round"/>
<path d="M300.05,10.30L300.64,11.99L301.21,13.68L301.77,15.38L302.30,17.08L302.81,18.79L303.30,20.50L303.77,22.25L304.23,24.02L304.66,25.78L305.08,27.55L305.49,29.33L305.90,31.10L306.28,32.81L306.66,34.53L307.03,36.24L307.39,37.96L307.74,39.68L308.10,41.40L308.44,43.05L308.78,44.70L309.12,46.35L309.46,48.00L309.78,49.65L310.10,51.30L310.42,53.01L310.72,54.73L311.02,56.45L311.32,58.16L311.61,59.88L311.90,61.60L312.19,63.30L312.47,65.00L312.76,66.70L313.04,68.40L313.32,70.10L313.60,71.80L313.88,73.52L314.17,75.23L314.45,76.95L314.74,78.67L315.02,80.38L315.30,82.10L315.58,83.87L315.86,85.63L316.14,87.40L316.42,89.17L316.70,90.94L317.00,92.70L317.30,94.44L317.62,96.17L317.94,97.90L318.27,99.63L318.59,101.37L318.90,103.10L319.19,104.75L319.47,106.40L319.74,108.05L320.02,109.70L320.30,111.35L320.60,113.00L320.92,114.69L321.24,116.37L321.57,118.05L321.91,119.74L322.26,121.42L322.60,123.10L322.95,124.82L323.31,126.54L323.67,128.26L324.04,129.97L324.42,131.69L324.80,133.40L325.21,135.19L325.62,136.98L326.04,138.77L326.47,140.55L326.92,142.33L327.40,144.10L327.90,145.89L328.43,147.67L328.98,149.45L329.55,151.21L330.16,152.97L330.80,154.70L331.50,156.45L332.27,158.18L333.07,159.90L333.90,161.61L334.75,163.31L335.60,165.00L336.47,166.74L337.34,168.49L338.23,170.23L339.15,171.95L340.10,173.65L341.10,175.30L342.26,177.07L343.49,178.81L344.77,180.52L346.09,182.20L347.44,183.86L348.80,185.50L349.79,186.74L350.77,188.03L351.78,189.31L352.82,190.51L353.92,191.56L355.10,192.40L356.69,193.19L358.43,193.85L360.27,194.42L362.17,194.96L364.06,195.50L365.90,196.10L368.27,196.97L370.63,197.89L372.99,198.81L375.34,199.72L377.71,200.59L380.10,201.40L383.61,202.52L387.13,203.63L390.67,204.68L394.23,205.66L397.81,206.54L401.40,207.30L403.86,207.75L406.34,208.18L408.82,208.57L411.31,208.92L413.81,209.23L416.30,209.50L418.58,209.72L420.86,209.92L423.14,210.11L425.43,210.27L427.71,210.40L430.00,210.50L433.33,210.60L436.66,210.69L440.00,210.76L443.33,210.82L446.67,210.87L450.00,210.90L455.00,210.94L460.00,210.98L465.00,211.01L470.00,211.03L475.00,211.04L480.00,211.05L484.33,211.05L488.67,211.05L493.00,211.05L497.33,211.05L501.67,211.05L506.00,211.05" fill="none" stroke="#00f" stroke-width="2.7" stroke-linejoin="round"/>
<path d="M301.8,20.5H304.8M301.8,18.8V22.2M304.8,18.8V22.2M304.4,31.1H307.4M304.4,29.4V32.9M307.4,29.4V32.9M306.6,41.4H309.6M306.6,39.6V43.1M309.6,39.6V43.1M308.6,51.3H311.6M308.6,49.5V53.0M311.6,49.5V53.0M310.4,61.6H313.4M310.4,59.9V63.4M313.4,59.9V63.4M312.1,71.8H315.1M312.1,70.0V73.5M315.1,70.0V73.5M313.8,82.1H316.8M313.8,80.3V83.8M316.8,80.3V83.8M315.5,92.7H318.5M315.5,91.0V94.5M318.5,91.0V94.5M317.4,103.1H320.4M317.4,101.3V104.8M320.4,101.3V104.8M319.1,113.0H322.1M319.1,111.2V114.8M322.1,111.2V114.8M321.1,123.1H324.1M321.1,121.3V124.8M324.1,121.3V124.8M323.3,133.4H326.3M323.3,131.7V135.2M326.3,131.7V135.2M325.2,144.1H329.6M325.2,142.3V145.8M329.6,142.3V145.8M328.0,154.7H333.6M328.0,152.9V156.4M333.6,152.9V156.4M331.8,165.0H339.4M331.8,163.2V166.8M339.4,163.2V166.8M336.3,175.3H345.9M336.3,173.6V177.1M345.9,173.6V177.1M342.0,185.5H355.6M342.0,183.8V187.2M355.6,183.8V187.2M347.8,192.4H362.4M347.8,190.7V194.2M362.4,190.7V194.2M354.6,196.1H377.2M354.6,194.3V197.8M377.2,194.3V197.8M362.0,201.4H398.2M362.0,199.7V203.2M398.2,199.7V203.2M376.8,207.3H426.0M376.8,205.6V209.1M426.0,205.6V209.1" fill="none" stroke="#f00" stroke-width="1.05"/>
<g fill="#f00"><circle cx="303.3" cy="20.5" r="1.8"/><circle cx="305.9" cy="31.1" r="1.8"/><circle cx="308.1" cy="41.4" r="1.8"/><circle cx="310.1" cy="51.3" r="1.8"/><circle cx="311.9" cy="61.6" r="1.8"/><circle cx="313.6" cy="71.8" r="1.8"/><circle cx="315.3" cy="82.1" r="1.8"/><circle cx="317.0" cy="92.7" r="1.8"/><circle cx="318.9" cy="103.1" r="1.8"/><circle cx="320.6" cy="113.0" r="1.8"/><circle cx="322.6" cy="123.1" r="1.8"/><circle cx="324.8" cy="133.4" r="1.8"/><circle cx="327.4" cy="144.1" r="1.8"/><circle cx="330.8" cy="154.7" r="1.8"/><circle cx="335.6" cy="165.0" r="1.8"/><circle cx="341.1" cy="175.3" r="1.8"/><circle cx="348.8" cy="185.5" r="1.8"/><circle cx="355.1" cy="192.4" r="1.8"/><circle cx="365.9" cy="196.1" r="1.8"/><circle cx="380.1" cy="201.4" r="1.8"/><circle cx="401.4" cy="207.3" r="1.8"/></g>
</g>
<path d="M322.45,19.20 L326.95,19.20 L326.95,26.00 L328.60,26.00 L324.70,31.60 L320.80,26.00 L322.45,26.00Z" fill="#ff0000"/>
<text x="319.10" y="13.80" font-size="12" text-anchor="start">r<tspan font-size="8.6" dy="2.0">h</tspan></text>
<path d="M359.15,19.20 L363.65,19.20 L363.65,26.00 L365.30,26.00 L361.40,31.60 L357.50,26.00 L359.15,26.00Z" fill="#00bfbf"/>
<text x="356.90" y="13.80" font-size="12" text-anchor="start">r<tspan font-size="8.6" dy="2.0">t</tspan></text>
<path d="M447.85,19.20 L452.35,19.20 L452.35,26.00 L454.00,26.00 L450.10,31.60 L446.20,26.00 L447.85,26.00Z" fill="#0000ff"/>
<text x="444.60" y="13.80" font-size="12" text-anchor="start">r<tspan font-size="8.6" dy="2.0">e</tspan></text>
<rect x="291.80" y="0.70" width="213.10" height="219.90" fill="none" stroke="#000" stroke-width="1.50"/>
<line x1="295.80" y1="220.60" x2="295.80" y2="222.60" stroke="#000" stroke-width="0.6"/>
<text x="295.80" y="233.50" font-size="12.0" text-anchor="middle" >0.0</text>
<line x1="374.20" y1="220.60" x2="374.20" y2="222.60" stroke="#000" stroke-width="0.6"/>
<text x="374.20" y="233.50" font-size="12.0" text-anchor="middle" >0.2</text>
<line x1="452.60" y1="220.60" x2="452.60" y2="222.60" stroke="#000" stroke-width="0.6"/>
<text x="452.60" y="233.50" font-size="12.0" text-anchor="middle" >0.4</text>
<line x1="289.80" y1="211.05" x2="291.80" y2="211.05" stroke="#000" stroke-width="0.6"/>
<text x="288.10" y="215.50" font-size="12.0" text-anchor="end" >0.0</text>
<line x1="289.80" y1="170.00" x2="291.80" y2="170.00" stroke="#000" stroke-width="0.6"/>
<text x="288.10" y="174.45" font-size="12.0" text-anchor="end" >0.2</text>
<line x1="289.80" y1="128.95" x2="291.80" y2="128.95" stroke="#000" stroke-width="0.6"/>
<text x="288.10" y="133.40" font-size="12.0" text-anchor="end" >0.4</text>
<line x1="289.80" y1="87.90" x2="291.80" y2="87.90" stroke="#000" stroke-width="0.6"/>
<text x="288.10" y="92.35" font-size="12.0" text-anchor="end" >0.6</text>
<line x1="289.80" y1="46.85" x2="291.80" y2="46.85" stroke="#000" stroke-width="0.6"/>
<text x="288.10" y="51.30" font-size="12.0" text-anchor="end" >0.8</text>
<line x1="289.80" y1="5.80" x2="291.80" y2="5.80" stroke="#000" stroke-width="0.6"/>
<text x="288.10" y="10.25" font-size="12.0" text-anchor="end" >1.0</text>
<text x="398.35" y="248.20" font-size="13.4" text-anchor="middle" >r (deg)</text>
<text transform="translate(265.80,110.65) rotate(-90)" font-size="13.4" text-anchor="middle">F</text>
<g clip-path="url(#c20)">
<path d="M556.25,20.20L560.91,20.32L565.56,20.53L570.20,20.81L574.84,21.14L579.47,21.51L584.10,21.90L586.66,22.14L589.22,22.42L591.78,22.74L594.33,23.09L596.87,23.48L599.40,23.90L600.99,24.21L602.58,24.57L604.16,24.97L605.74,25.38L607.32,25.80L608.90,26.20L610.26,26.52L611.62,26.82L612.99,27.12L614.34,27.45L615.68,27.80L617.00,28.20L617.95,28.55L618.89,28.96L619.82,29.41L620.75,29.88L621.67,30.35L622.60,30.80L623.52,31.23L624.44,31.65L625.36,32.07L626.28,32.50L627.20,32.94L628.10,33.40L628.96,33.86L629.82,34.32L630.67,34.81L631.52,35.30L632.36,35.79L633.20,36.30L633.98,36.78L634.76,37.26L635.53,37.75L636.30,38.26L637.06,38.77L637.80,39.30L638.54,39.85L639.26,40.42L639.98,41.01L640.69,41.61L641.39,42.20L642.10,42.80L642.83,43.40L643.56,44.01L644.29,44.61L645.01,45.23L645.71,45.85L646.40,46.50L647.08,47.18L647.74,47.89L648.39,48.61L649.03,49.34L649.67,50.07L650.30,50.80L651.23,51.86L652.18,52.92L653.11,53.98L654.02,55.06L654.89,56.17L655.70,57.30L656.64,58.79L657.53,60.33L658.37,61.91L659.18,63.51L659.99,65.11L660.80,66.70L661.68,68.40L662.55,70.11L663.41,71.82L664.25,73.54L665.08,75.27L665.90,77.00L666.81,78.96L667.71,80.93L668.60,82.91L669.46,84.90L670.30,86.89L671.10,88.90L671.86,90.88L672.59,92.87L673.30,94.86L673.99,96.87L674.66,98.88L675.30,100.90L675.91,102.89L676.49,104.88L677.05,106.88L677.60,108.89L678.15,110.90L678.70,112.90L679.14,114.50L679.59,116.09L680.03,117.69L680.47,119.29L680.89,120.89L681.30,122.50L681.92,125.04L682.53,127.58L683.12,130.13L683.68,132.68L684.21,135.24L684.70,137.80L685.19,140.64L685.65,143.48L686.09,146.33L686.50,149.19L686.90,152.04L687.30,154.90L687.69,157.75L688.08,160.59L688.46,163.44L688.82,166.29L689.17,169.15L689.50,172.00L689.81,174.85L690.12,177.69L690.41,180.54L690.69,183.39L690.96,186.25L691.20,189.10L691.42,191.95L691.63,194.80L691.83,197.65L692.02,200.50L692.21,203.35L692.40,206.20L692.55,208.48L692.70,210.77L692.85,213.05L693.00,215.33L693.15,217.62L693.30,219.90L693.33,220.42L693.37,220.93L693.40,221.45L693.43,221.97L693.47,222.48L693.50,223.00" fill="none" stroke="#f00" stroke-width="2.45" stroke-linejoin="round"/>
<path d="M642.50,223.00L642.53,222.33L642.56,221.66L642.61,220.99L642.67,220.32L642.73,219.66L642.80,219.00L643.15,216.84L643.68,214.70L644.33,212.58L645.03,210.46L645.71,208.34L646.30,206.20L646.90,203.64L647.46,201.07L648.00,198.50L648.54,195.93L649.10,193.36L649.70,190.80L650.35,188.22L651.03,185.65L651.74,183.09L652.46,180.52L653.19,177.96L653.90,175.40L654.61,172.83L655.33,170.27L656.05,167.70L656.77,165.13L657.48,162.57L658.20,160.00L659.06,156.86L659.90,153.72L660.75,150.58L661.60,147.45L662.48,144.32L663.40,141.20L664.18,138.61L664.96,136.00L665.76,133.41L666.61,130.83L667.51,128.29L668.50,125.80L669.33,123.88L670.23,121.95L671.20,120.05L672.23,118.19L673.33,116.40L674.50,114.70L675.46,113.41L676.50,112.11L677.61,110.85L678.78,109.68L680.01,108.64L681.30,107.80L682.20,107.30L683.17,106.80L684.18,106.34L685.22,105.96L686.27,105.70L687.30,105.60L688.15,105.64L689.03,105.75L689.92,105.92L690.79,106.12L691.62,106.36L692.40,106.60L693.96,107.25L695.46,108.16L696.89,109.31L698.23,110.68L699.47,112.25L700.60,114.00" fill="none" stroke="#00bfbf" stroke-width="1.0" stroke-dasharray="5.2,1.7,1,1.7"/>
<g fill="#00bfbf"><circle cx="650.2" cy="207.0" r="2.0"/><circle cx="654.5" cy="177.6" r="2.0"/><circle cx="659.1" cy="157.9" r="2.0"/><circle cx="664.7" cy="135.5" r="2.0"/><circle cx="671.1" cy="118.6" r="2.0"/><circle cx="677.0" cy="111.3" r="2.0"/><circle cx="685.9" cy="107.3" r="2.0"/><circle cx="692.4" cy="109.5" r="2.0"/></g>
<path d="M556.25,20.20L560.91,20.32L565.56,20.53L570.20,20.81L574.84,21.14L579.47,21.51L584.10,21.90L586.66,22.14L589.22,22.42L591.78,22.74L594.33,23.09L596.87,23.48L599.40,23.90L600.99,24.21L602.58,24.57L604.16,24.97L605.74,25.38L607.32,25.80L608.90,26.20L610.26,26.52L611.62,26.82L612.99,27.12L614.34,27.45L615.68,27.80L617.00,28.20L617.95,28.55L618.89,28.96L619.82,29.41L620.75,29.88L621.67,30.35L622.60,30.80L623.52,31.23L624.44,31.65L625.36,32.07L626.28,32.50L627.20,32.94L628.10,33.40L628.96,33.86L629.82,34.32L630.67,34.81L631.52,35.30L632.36,35.79L633.20,36.30L633.98,36.78L634.76,37.26L635.53,37.75L636.30,38.26L637.06,38.77L637.80,39.30L638.54,39.85L639.26,40.42L639.98,41.01L640.69,41.61L641.39,42.20L642.10,42.80L642.83,43.40L643.56,44.01L644.29,44.61L645.01,45.23L645.71,45.85L646.40,46.50L647.08,47.18L647.74,47.89L648.38,48.61L649.02,49.34L649.66,50.08L650.30,50.80L651.02,51.60L651.73,52.40L652.44,53.20L653.16,54.01L653.88,54.81L654.60,55.60L655.39,56.46L656.19,57.31L657.00,58.15L657.80,59.00L658.60,59.85L659.40,60.70L660.32,61.69L661.25,62.69L662.17,63.68L663.09,64.68L664.00,65.69L664.90,66.70L665.96,67.91L667.01,69.13L668.05,70.36L669.09,71.59L670.10,72.84L671.10,74.10L672.28,75.63L673.45,77.17L674.60,78.73L675.73,80.31L676.83,81.89L677.90,83.50L679.25,85.63L680.55,87.80L681.82,90.00L683.08,92.20L684.33,94.41L685.60,96.60L686.62,98.41L687.62,100.25L688.62,102.09L689.64,103.90L690.73,105.65L691.90,107.30L693.21,108.80L694.68,110.20L696.23,111.55L697.78,112.91L699.27,114.31L700.60,115.80L701.46,116.96L702.27,118.16L703.04,119.41L703.80,120.67L704.54,121.94L705.30,123.20L706.18,124.62L707.08,126.03L707.96,127.45L708.82,128.88L709.64,130.33L710.40,131.80L711.35,133.87L712.22,135.99L713.04,138.14L713.85,140.30L714.66,142.46L715.50,144.60L716.22,146.32L716.97,148.02L717.73,149.73L718.47,151.44L719.16,153.16L719.80,154.90L720.44,156.85L721.04,158.83L721.60,160.81L722.14,162.81L722.67,164.80L723.20,166.80L723.80,169.07L724.38,171.35L724.95,173.64L725.51,175.92L726.06,178.21L726.60,180.50L727.13,182.78L727.65,185.06L728.15,187.34L728.65,189.62L729.13,191.91L729.60,194.20L729.99,196.19L730.38,198.19L730.75,200.19L731.12,202.19L731.47,204.19L731.80,206.20L732.16,208.48L732.51,210.76L732.85,213.04L733.17,215.33L733.49,217.61L733.80,219.90L733.87,220.42L733.94,220.93L734.00,221.45L734.07,221.97L734.13,222.48L734.20,223.00" fill="none" stroke="#00f" stroke-width="2.7" stroke-linejoin="round"/>
<path d="M582.1,21.9H586.1M582.1,20.1V23.6M586.1,20.1V23.6M597.4,23.9H601.4M597.4,22.1V25.6M601.4,22.1V25.6M606.9,26.2H610.9M606.9,24.4V27.9M610.9,24.4V27.9M615.0,28.2H619.0M615.0,26.4V29.9M619.0,26.4V29.9M620.6,30.8H624.6M620.6,29.1V32.5M624.6,29.1V32.5M626.1,33.4H630.1M626.1,31.6V35.1M630.1,31.6V35.1M631.2,36.3H635.2M631.2,34.5V38.0M635.2,34.5V38.0M635.8,39.3H639.8M635.8,37.5V41.0M639.8,37.5V41.0M640.1,42.8H644.1M640.1,41.0V44.5M644.1,41.0V44.5M644.4,46.5H648.4M644.4,44.8V48.2M648.4,44.8V48.2M648.3,50.8H652.3M648.3,49.0V52.5M652.3,49.0V52.5M652.6,55.6H656.6M652.6,53.9V57.4M656.6,53.9V57.4M657.4,60.7H661.4M657.4,59.0V62.5M661.4,59.0V62.5M662.9,66.7H666.9M662.9,65.0V68.5M666.9,65.0V68.5M669.1,74.1H673.1M669.1,72.3V75.8M673.1,72.3V75.8M675.9,83.5H679.9M675.9,81.8V85.2M679.9,81.8V85.2M683.6,96.6H687.6M683.6,94.8V98.3M687.6,94.8V98.3M689.9,107.3H693.9M689.9,105.5V109.0M693.9,105.5V109.0M696.8,115.8H704.4M696.8,114.0V117.5M704.4,114.0V117.5M705.6,131.8H715.2M705.6,130.1V133.6M715.2,130.1V133.6M710.4,130.3V133.3M708.6,130.3H712.1M708.6,133.3H712.1M717.7,163.8H727.7M717.7,162.1V165.6M727.7,162.1V165.6M722.7,158.2V169.4M721.0,158.2H724.5M721.0,169.4H724.5" fill="none" stroke="#f00" stroke-width="1.05"/>
<g fill="#f00"><circle cx="584.1" cy="21.9" r="1.8"/><circle cx="599.4" cy="23.9" r="1.8"/><circle cx="608.9" cy="26.2" r="1.8"/><circle cx="617.0" cy="28.2" r="1.8"/><circle cx="622.6" cy="30.8" r="1.8"/><circle cx="628.1" cy="33.4" r="1.8"/><circle cx="633.2" cy="36.3" r="1.8"/><circle cx="637.8" cy="39.3" r="1.8"/><circle cx="642.1" cy="42.8" r="1.8"/><circle cx="646.4" cy="46.5" r="1.8"/><circle cx="650.3" cy="50.8" r="1.8"/><circle cx="654.6" cy="55.6" r="1.8"/><circle cx="659.4" cy="60.7" r="1.8"/><circle cx="664.9" cy="66.7" r="1.8"/><circle cx="671.1" cy="74.1" r="1.8"/><circle cx="677.9" cy="83.5" r="1.8"/><circle cx="685.6" cy="96.6" r="1.8"/><circle cx="691.9" cy="107.3" r="1.8"/><circle cx="700.6" cy="115.8" r="1.8"/><circle cx="710.4" cy="131.8" r="1.8"/><circle cx="722.7" cy="163.8" r="1.8"/></g>
</g>
<path d="M651.45,17.60 L655.95,17.60 L655.95,22.50 L657.60,22.50 L653.70,28.10 L649.80,22.50 L651.45,22.50Z" fill="#ff0000"/>
<text x="648.10" y="13.80" font-size="12" text-anchor="start">r<tspan font-size="8.6" dy="2.0">h</tspan></text>
<path d="M694.95,17.60 L699.45,17.60 L699.45,22.50 L701.10,22.50 L697.20,28.10 L693.30,22.50 L694.95,22.50Z" fill="#00bfbf"/>
<text x="692.70" y="13.80" font-size="12" text-anchor="start">r<tspan font-size="8.6" dy="2.0">t</tspan></text>
<path d="M740.65,17.60 L745.15,17.60 L745.15,22.50 L746.80,22.50 L742.90,28.10 L739.00,22.50 L740.65,22.50Z" fill="#0000ff"/>
<text x="737.40" y="13.80" font-size="12" text-anchor="start">r<tspan font-size="8.6" dy="2.0">e</tspan></text>
<rect x="546.80" y="0.70" width="212.40" height="219.90" fill="none" stroke="#000" stroke-width="1.50"/>
<line x1="580.00" y1="220.60" x2="580.00" y2="222.60" stroke="#000" stroke-width="0.6"/>
<text x="580.00" y="233.50" font-size="12.0" text-anchor="middle" >−4</text>
<line x1="633.20" y1="220.60" x2="633.20" y2="222.60" stroke="#000" stroke-width="0.6"/>
<text x="633.20" y="233.50" font-size="12.0" text-anchor="middle" >−3</text>
<line x1="686.40" y1="220.60" x2="686.40" y2="222.60" stroke="#000" stroke-width="0.6"/>
<text x="686.40" y="233.50" font-size="12.0" text-anchor="middle" >−2</text>
<line x1="739.60" y1="220.60" x2="739.60" y2="222.60" stroke="#000" stroke-width="0.6"/>
<text x="739.60" y="233.50" font-size="12.0" text-anchor="middle" >−1</text>
<line x1="544.80" y1="19.40" x2="546.80" y2="19.40" stroke="#000" stroke-width="0.6"/>
<text x="543.10" y="23.85" font-size="12.0" text-anchor="end" >0</text>
<line x1="544.80" y1="56.10" x2="546.80" y2="56.10" stroke="#000" stroke-width="0.6"/>
<text x="543.10" y="60.55" font-size="12.0" text-anchor="end" >−1</text>
<line x1="544.80" y1="92.80" x2="546.80" y2="92.80" stroke="#000" stroke-width="0.6"/>
<text x="543.10" y="97.25" font-size="12.0" text-anchor="end" >−2</text>
<line x1="544.80" y1="129.50" x2="546.80" y2="129.50" stroke="#000" stroke-width="0.6"/>
<text x="543.10" y="133.95" font-size="12.0" text-anchor="end" >−3</text>
<line x1="544.80" y1="166.20" x2="546.80" y2="166.20" stroke="#000" stroke-width="0.6"/>
<text x="543.10" y="170.65" font-size="12.0" text-anchor="end" >−4</text>
<line x1="544.80" y1="202.90" x2="546.80" y2="202.90" stroke="#000" stroke-width="0.6"/>
<text x="543.10" y="207.35" font-size="12.0" text-anchor="end" >−5</text>
<text x="653.00" y="248.20" font-size="13.4" text-anchor="middle" >ln(r)</text>
<text transform="translate(521.80,110.65) rotate(-90)" font-size="13.4" text-anchor="middle">ln(F)</text>
<g clip-path="url(#c11)">
<path d="M298.30,265.30L298.91,266.93L299.49,268.57L300.06,270.22L300.60,271.87L301.11,273.53L301.60,275.20L302.08,276.95L302.53,278.71L302.97,280.48L303.39,282.25L303.80,284.03L304.20,285.80L304.58,287.51L304.95,289.23L305.32,290.95L305.68,292.66L306.04,294.38L306.40,296.10L306.77,297.80L307.14,299.50L307.51,301.20L307.87,302.90L308.24,304.60L308.60,306.30L308.96,308.02L309.31,309.73L309.66,311.45L310.01,313.16L310.36,314.88L310.70,316.60L311.04,318.30L311.38,320.00L311.71,321.70L312.04,323.40L312.37,325.10L312.70,326.80L313.02,328.52L313.34,330.23L313.65,331.95L313.96,333.67L314.28,335.38L314.60,337.10L314.93,338.82L315.26,340.53L315.59,342.25L315.93,343.97L316.26,345.68L316.60,347.40L316.93,349.10L317.26,350.80L317.59,352.50L317.93,354.20L318.26,355.90L318.60,357.60L318.94,359.30L319.28,361.00L319.62,362.71L319.97,364.41L320.33,366.10L320.70,367.80L321.09,369.52L321.50,371.24L321.93,372.96L322.35,374.67L322.78,376.38L323.20,378.10L323.62,379.82L324.04,381.53L324.46,383.25L324.87,384.97L325.29,386.68L325.70,388.40L326.12,390.18L326.53,391.97L326.93,393.75L327.34,395.54L327.76,397.32L328.20,399.10L328.71,401.06L329.23,403.01L329.77,404.96L330.31,406.90L330.86,408.85L331.40,410.80L331.86,412.50L332.31,414.21L332.76,415.91L333.22,417.62L333.70,419.31L334.20,421.00L334.60,422.28L335.02,423.55L335.45,424.82L335.89,426.08L336.34,427.34L336.80,428.60L337.33,430.03L337.87,431.46L338.43,432.88L339.00,434.30L339.59,435.70L340.20,437.10L340.86,438.56L341.54,440.01L342.24,441.46L342.97,442.89L343.72,444.31L344.50,445.70L345.27,447.03L346.07,448.36L346.90,449.67L347.76,450.95L348.66,452.20L349.60,453.40L350.37,454.31L351.18,455.21L352.02,456.09L352.89,456.94L353.78,457.74L354.70,458.50L355.77,459.32L356.88,460.11L358.02,460.87L359.19,461.58L360.39,462.23L361.60,462.80L362.69,463.25L363.80,463.69L364.93,464.09L366.08,464.45L367.24,464.76L368.40,465.00L369.81,465.24L371.24,465.47L372.67,465.67L374.12,465.83L375.56,465.94L377.00,466.00L379.16,466.03L381.33,466.06L383.49,466.07L385.66,466.09L387.83,466.10L390.00,466.10L396.67,466.10L403.33,466.10L410.00,466.10L416.67,466.10L423.33,466.10L430.00,466.10L442.67,466.10L455.33,466.10L468.00,466.10L480.67,466.10L493.33,466.10L506.00,466.10" fill="none" stroke="#f00" stroke-width="2.45" stroke-linejoin="round"/>
<path d="M298.30,265.30L298.91,266.93L299.49,268.57L300.06,270.22L300.60,271.87L301.11,273.53L301.60,275.20L302.08,276.95L302.53,278.71L302.97,280.48L303.39,282.25L303.80,284.03L304.20,285.80L304.58,287.51L304.95,289.23L305.32,290.95L305.68,292.66L306.04,294.38L306.40,296.10L306.77,297.80L307.14,299.50L307.51,301.20L307.87,302.90L308.24,304.60L308.60,306.30L308.96,308.02L309.31,309.73L309.66,311.45L310.01,313.16L310.36,314.88L310.70,316.60L311.04,318.30L311.38,320.00L311.71,321.70L312.04,323.40L312.37,325.10L312.70,326.80L313.02,328.52L313.34,330.23L313.65,331.95L313.96,333.67L314.28,335.38L314.60,337.10L314.93,338.82L315.26,340.53L315.59,342.25L315.93,343.97L316.26,345.68L316.60,347.40L316.93,349.10L317.26,350.80L317.59,352.50L317.93,354.20L318.26,355.90L318.60,357.60L318.94,359.30L319.28,361.00L319.62,362.71L319.97,364.41L320.33,366.10L320.70,367.80L321.09,369.52L321.50,371.24L321.93,372.96L322.35,374.67L322.78,376.38L323.20,378.10L323.62,379.82L324.04,381.53L324.46,383.25L324.87,384.97L325.29,386.68L325.70,388.40L326.11,390.18L326.51,391.97L326.91,393.76L327.32,395.55L327.74,397.33L328.20,399.10L328.70,400.88L329.24,402.66L329.81,404.42L330.40,406.19L331.00,407.95L331.60,409.70L332.20,411.43L332.80,413.16L333.42,414.88L334.06,416.60L334.72,418.31L335.40,420.00L336.12,421.76L336.85,423.53L337.61,425.29L338.41,427.02L339.27,428.70L340.20,430.30L341.45,432.15L342.85,433.97L344.36,435.72L345.96,437.41L347.61,439.01L349.30,440.50L350.78,441.70L352.34,442.84L353.96,443.94L355.62,444.98L357.31,445.97L359.00,446.90L360.52,447.67L362.07,448.39L363.65,449.07L365.24,449.74L366.83,450.41L368.40,451.10L370.31,452.01L372.21,452.95L374.11,453.90L376.02,454.82L377.94,455.67L379.90,456.40L383.26,457.47L386.68,458.45L390.13,459.35L393.61,460.17L397.11,460.91L400.60,461.60L403.20,462.08L405.81,462.54L408.42,462.97L411.05,463.37L413.67,463.71L416.30,464.00L418.58,464.21L420.86,464.41L423.14,464.58L425.43,464.74L427.71,464.88L430.00,465.00L433.33,465.16L436.66,465.30L440.00,465.43L443.33,465.54L446.67,465.63L450.00,465.70L455.00,465.77L460.00,465.84L465.00,465.89L470.00,465.93L475.00,465.97L480.00,466.00L484.33,466.02L488.67,466.05L493.00,466.06L497.33,466.08L501.67,466.09L506.00,466.10" fill="none" stroke="#00f" stroke-width="2.7" stroke-linejoin="round"/>
<path d="M300.0,275.2H303.2M300.0,273.4V276.9M303.2,273.4V276.9M302.6,285.8H305.8M302.6,284.1V287.6M305.8,284.1V287.6M304.8,296.1H308.0M304.8,294.4V297.9M308.0,294.4V297.9M307.0,306.3H310.2M307.0,304.6V308.1M310.2,304.6V308.1M309.1,316.6H312.3M309.1,314.9V318.4M312.3,314.9V318.4M311.1,326.8H314.3M311.1,325.1V328.6M314.3,325.1V328.6M313.0,337.1H316.2M313.0,335.4V338.9M316.2,335.4V338.9M315.0,347.4H318.2M315.0,345.6V349.1M318.2,345.6V349.1M317.0,357.6H320.2M317.0,355.9V359.4M320.2,355.9V359.4M319.1,367.8H322.3M319.1,366.1V369.6M322.3,366.1V369.6M321.6,378.1H324.8M321.6,376.4V379.9M324.8,376.4V379.9M324.1,388.4H327.3M324.1,386.6V390.1M327.3,386.6V390.1M325.5,399.1H330.9M325.5,397.4V400.9M330.9,397.4V400.9M328.5,409.7H334.7M328.5,407.9V411.4M334.7,407.9V411.4M331.6,420.0H339.2M331.6,418.2V421.8M339.2,418.2V421.8M335.2,430.3H345.2M335.2,428.6V432.1M345.2,428.6V432.1M343.0,440.5H355.6M343.0,438.8V442.2M355.6,438.8V442.2M350.6,446.9H367.4M350.6,445.1V448.6M367.4,445.1V448.6M357.8,451.1H379.0M357.8,449.4V452.9M379.0,449.4V452.9M367.6,456.4H392.2M367.6,454.6V458.1M392.2,454.6V458.1M384.0,461.6H417.2M384.0,459.9V463.4M417.2,459.9V463.4" fill="none" stroke="#f00" stroke-width="1.05"/>
<g fill="#f00"><circle cx="301.6" cy="275.2" r="1.8"/><circle cx="304.2" cy="285.8" r="1.8"/><circle cx="306.4" cy="296.1" r="1.8"/><circle cx="308.6" cy="306.3" r="1.8"/><circle cx="310.7" cy="316.6" r="1.8"/><circle cx="312.7" cy="326.8" r="1.8"/><circle cx="314.6" cy="337.1" r="1.8"/><circle cx="316.6" cy="347.4" r="1.8"/><circle cx="318.6" cy="357.6" r="1.8"/><circle cx="320.7" cy="367.8" r="1.8"/><circle cx="323.2" cy="378.1" r="1.8"/><circle cx="325.7" cy="388.4" r="1.8"/><circle cx="328.2" cy="399.1" r="1.8"/><circle cx="331.6" cy="409.7" r="1.8"/><circle cx="335.4" cy="420.0" r="1.8"/><circle cx="340.2" cy="430.3" r="1.8"/><circle cx="349.3" cy="440.5" r="1.8"/><circle cx="359.0" cy="446.9" r="1.8"/><circle cx="368.4" cy="451.1" r="1.8"/><circle cx="379.9" cy="456.4" r="1.8"/><circle cx="400.6" cy="461.6" r="1.8"/></g>
</g>
<path d="M322.95,274.40 L327.45,274.40 L327.45,281.20 L329.10,281.20 L325.20,286.80 L321.30,281.20 L322.95,281.20Z" fill="#ff0000"/>
<text x="319.60" y="269.00" font-size="12" text-anchor="start">r<tspan font-size="8.6" dy="2.0">h</tspan></text>
<path d="M376.85,274.40 L381.35,274.40 L381.35,281.20 L383.00,281.20 L379.10,286.80 L375.20,281.20 L376.85,281.20Z" fill="#00bfbf"/>
<text x="374.60" y="269.00" font-size="12" text-anchor="start">r<tspan font-size="8.6" dy="2.0">t</tspan></text>
<path d="M469.25,274.40 L473.75,274.40 L473.75,281.20 L475.40,281.20 L471.50,286.80 L467.60,281.20 L469.25,281.20Z" fill="#0000ff"/>
<text x="466.00" y="269.00" font-size="12" text-anchor="start">r<tspan font-size="8.6" dy="2.0">e</tspan></text>
<rect x="291.80" y="255.90" width="213.10" height="219.40" fill="none" stroke="#000" stroke-width="1.50"/>
<line x1="294.40" y1="475.30" x2="294.40" y2="477.30" stroke="#000" stroke-width="0.6"/>
<text x="294.40" y="488.20" font-size="12.0" text-anchor="middle" >0.00</text>
<line x1="341.10" y1="475.30" x2="341.10" y2="477.30" stroke="#000" stroke-width="0.6"/>
<text x="341.10" y="488.20" font-size="12.0" text-anchor="middle" >0.25</text>
<line x1="387.80" y1="475.30" x2="387.80" y2="477.30" stroke="#000" stroke-width="0.6"/>
<text x="387.80" y="488.20" font-size="12.0" text-anchor="middle" >0.50</text>
<line x1="434.50" y1="475.30" x2="434.50" y2="477.30" stroke="#000" stroke-width="0.6"/>
<text x="434.50" y="488.20" font-size="12.0" text-anchor="middle" >0.75</text>
<line x1="481.20" y1="475.30" x2="481.20" y2="477.30" stroke="#000" stroke-width="0.6"/>
<text x="481.20" y="488.20" font-size="12.0" text-anchor="middle" >1.00</text>
<line x1="289.80" y1="466.10" x2="291.80" y2="466.10" stroke="#000" stroke-width="0.6"/>
<text x="288.10" y="470.55" font-size="12.0" text-anchor="end" >0.0</text>
<line x1="289.80" y1="425.05" x2="291.80" y2="425.05" stroke="#000" stroke-width="0.6"/>
<text x="288.10" y="429.50" font-size="12.0" text-anchor="end" >0.2</text>
<line x1="289.80" y1="384.00" x2="291.80" y2="384.00" stroke="#000" stroke-width="0.6"/>
<text x="288.10" y="388.45" font-size="12.0" text-anchor="end" >0.4</text>
<line x1="289.80" y1="342.95" x2="291.80" y2="342.95" stroke="#000" stroke-width="0.6"/>
<text x="288.10" y="347.40" font-size="12.0" text-anchor="end" >0.6</text>
<line x1="289.80" y1="301.90" x2="291.80" y2="301.90" stroke="#000" stroke-width="0.6"/>
<text x="288.10" y="306.35" font-size="12.0" text-anchor="end" >0.8</text>
<line x1="289.80" y1="260.85" x2="291.80" y2="260.85" stroke="#000" stroke-width="0.6"/>
<text x="288.10" y="265.30" font-size="12.0" text-anchor="end" >1.0</text>
<text x="398.35" y="502.90" font-size="13.4" text-anchor="middle" >r (deg)</text>
<text transform="translate(265.80,365.60) rotate(-90)" font-size="13.4" text-anchor="middle">F</text>
<g clip-path="url(#c21)">
<path d="M556.25,275.00L560.97,275.13L565.69,275.33L570.40,275.61L575.11,275.94L579.81,276.31L584.50,276.70L586.99,276.93L589.48,277.20L591.97,277.50L594.46,277.84L596.93,278.20L599.40,278.60L601.14,278.92L602.88,279.29L604.62,279.69L606.35,280.12L608.08,280.56L609.80,281.00L611.14,281.34L612.48,281.68L613.82,282.03L615.16,282.40L616.49,282.79L617.80,283.20L618.90,283.58L619.99,283.99L621.07,284.43L622.15,284.88L623.23,285.34L624.30,285.80L625.28,286.21L626.25,286.63L627.22,287.06L628.19,287.49L629.15,287.94L630.10,288.40L630.98,288.85L631.86,289.32L632.72,289.80L633.59,290.30L634.44,290.80L635.30,291.30L636.11,291.78L636.93,292.26L637.74,292.75L638.54,293.25L639.33,293.76L640.10,294.30L640.82,294.85L641.52,295.43L642.21,296.03L642.90,296.63L643.59,297.23L644.30,297.80L645.08,298.38L645.87,298.93L646.67,299.48L647.47,300.03L648.25,300.60L649.00,301.20L649.77,301.87L650.52,302.57L651.25,303.29L651.97,304.02L652.68,304.76L653.40,305.50L654.13,306.25L654.86,307.01L655.59,307.77L656.30,308.54L657.01,309.31L657.70,310.10L658.85,311.42L660.00,312.75L661.13,314.09L662.22,315.46L663.25,316.86L664.20,318.30L665.15,319.94L666.02,321.63L666.85,323.37L667.66,325.12L668.46,326.87L669.30,328.60L670.17,330.30L671.05,331.99L671.94,333.68L672.82,335.38L673.68,337.08L674.50,338.80L675.39,340.78L676.25,342.78L677.08,344.78L677.91,346.80L678.74,348.80L679.60,350.80L680.45,352.67L681.34,354.52L682.23,356.38L683.11,358.23L683.94,360.10L684.70,362.00L685.51,364.24L686.27,366.51L687.00,368.79L687.69,371.09L688.35,373.40L689.00,375.70L689.61,377.95L690.20,380.21L690.76,382.48L691.32,384.75L691.86,387.03L692.40,389.30L693.02,391.86L693.63,394.42L694.24,396.98L694.83,399.55L695.39,402.12L695.90,404.70L696.36,407.26L696.80,409.82L697.21,412.39L697.61,414.96L698.00,417.53L698.40,420.10L698.85,422.95L699.31,425.79L699.76,428.64L700.20,431.49L700.62,434.34L701.00,437.20L701.32,439.76L701.63,442.33L701.92,444.89L702.20,447.46L702.46,450.03L702.70,452.60L703.03,456.31L703.33,460.03L703.61,463.74L703.88,467.46L704.14,471.18L704.40,474.90L704.43,475.42L704.47,475.93L704.50,476.45L704.53,476.97L704.57,477.48L704.60,478.00" fill="none" stroke="#f00" stroke-width="2.45" stroke-linejoin="round"/>
<path d="M656.00,478.00L656.07,477.48L656.15,476.96L656.23,476.44L656.31,475.93L656.40,475.41L656.50,474.90L656.96,472.88L657.51,470.88L658.12,468.89L658.74,466.90L659.35,464.90L659.90,462.90L660.53,460.35L661.13,457.78L661.70,455.21L662.27,452.64L662.83,450.07L663.40,447.50L663.96,444.93L664.51,442.36L665.06,439.79L665.61,437.22L666.19,434.65L666.80,432.10L667.45,429.52L668.14,426.94L668.85,424.37L669.58,421.81L670.33,419.25L671.10,416.70L671.89,414.11L672.70,411.53L673.53,408.96L674.38,406.39L675.27,403.84L676.20,401.30L676.97,399.27L677.76,397.23L678.58,395.21L679.44,393.21L680.34,391.23L681.30,389.30L682.17,387.67L683.10,386.04L684.07,384.44L685.10,382.87L686.18,381.36L687.30,379.90L688.06,378.96L688.85,377.99L689.67,377.04L690.54,376.17L691.44,375.40L692.40,374.80L693.18,374.41L694.03,374.02L694.91,373.66L695.81,373.37L696.72,373.17L697.60,373.10L698.47,373.17L699.35,373.37L700.24,373.65L701.11,374.01L701.93,374.40L702.70,374.80L703.31,375.18L703.90,375.63L704.47,376.15L705.01,376.73L705.52,377.35L706.00,378.00" fill="none" stroke="#00bfbf" stroke-width="1.0" stroke-dasharray="5.2,1.7,1,1.7"/>
<g fill="#00bfbf"><circle cx="653.4" cy="456.9" r="2.0"/><circle cx="658.2" cy="456.1" r="2.0"/><circle cx="662.5" cy="438.1" r="2.0"/><circle cx="666.8" cy="428.7" r="2.0"/><circle cx="672.3" cy="414.1" r="2.0"/><circle cx="678.4" cy="398.8" r="2.0"/><circle cx="687.3" cy="382.5" r="2.0"/><circle cx="695.9" cy="374.3" r="2.0"/></g>
<path d="M556.25,275.00L560.97,275.13L565.69,275.33L570.40,275.61L575.11,275.94L579.81,276.31L584.50,276.70L586.99,276.93L589.48,277.20L591.97,277.50L594.46,277.84L596.93,278.20L599.40,278.60L601.14,278.92L602.88,279.29L604.62,279.69L606.35,280.12L608.08,280.56L609.80,281.00L611.14,281.34L612.48,281.68L613.82,282.03L615.16,282.40L616.49,282.79L617.80,283.20L618.90,283.58L619.99,283.99L621.07,284.43L622.15,284.88L623.23,285.34L624.30,285.80L625.28,286.21L626.25,286.63L627.22,287.06L628.19,287.49L629.15,287.94L630.10,288.40L630.98,288.85L631.86,289.32L632.72,289.80L633.59,290.30L634.44,290.80L635.30,291.30L636.11,291.78L636.93,292.26L637.74,292.75L638.54,293.25L639.33,293.76L640.10,294.30L640.82,294.85L641.52,295.43L642.21,296.03L642.90,296.63L643.59,297.23L644.30,297.80L645.08,298.38L645.87,298.93L646.67,299.48L647.47,300.03L648.25,300.60L649.00,301.20L649.77,301.87L650.52,302.57L651.25,303.29L651.97,304.02L652.68,304.76L653.40,305.50L654.13,306.25L654.85,307.02L655.57,307.78L656.28,308.55L656.99,309.33L657.70,310.10L658.47,310.94L659.25,311.79L660.02,312.63L660.79,313.48L661.55,314.34L662.30,315.20L663.16,316.18L664.01,317.17L664.86,318.15L665.70,319.15L666.52,320.17L667.30,321.20L668.20,322.47L669.06,323.78L669.90,325.11L670.73,326.44L671.56,327.78L672.40,329.10L673.40,330.64L674.39,332.17L675.39,333.71L676.39,335.24L677.39,336.77L678.40,338.30L679.85,340.52L681.30,342.75L682.75,344.98L684.22,347.19L685.74,349.37L687.30,351.50L688.67,353.23L690.10,354.91L691.56,356.58L693.03,358.23L694.48,359.90L695.90,361.60L697.21,363.20L698.53,364.79L699.84,366.40L701.11,368.03L702.30,369.69L703.40,371.40L704.71,373.78L705.91,376.26L707.03,378.79L708.12,381.35L709.23,383.90L710.40,386.40L711.24,388.04L712.10,389.67L712.98,391.29L713.85,392.91L714.70,394.55L715.50,396.20L716.28,397.87L717.04,399.56L717.79,401.25L718.50,402.95L719.18,404.67L719.80,406.40L720.44,408.37L721.02,410.36L721.57,412.37L722.11,414.38L722.64,416.40L723.20,418.40L723.86,420.68L724.54,422.97L725.21,425.25L725.88,427.53L726.55,429.81L727.20,432.10L727.84,434.38L728.46,436.66L729.09,438.94L729.70,441.23L730.30,443.51L730.90,445.80L731.49,448.08L732.06,450.36L732.63,452.64L733.20,454.93L733.75,457.21L734.30,459.50L734.92,462.06L735.54,464.62L736.15,467.18L736.74,469.75L737.30,472.32L737.80,474.90L737.89,475.41L737.98,475.93L738.06,476.45L738.14,476.96L738.22,477.48L738.30,478.00" fill="none" stroke="#00f" stroke-width="2.7" stroke-linejoin="round"/>
<path d="M582.7,276.7H586.3M582.7,274.9V278.4M586.3,274.9V278.4M597.6,278.6H601.2M597.6,276.9V280.4M601.2,276.9V280.4M608.0,281.0H611.6M608.0,279.2V282.8M611.6,279.2V282.8M616.0,283.2H619.6M616.0,281.4V284.9M619.6,281.4V284.9M622.5,285.8H626.1M622.5,284.1V287.6M626.1,284.1V287.6M628.3,288.4H631.9M628.3,286.6V290.1M631.9,286.6V290.1M633.5,291.3H637.1M633.5,289.6V293.1M637.1,289.6V293.1M638.3,294.3H641.9M638.3,292.6V296.1M641.9,292.6V296.1M642.5,297.8H646.1M642.5,296.1V299.6M646.1,296.1V299.6M647.2,301.2H650.8M647.2,299.4V302.9M650.8,299.4V302.9M651.6,305.5H655.2M651.6,303.8V307.2M655.2,303.8V307.2M655.9,310.1H659.5M655.9,308.4V311.9M659.5,308.4V311.9M660.5,315.2H664.1M660.5,313.4V316.9M664.1,313.4V316.9M665.5,321.2H669.1M665.5,319.4V322.9M669.1,319.4V322.9M670.6,329.1H674.2M670.6,327.4V330.9M674.2,327.4V330.9M676.6,338.3H680.2M676.6,336.6V340.1M680.2,336.6V340.1M685.5,351.5H689.1M685.5,349.8V353.2M689.1,349.8V353.2M694.1,361.6H697.7M694.1,359.9V363.4M697.7,359.9V363.4M701.6,371.4H705.2M701.6,369.6V373.1M705.2,369.6V373.1M707.0,386.4H713.8M707.0,384.6V388.1M713.8,384.6V388.1M710.4,385.2V387.6M708.6,385.2H712.1M708.6,387.6H712.1M718.6,417.2H726.2M718.6,415.4V418.9M726.2,415.4V418.9M722.4,411.6V422.8M720.6,411.6H724.1M720.6,422.8H724.1" fill="none" stroke="#f00" stroke-width="1.05"/>
<g fill="#f00"><circle cx="584.5" cy="276.7" r="1.8"/><circle cx="599.4" cy="278.6" r="1.8"/><circle cx="609.8" cy="281.0" r="1.8"/><circle cx="617.8" cy="283.2" r="1.8"/><circle cx="624.3" cy="285.8" r="1.8"/><circle cx="630.1" cy="288.4" r="1.8"/><circle cx="635.3" cy="291.3" r="1.8"/><circle cx="640.1" cy="294.3" r="1.8"/><circle cx="644.3" cy="297.8" r="1.8"/><circle cx="649.0" cy="301.2" r="1.8"/><circle cx="653.4" cy="305.5" r="1.8"/><circle cx="657.7" cy="310.1" r="1.8"/><circle cx="662.3" cy="315.2" r="1.8"/><circle cx="667.3" cy="321.2" r="1.8"/><circle cx="672.4" cy="329.1" r="1.8"/><circle cx="678.4" cy="338.3" r="1.8"/><circle cx="687.3" cy="351.5" r="1.8"/><circle cx="695.9" cy="361.6" r="1.8"/><circle cx="703.4" cy="371.4" r="1.8"/><circle cx="710.4" cy="386.4" r="1.8"/><circle cx="722.4" cy="417.2" r="1.8"/></g>
</g>
<path d="M654.65,272.80 L659.15,272.80 L659.15,277.70 L660.80,277.70 L656.90,283.30 L653.00,277.70 L654.65,277.70Z" fill="#ff0000"/>
<text x="651.30" y="269.00" font-size="12" text-anchor="start">r<tspan font-size="8.6" dy="2.0">h</tspan></text>
<path d="M708.15,272.80 L712.65,272.80 L712.65,277.70 L714.30,277.70 L710.40,283.30 L706.50,277.70 L708.15,277.70Z" fill="#00bfbf"/>
<text x="705.90" y="269.00" font-size="12" text-anchor="start">r<tspan font-size="8.6" dy="2.0">t</tspan></text>
<path d="M746.95,272.80 L751.45,272.80 L751.45,277.70 L753.10,277.70 L749.20,283.30 L745.30,277.70 L746.95,277.70Z" fill="#0000ff"/>
<text x="743.70" y="269.00" font-size="12" text-anchor="start">r<tspan font-size="8.6" dy="2.0">e</tspan></text>
<rect x="546.80" y="255.90" width="212.40" height="219.40" fill="none" stroke="#000" stroke-width="1.50"/>
<line x1="591.70" y1="475.30" x2="591.70" y2="477.30" stroke="#000" stroke-width="0.6"/>
<text x="591.70" y="488.20" font-size="12.0" text-anchor="middle" >−3</text>
<line x1="645.30" y1="475.30" x2="645.30" y2="477.30" stroke="#000" stroke-width="0.6"/>
<text x="645.30" y="488.20" font-size="12.0" text-anchor="middle" >−2</text>
<line x1="698.90" y1="475.30" x2="698.90" y2="477.30" stroke="#000" stroke-width="0.6"/>
<text x="698.90" y="488.20" font-size="12.0" text-anchor="middle" >−1</text>
<line x1="752.50" y1="475.30" x2="752.50" y2="477.30" stroke="#000" stroke-width="0.6"/>
<text x="752.50" y="488.20" font-size="12.0" text-anchor="middle" >0</text>
<line x1="544.80" y1="274.60" x2="546.80" y2="274.60" stroke="#000" stroke-width="0.6"/>
<text x="543.10" y="279.05" font-size="12.0" text-anchor="end" >0</text>
<line x1="544.80" y1="311.30" x2="546.80" y2="311.30" stroke="#000" stroke-width="0.6"/>
<text x="543.10" y="315.75" font-size="12.0" text-anchor="end" >−1</text>
<line x1="544.80" y1="348.00" x2="546.80" y2="348.00" stroke="#000" stroke-width="0.6"/>
<text x="543.10" y="352.45" font-size="12.0" text-anchor="end" >−2</text>
<line x1="544.80" y1="384.70" x2="546.80" y2="384.70" stroke="#000" stroke-width="0.6"/>
<text x="543.10" y="389.15" font-size="12.0" text-anchor="end" >−3</text>
<line x1="544.80" y1="421.40" x2="546.80" y2="421.40" stroke="#000" stroke-width="0.6"/>
<text x="543.10" y="425.85" font-size="12.0" text-anchor="end" >−4</text>
<line x1="544.80" y1="458.10" x2="546.80" y2="458.10" stroke="#000" stroke-width="0.6"/>
<text x="543.10" y="462.55" font-size="12.0" text-anchor="end" >−5</text>
<text x="653.00" y="502.90" font-size="13.4" text-anchor="middle" >ln(r)</text>
<text transform="translate(521.80,365.60) rotate(-90)" font-size="13.4" text-anchor="middle">ln(F)</text>
<g clip-path="url(#c12)">
<path d="M295.60,519.40L296.09,521.19L296.56,522.99L297.02,524.78L297.46,526.59L297.89,528.39L298.30,530.20L298.68,531.96L299.04,533.72L299.38,535.49L299.72,537.26L300.06,539.03L300.40,540.80L300.74,542.57L301.08,544.33L301.41,546.10L301.74,547.87L302.07,549.63L302.40,551.40L302.71,553.05L303.03,554.70L303.34,556.34L303.65,557.99L303.94,559.65L304.20,561.30L304.44,563.01L304.66,564.73L304.86,566.45L305.07,568.17L305.27,569.88L305.50,571.60L305.76,573.45L306.04,575.30L306.32,577.15L306.61,579.00L306.91,580.85L307.20,582.70L307.47,584.42L307.75,586.14L308.03,587.85L308.31,589.57L308.60,591.29L308.90,593.00L309.19,594.57L309.49,596.13L309.81,597.70L310.12,599.26L310.42,600.83L310.70,602.40L310.98,604.10L311.24,605.80L311.50,607.50L311.76,609.20L312.02,610.90L312.30,612.60L312.61,614.34L312.93,616.07L313.27,617.81L313.61,619.54L313.95,621.27L314.30,623.00L314.64,624.70L314.99,626.40L315.34,628.10L315.70,629.80L316.05,631.50L316.40,633.20L316.73,634.83L317.06,636.47L317.39,638.10L317.73,639.73L318.06,641.37L318.40,643.00L318.82,645.00L319.25,647.00L319.68,649.00L320.12,651.00L320.56,653.00L321.00,655.00L321.59,657.69L322.17,660.39L322.75,663.08L323.36,665.77L324.00,668.44L324.70,671.10L325.30,673.23L325.94,675.35L326.62,677.47L327.34,679.57L328.10,681.65L328.90,683.70L329.66,685.50L330.47,687.29L331.34,689.06L332.25,690.81L333.21,692.52L334.20,694.20L335.13,695.67L336.11,697.13L337.15,698.57L338.22,699.97L339.34,701.31L340.50,702.60L341.62,703.74L342.80,704.86L344.03,705.93L345.30,706.97L346.59,707.96L347.90,708.90L349.07,709.70L350.28,710.47L351.51,711.21L352.75,711.92L354.02,712.59L355.30,713.20L356.66,713.80L358.04,714.38L359.43,714.93L360.85,715.43L362.27,715.89L363.70,716.30L365.42,716.73L367.16,717.14L368.91,717.51L370.67,717.84L372.44,718.14L374.20,718.40L375.94,718.63L377.69,718.84L379.44,719.03L381.19,719.21L382.95,719.36L384.70,719.50L387.16,719.67L389.63,719.84L392.09,719.98L394.56,720.11L397.03,720.22L399.50,720.30L402.30,720.37L405.10,720.45L407.90,720.51L410.70,720.56L413.50,720.59L416.30,720.60L421.92,720.60L427.53,720.60L433.15,720.60L438.77,720.60L444.38,720.60L450.00,720.60L459.33,720.60L468.67,720.60L478.00,720.60L487.33,720.60L496.67,720.60L506.00,720.60" fill="none" stroke="#f00" stroke-width="2.45" stroke-linejoin="round"/>
<path d="M295.60,519.40L296.09,521.19L296.56,522.99L297.02,524.78L297.46,526.59L297.89,528.39L298.30,530.20L298.68,531.96L299.04,533.72L299.38,535.49L299.72,537.26L300.06,539.03L300.40,540.80L300.74,542.57L301.08,544.33L301.41,546.10L301.74,547.87L302.07,549.63L302.40,551.40L302.71,553.05L303.03,554.70L303.34,556.34L303.65,557.99L303.94,559.65L304.20,561.30L304.44,563.01L304.66,564.73L304.86,566.45L305.07,568.17L305.27,569.88L305.50,571.60L305.76,573.45L306.04,575.30L306.32,577.15L306.61,579.00L306.91,580.85L307.20,582.70L307.47,584.42L307.75,586.14L308.03,587.85L308.31,589.57L308.60,591.29L308.90,593.00L309.19,594.57L309.49,596.13L309.81,597.70L310.12,599.26L310.42,600.83L310.70,602.40L310.98,604.10L311.24,605.80L311.50,607.50L311.76,609.20L312.02,610.90L312.30,612.60L312.61,614.34L312.93,616.07L313.27,617.81L313.61,619.54L313.95,621.27L314.30,623.00L314.64,624.70L314.97,626.41L315.31,628.11L315.66,629.81L316.02,631.51L316.40,633.20L316.80,634.96L317.21,636.73L317.64,638.49L318.09,640.25L318.57,641.98L319.10,643.70L319.72,645.51L320.40,647.31L321.14,649.10L321.93,650.86L322.79,652.56L323.70,654.20L324.92,656.07L326.29,657.88L327.78,659.63L329.34,661.34L330.93,663.03L332.50,664.70L334.12,666.41L335.77,668.08L337.46,669.73L339.17,671.36L340.89,672.98L342.60,674.60L344.35,676.24L346.11,677.85L347.89,679.46L349.66,681.07L351.44,682.68L353.20,684.30L354.92,685.91L356.63,687.53L358.34,689.16L360.05,690.78L361.77,692.40L363.50,694.00L364.76,695.15L366.02,696.29L367.28,697.42L368.55,698.55L369.82,699.68L371.10,700.80L372.02,701.62L372.93,702.46L373.85,703.30L374.77,704.11L375.72,704.89L376.70,705.60L378.39,706.68L380.15,707.70L381.96,708.66L383.80,709.57L385.65,710.45L387.50,711.30L389.52,712.24L391.56,713.19L393.61,714.11L395.69,714.96L397.78,715.70L399.90,716.30L401.89,716.76L403.91,717.16L405.95,717.53L408.00,717.86L410.05,718.15L412.10,718.40L414.19,718.63L416.29,718.84L418.39,719.04L420.49,719.21L422.60,719.36L424.70,719.50L426.81,719.63L428.93,719.74L431.05,719.85L433.16,719.94L435.28,720.03L437.40,720.10L439.50,720.17L441.60,720.23L443.70,720.28L445.80,720.33L447.90,720.37L450.00,720.40L455.00,720.45L460.00,720.50L465.00,720.54L470.00,720.57L475.00,720.59L480.00,720.60L484.33,720.60L488.67,720.60L493.00,720.60L497.33,720.60L501.67,720.60L506.00,720.60" fill="none" stroke="#00f" stroke-width="2.7" stroke-linejoin="round"/>
<path d="M296.6,530.2H300.0M296.6,528.5V532.0M300.0,528.5V532.0M298.6,540.8H302.2M298.6,539.0V542.5M302.2,539.0V542.5M300.4,551.4H304.4M300.4,549.6V553.1M304.4,549.6V553.1M302.1,561.3H306.3M302.1,559.5V563.0M306.3,559.5V563.0M303.2,571.6H307.8M303.2,569.9V573.4M307.8,569.9V573.4M304.7,582.7H309.7M304.7,581.0V584.5M309.7,581.0V584.5M306.2,593.0H311.6M306.2,591.2V594.8M311.6,591.2V594.8M307.9,602.4H313.5M307.9,600.6V604.1M313.5,600.6V604.1M309.4,612.6H315.2M309.4,610.9V614.4M315.2,610.9V614.4M311.1,623.0H317.5M311.1,621.2V624.8M317.5,621.2V624.8M312.8,633.2H320.0M312.8,631.5V635.0M320.0,631.5V635.0M315.1,643.7H323.1M315.1,642.0V645.5M323.1,642.0V645.5M318.4,654.2H329.0M318.4,652.5V656.0M329.0,652.5V656.0M324.7,664.7H340.3M324.7,663.0V666.5M340.3,663.0V666.5M330.4,674.6H354.8M330.4,672.9V676.4M354.8,672.9V676.4M338.9,684.3H367.5M338.9,682.5V686.0M367.5,682.5V686.0M347.5,695.3H379.1M347.5,693.5V697.0M379.1,693.5V697.0M355.1,701.6H387.1M355.1,699.9V703.4M387.1,699.9V703.4M360.9,706.0H392.5M360.9,704.2V707.8M392.5,704.2V707.8M371.1,711.1H403.9M371.1,709.4V712.9M403.9,709.4V712.9M382.6,716.3H417.2M382.6,714.5V718.0M417.2,714.5V718.0" fill="none" stroke="#f00" stroke-width="1.05"/>
<g fill="#f00"><circle cx="298.3" cy="530.2" r="1.8"/><circle cx="300.4" cy="540.8" r="1.8"/><circle cx="302.4" cy="551.4" r="1.8"/><circle cx="304.2" cy="561.3" r="1.8"/><circle cx="305.5" cy="571.6" r="1.8"/><circle cx="307.2" cy="582.7" r="1.8"/><circle cx="308.9" cy="593.0" r="1.8"/><circle cx="310.7" cy="602.4" r="1.8"/><circle cx="312.3" cy="612.6" r="1.8"/><circle cx="314.3" cy="623.0" r="1.8"/><circle cx="316.4" cy="633.2" r="1.8"/><circle cx="319.1" cy="643.7" r="1.8"/><circle cx="323.7" cy="654.2" r="1.8"/><circle cx="332.5" cy="664.7" r="1.8"/><circle cx="342.6" cy="674.6" r="1.8"/><circle cx="353.2" cy="684.3" r="1.8"/><circle cx="363.3" cy="695.3" r="1.8"/><circle cx="371.1" cy="701.6" r="1.8"/><circle cx="376.7" cy="706.0" r="1.8"/><circle cx="387.5" cy="711.1" r="1.8"/><circle cx="399.9" cy="716.3" r="1.8"/></g>
</g>
<path d="M337.85,529.20 L342.35,529.20 L342.35,536.00 L344.00,536.00 L340.10,541.60 L336.20,536.00 L337.85,536.00Z" fill="#ff0000"/>
<text x="334.50" y="523.80" font-size="12" text-anchor="start">r<tspan font-size="8.6" dy="2.0">h</tspan></text>
<path d="M399.95,529.20 L404.45,529.20 L404.45,536.00 L406.10,536.00 L402.20,541.60 L398.30,536.00 L399.95,536.00Z" fill="#00bfbf"/>
<text x="397.70" y="523.80" font-size="12" text-anchor="start">r<tspan font-size="8.6" dy="2.0">t</tspan></text>
<path d="M449.35,529.20 L453.85,529.20 L453.85,536.00 L455.50,536.00 L451.60,541.60 L447.70,536.00 L449.35,536.00Z" fill="#0000ff"/>
<text x="446.10" y="523.80" font-size="12" text-anchor="start">r<tspan font-size="8.6" dy="2.0">e</tspan></text>
<rect x="291.80" y="510.70" width="213.10" height="219.50" fill="none" stroke="#000" stroke-width="1.50"/>
<line x1="292.10" y1="730.20" x2="292.10" y2="732.20" stroke="#000" stroke-width="0.6"/>
<text x="292.10" y="743.10" font-size="12.0" text-anchor="middle" >0</text>
<line x1="361.40" y1="730.20" x2="361.40" y2="732.20" stroke="#000" stroke-width="0.6"/>
<text x="361.40" y="743.10" font-size="12.0" text-anchor="middle" >2</text>
<line x1="430.80" y1="730.20" x2="430.80" y2="732.20" stroke="#000" stroke-width="0.6"/>
<text x="430.80" y="743.10" font-size="12.0" text-anchor="middle" >4</text>
<line x1="500.20" y1="730.20" x2="500.20" y2="732.20" stroke="#000" stroke-width="0.6"/>
<text x="500.20" y="743.10" font-size="12.0" text-anchor="middle" >6</text>
<line x1="289.80" y1="720.60" x2="291.80" y2="720.60" stroke="#000" stroke-width="0.6"/>
<text x="288.10" y="725.05" font-size="12.0" text-anchor="end" >0.0</text>
<line x1="289.80" y1="679.55" x2="291.80" y2="679.55" stroke="#000" stroke-width="0.6"/>
<text x="288.10" y="684.00" font-size="12.0" text-anchor="end" >0.2</text>
<line x1="289.80" y1="638.50" x2="291.80" y2="638.50" stroke="#000" stroke-width="0.6"/>
<text x="288.10" y="642.95" font-size="12.0" text-anchor="end" >0.4</text>
<line x1="289.80" y1="597.45" x2="291.80" y2="597.45" stroke="#000" stroke-width="0.6"/>
<text x="288.10" y="601.90" font-size="12.0" text-anchor="end" >0.6</text>
<line x1="289.80" y1="556.40" x2="291.80" y2="556.40" stroke="#000" stroke-width="0.6"/>
<text x="288.10" y="560.85" font-size="12.0" text-anchor="end" >0.8</text>
<line x1="289.80" y1="515.35" x2="291.80" y2="515.35" stroke="#000" stroke-width="0.6"/>
<text x="288.10" y="519.80" font-size="12.0" text-anchor="end" >1.0</text>
<text x="398.35" y="757.80" font-size="13.4" text-anchor="middle" >r (deg)</text>
<text transform="translate(265.80,620.45) rotate(-90)" font-size="13.4" text-anchor="middle">F</text>
<g clip-path="url(#c22)">
<path d="M555.70,529.30L560.15,529.53L564.59,529.82L569.02,530.16L573.45,530.54L577.88,530.96L582.30,531.40L584.81,531.67L587.31,531.96L589.82,532.28L592.32,532.62L594.82,532.99L597.30,533.40L599.03,533.71L600.75,534.06L602.48,534.43L604.19,534.83L605.90,535.26L607.60,535.70L608.75,536.02L609.89,536.36L611.02,536.72L612.16,537.10L613.28,537.49L614.40,537.90L615.36,538.26L616.32,538.65L617.27,539.04L618.22,539.45L619.16,539.87L620.10,540.30L621.01,540.73L621.92,541.16L622.82,541.61L623.71,542.07L624.61,542.53L625.50,543.00L626.51,543.53L627.53,544.05L628.54,544.59L629.54,545.14L630.53,545.71L631.50,546.30L632.29,546.83L633.05,547.39L633.81,547.98L634.57,548.56L635.33,549.14L636.10,549.70L636.89,550.23L637.69,550.74L638.50,551.25L639.31,551.75L640.11,552.27L640.90,552.80L641.72,553.39L642.54,553.98L643.35,554.59L644.15,555.21L644.93,555.85L645.70,556.50L646.84,557.52L647.95,558.57L649.05,559.65L650.12,560.75L651.17,561.87L652.20,563.00L653.41,564.38L654.59,565.78L655.76,567.21L656.89,568.66L658.01,570.13L659.10,571.60L660.29,573.26L661.45,574.94L662.60,576.63L663.72,578.34L664.82,580.07L665.90,581.80L667.10,583.77L668.26,585.76L669.41,587.76L670.54,589.77L671.67,591.79L672.80,593.80L673.98,595.91L675.16,598.02L676.34,600.13L677.50,602.25L678.66,604.37L679.80,606.50L680.94,608.65L682.08,610.81L683.21,612.97L684.33,615.14L685.43,617.31L686.50,619.50L687.33,621.23L688.15,622.98L688.96,624.72L689.75,626.48L690.53,628.24L691.30,630.00L692.05,631.74L692.80,633.47L693.54,635.22L694.26,636.97L694.95,638.73L695.60,640.50L696.58,643.38L697.51,646.28L698.40,649.20L699.26,652.13L700.09,655.06L700.90,658.00L701.66,660.84L702.40,663.68L703.12,666.53L703.82,669.39L704.51,672.24L705.20,675.10L705.95,678.23L706.70,681.35L707.44,684.48L708.15,687.62L708.85,690.76L709.50,693.90L710.07,696.76L710.62,699.62L711.16,702.48L711.67,705.35L712.15,708.22L712.60,711.10L713.05,714.24L713.47,717.39L713.87,720.54L714.25,723.69L714.63,726.85L715.00,730.00L715.07,730.58L715.14,731.17L715.20,731.75L715.27,732.33L715.33,732.92L715.40,733.50" fill="none" stroke="#f00" stroke-width="2.45" stroke-linejoin="round"/>
<path d="M640.30,733.50L640.36,732.90L640.42,732.30L640.48,731.70L640.55,731.10L640.62,730.50L640.70,729.90L641.08,727.32L641.51,724.74L642.00,722.17L642.51,719.61L643.05,717.05L643.60,714.50L644.11,712.21L644.66,709.92L645.24,707.64L645.83,705.36L646.42,703.08L647.00,700.80L647.58,698.52L648.18,696.24L648.77,693.95L649.36,691.67L649.94,689.39L650.50,687.10L651.22,683.97L651.91,680.83L652.58,677.69L653.25,674.55L653.95,671.42L654.70,668.30L655.37,665.72L656.07,663.15L656.80,660.59L657.53,658.03L658.27,655.46L659.00,652.90L659.70,650.33L660.39,647.75L661.08,645.17L661.78,642.60L662.52,640.04L663.30,637.50L664.06,635.19L664.86,632.88L665.69,630.59L666.56,628.30L667.46,626.04L668.40,623.80L669.29,621.75L670.22,619.71L671.19,617.67L672.20,615.67L673.27,613.71L674.40,611.80L675.16,610.57L675.96,609.34L676.79,608.12L677.68,606.95L678.61,605.87L679.60,604.90L680.58,604.02L681.65,603.10L682.79,602.23L683.97,601.50L685.18,600.99L686.40,600.80L687.46,600.80L688.57,600.80L689.71,600.80L690.85,600.80L691.95,600.80L693.00,600.80L693.94,600.95L694.86,601.37L695.76,601.96L696.62,602.66L697.44,603.40L698.20,604.10L699.17,605.06L700.09,606.13L700.96,607.28L701.78,608.47L702.56,609.69L703.30,610.90L704.10,612.27L704.85,613.69L705.56,615.13L706.25,616.58L706.93,618.04L707.60,619.50L708.38,621.18L709.15,622.86L709.91,624.56L710.65,626.26L711.35,627.97L712.00,629.70L712.37,630.74L712.72,631.78L713.06,632.83L713.39,633.88L713.70,634.94L714.00,636.00" fill="none" stroke="#00bfbf" stroke-width="1.0" stroke-dasharray="5.2,1.7,1,1.7"/>
<g fill="#00bfbf"><circle cx="607.7" cy="730.7" r="2.0"/><circle cx="650.1" cy="689.2" r="2.0"/><circle cx="655.9" cy="665.2" r="2.0"/><circle cx="662.9" cy="638.0" r="2.0"/><circle cx="674.9" cy="610.1" r="2.0"/><circle cx="686.4" cy="601.5" r="2.0"/><circle cx="695.9" cy="603.2" r="2.0"/><circle cx="703.7" cy="612.1" r="2.0"/><circle cx="708.8" cy="621.2" r="2.0"/><circle cx="712.0" cy="628.5" r="2.0"/></g>
<path d="M555.70,529.30L560.15,529.53L564.59,529.82L569.02,530.16L573.45,530.54L577.88,530.96L582.30,531.40L584.81,531.67L587.31,531.96L589.82,532.28L592.32,532.62L594.82,532.99L597.30,533.40L599.03,533.71L600.75,534.06L602.48,534.43L604.19,534.83L605.90,535.26L607.60,535.70L608.75,536.02L609.89,536.36L611.02,536.72L612.16,537.10L613.28,537.49L614.40,537.90L615.36,538.26L616.32,538.65L617.27,539.04L618.22,539.45L619.16,539.87L620.10,540.30L621.01,540.73L621.92,541.16L622.82,541.61L623.71,542.07L624.61,542.53L625.50,543.00L626.51,543.53L627.53,544.05L628.54,544.59L629.54,545.14L630.53,545.71L631.50,546.30L632.29,546.83L633.05,547.39L633.81,547.98L634.57,548.56L635.33,549.14L636.10,549.70L636.89,550.23L637.69,550.74L638.50,551.25L639.31,551.75L640.11,552.27L640.90,552.80L641.72,553.39L642.52,554.00L643.32,554.63L644.11,555.25L644.90,555.88L645.70,556.50L646.58,557.17L647.48,557.82L648.37,558.48L649.26,559.14L650.14,559.81L651.00,560.50L651.88,561.25L652.74,562.03L653.59,562.82L654.44,563.61L655.31,564.37L656.20,565.10L657.38,565.99L658.59,566.86L659.83,567.70L661.07,568.52L662.33,569.32L663.60,570.10L665.52,571.20L667.47,572.24L669.45,573.25L671.43,574.26L673.39,575.30L675.30,576.40L677.21,577.59L679.11,578.81L680.98,580.07L682.83,581.38L684.64,582.72L686.40,584.10L688.08,585.47L689.75,586.88L691.39,588.34L692.97,589.84L694.49,591.40L695.90,593.00L697.39,594.89L698.82,596.88L700.17,598.93L701.47,601.03L702.71,603.16L703.90,605.30L704.83,607.05L705.72,608.83L706.57,610.63L707.40,612.45L708.21,614.27L709.00,616.10L709.67,617.68L710.31,619.28L710.94,620.88L711.57,622.49L712.18,624.09L712.80,625.70L713.78,628.17L714.77,630.64L715.76,633.11L716.72,635.59L717.60,638.08L718.40,640.60L719.01,642.80L719.57,645.03L720.10,647.26L720.60,649.51L721.10,651.76L721.60,654.00L722.08,656.16L722.56,658.33L723.02,660.49L723.48,662.66L723.94,664.83L724.40,667.00L724.87,669.25L725.34,671.50L725.81,673.75L726.27,676.00L726.73,678.25L727.20,680.50L727.66,682.75L728.13,685.00L728.59,687.25L729.05,689.50L729.52,691.75L730.00,694.00L730.58,696.67L731.18,699.34L731.78,702.00L732.39,704.67L733.00,707.33L733.60,710.00L734.36,713.37L735.11,716.73L735.87,720.10L736.62,723.46L737.37,726.83L738.10,730.20L738.22,730.75L738.34,731.30L738.45,731.85L738.57,732.40L738.68,732.95L738.80,733.50" fill="none" stroke="#00f" stroke-width="2.7" stroke-linejoin="round"/>
<path d="M579.3,531.4H585.3M579.3,529.6V533.1M585.3,529.6V533.1M594.3,533.4H600.3M594.3,531.6V535.1M600.3,531.6V535.1M604.6,535.7H610.6M604.6,534.0V537.5M610.6,534.0V537.5M611.4,537.9H617.4M611.4,536.1V539.6M617.4,536.1V539.6M617.1,540.3H623.1M617.1,538.5V542.0M623.1,538.5V542.0M622.5,543.0H628.5M622.5,541.2V544.8M628.5,541.2V544.8M628.5,546.3H634.5M628.5,544.5V548.0M634.5,544.5V548.0M633.1,549.7H639.1M633.1,548.0V551.5M639.1,548.0V551.5M637.9,552.8H643.9M637.9,551.0V554.5M643.9,551.0V554.5M642.7,556.5H648.7M642.7,554.8V558.2M648.7,554.8V558.2M648.0,560.5H654.0M648.0,558.8V562.2M654.0,558.8V562.2M653.2,565.1H659.2M653.2,563.4V566.9M659.2,563.4V566.9M659.6,570.1H667.6M659.6,568.4V571.9M667.6,568.4V571.9M670.5,576.4H680.1M670.5,574.6V578.1M680.1,574.6V578.1M681.6,584.1H691.2M681.6,582.4V585.9M691.2,582.4V585.9M691.1,593.0H700.7M691.1,591.2V594.8M700.7,591.2V594.8M699.1,605.3H708.7M699.1,603.5V607.0M708.7,603.5V607.0M704.5,616.1H713.5M704.5,614.4V617.9M713.5,614.4V617.9M708.8,625.7H716.8M708.8,624.0V627.5M716.8,624.0V627.5M715.0,640.6H721.8M715.0,638.9V642.4M721.8,638.9V642.4M718.4,639.6V641.6M716.6,639.6H720.1M716.6,641.6H720.1M721.1,670.9H727.9M721.1,669.1V672.6M727.9,669.1V672.6M724.5,664.9V676.9M722.8,664.9H726.2M722.8,676.9H726.2" fill="none" stroke="#f00" stroke-width="1.05"/>
<g fill="#f00"><circle cx="582.3" cy="531.4" r="1.8"/><circle cx="597.3" cy="533.4" r="1.8"/><circle cx="607.6" cy="535.7" r="1.8"/><circle cx="614.4" cy="537.9" r="1.8"/><circle cx="620.1" cy="540.3" r="1.8"/><circle cx="625.5" cy="543.0" r="1.8"/><circle cx="631.5" cy="546.3" r="1.8"/><circle cx="636.1" cy="549.7" r="1.8"/><circle cx="640.9" cy="552.8" r="1.8"/><circle cx="645.7" cy="556.5" r="1.8"/><circle cx="651.0" cy="560.5" r="1.8"/><circle cx="656.2" cy="565.1" r="1.8"/><circle cx="663.6" cy="570.1" r="1.8"/><circle cx="675.3" cy="576.4" r="1.8"/><circle cx="686.4" cy="584.1" r="1.8"/><circle cx="695.9" cy="593.0" r="1.8"/><circle cx="703.9" cy="605.3" r="1.8"/><circle cx="709.0" cy="616.1" r="1.8"/><circle cx="712.8" cy="625.7" r="1.8"/><circle cx="718.4" cy="640.6" r="1.8"/><circle cx="724.5" cy="670.9" r="1.8"/></g>
</g>
<path d="M681.95,527.60 L686.45,527.60 L686.45,532.50 L688.10,532.50 L684.20,538.10 L680.30,532.50 L681.95,532.50Z" fill="#ff0000"/>
<text x="678.60" y="523.80" font-size="12" text-anchor="start">r<tspan font-size="8.6" dy="2.0">h</tspan></text>
<path d="M723.55,527.60 L728.05,527.60 L728.05,532.50 L729.70,532.50 L725.80,538.10 L721.90,532.50 L723.55,532.50Z" fill="#00bfbf"/>
<text x="721.30" y="523.80" font-size="12" text-anchor="start">r<tspan font-size="8.6" dy="2.0">t</tspan></text>
<path d="M742.05,527.60 L746.55,527.60 L746.55,532.50 L748.20,532.50 L744.30,538.10 L740.40,532.50 L742.05,532.50Z" fill="#0000ff"/>
<text x="738.80" y="523.80" font-size="12" text-anchor="start">r<tspan font-size="8.6" dy="2.0">e</tspan></text>
<rect x="546.80" y="510.70" width="212.40" height="219.50" fill="none" stroke="#000" stroke-width="1.50"/>
<line x1="567.30" y1="730.20" x2="567.30" y2="732.20" stroke="#000" stroke-width="0.6"/>
<text x="567.30" y="743.10" font-size="12.0" text-anchor="middle" >−2</text>
<line x1="617.40" y1="730.20" x2="617.40" y2="732.20" stroke="#000" stroke-width="0.6"/>
<text x="617.40" y="743.10" font-size="12.0" text-anchor="middle" >−1</text>
<line x1="667.50" y1="730.20" x2="667.50" y2="732.20" stroke="#000" stroke-width="0.6"/>
<text x="667.50" y="743.10" font-size="12.0" text-anchor="middle" >0</text>
<line x1="717.60" y1="730.20" x2="717.60" y2="732.20" stroke="#000" stroke-width="0.6"/>
<text x="717.60" y="743.10" font-size="12.0" text-anchor="middle" >1</text>
<line x1="544.80" y1="529.40" x2="546.80" y2="529.40" stroke="#000" stroke-width="0.6"/>
<text x="543.10" y="533.85" font-size="12.0" text-anchor="end" >0</text>
<line x1="544.80" y1="566.10" x2="546.80" y2="566.10" stroke="#000" stroke-width="0.6"/>
<text x="543.10" y="570.55" font-size="12.0" text-anchor="end" >−1</text>
<line x1="544.80" y1="602.80" x2="546.80" y2="602.80" stroke="#000" stroke-width="0.6"/>
<text x="543.10" y="607.25" font-size="12.0" text-anchor="end" >−2</text>
<line x1="544.80" y1="639.50" x2="546.80" y2="639.50" stroke="#000" stroke-width="0.6"/>
<text x="543.10" y="643.95" font-size="12.0" text-anchor="end" >−3</text>
<line x1="544.80" y1="676.20" x2="546.80" y2="676.20" stroke="#000" stroke-width="0.6"/>
<text x="543.10" y="680.65" font-size="12.0" text-anchor="end" >−4</text>
<line x1="544.80" y1="712.90" x2="546.80" y2="712.90" stroke="#000" stroke-width="0.6"/>
<text x="543.10" y="717.35" font-size="12.0" text-anchor="end" >−5</text>
<text x="653.00" y="757.80" font-size="13.4" text-anchor="middle" >ln(r)</text>
<text transform="translate(521.80,620.45) rotate(-90)" font-size="13.4" text-anchor="middle">ln(F)</text>
</svg>
</body></html>
